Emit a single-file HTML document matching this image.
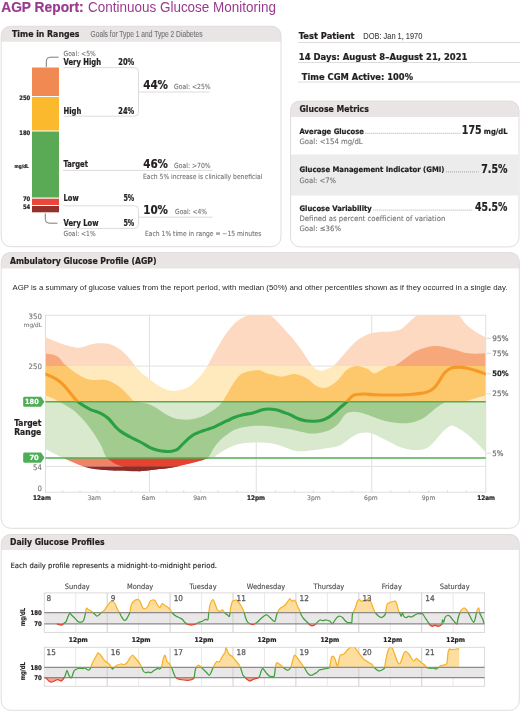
<!DOCTYPE html>
<html><head><meta charset="utf-8"><title>AGP Report</title>
<style>html,body{margin:0;padding:0;background:#fff;}svg{display:block;}</style></head>
<body><svg width="520" height="711" viewBox="0 0 520 711">
<rect width="520" height="711" fill="#fff"/>
<text x="1.2" y="11.9" font-family="Liberation Sans, sans-serif" font-size="14.6" fill="#993a8e"><tspan font-weight="bold" stroke="#993a8e" stroke-width="0.2" textLength="82.4" lengthAdjust="spacingAndGlyphs">AGP Report:</tspan><tspan x="88" textLength="188" lengthAdjust="spacingAndGlyphs">Continuous Glucose Monitoring</tspan></text>
<path d="M1.2,41.8 V35.8 Q1.2,26.3 10.7,26.3 H271.5 Q281,26.3 281,35.8 V41.8 Z" fill="#e9e5e4"/>
<rect x="1.2" y="26.3" width="279.8" height="220.39999999999998" rx="9.5" ry="9.5" fill="none" stroke="#e0dddc" stroke-width="1"/>
<text x="12" y="37" font-family="DejaVu Sans, sans-serif" font-size="9.3" font-weight="bold" stroke="#231f20" stroke-width="0.22" fill="#231f20" textLength="67.5" lengthAdjust="spacingAndGlyphs">Time in Ranges</text>
<text x="90.5" y="37.2" font-family="Liberation Sans, sans-serif" font-size="8.2" stroke="#747577" stroke-width="0.12" fill="#747577" textLength="112" lengthAdjust="spacingAndGlyphs">Goals for Type 1 and Type 2 Diabetes</text>
<rect x="32" y="67.5" width="27" height="28.5" fill="#f08a52"/>
<rect x="32" y="97" width="27" height="33.5" fill="#fbb92e"/>
<rect x="32" y="131.5" width="27" height="66.0" fill="#5aaa55"/>
<rect x="32" y="198.7" width="27" height="6.300000000000011" fill="#e8473a"/>
<rect x="32" y="206" width="27" height="6.300000000000011" fill="#95302a"/>
<text transform="translate(30.3,100.2) scale(0.85,1)" font-family="DejaVu Sans, sans-serif" font-size="6.2" font-weight="bold" stroke="#231f20" stroke-width="0.22" fill="#231f20" text-anchor="end">250</text>
<text transform="translate(30.3,134.6) scale(0.85,1)" font-family="DejaVu Sans, sans-serif" font-size="6.2" font-weight="bold" stroke="#231f20" stroke-width="0.22" fill="#231f20" text-anchor="end">180</text>
<text transform="translate(30.3,201.3) scale(0.85,1)" font-family="DejaVu Sans, sans-serif" font-size="6.2" font-weight="bold" stroke="#231f20" stroke-width="0.22" fill="#231f20" text-anchor="end">70</text>
<text transform="translate(30.3,209) scale(0.85,1)" font-family="DejaVu Sans, sans-serif" font-size="6.2" font-weight="bold" stroke="#231f20" stroke-width="0.22" fill="#231f20" text-anchor="end">54</text>
<text x="28.7" y="167.6" font-family="DejaVu Sans, sans-serif" font-size="5" font-weight="bold" stroke="#231f20" stroke-width="0.22" fill="#231f20" text-anchor="end" textLength="14.2" lengthAdjust="spacingAndGlyphs">mg/dL</text>
<path d="M46.3,67 V61 Q46.3,57.2 50.1,57.2 H58.6" fill="none" stroke="#7b7b7b" stroke-width="1"/>
<path d="M45.3,213.5 V219.4 Q45.3,223.2 49.1,223.2 H57.5" fill="none" stroke="#7b7b7b" stroke-width="1"/>
<text x="63.5" y="55.5" font-family="DejaVu Sans, sans-serif" font-size="7" stroke="#747577" stroke-width="0.12" fill="#747577" textLength="32.2" lengthAdjust="spacingAndGlyphs">Goal: &lt;5%</text>
<text x="63.5" y="64.5" font-family="DejaVu Sans, sans-serif" font-size="8" font-weight="bold" stroke="#231f20" stroke-width="0.22" fill="#231f20" textLength="37.5" lengthAdjust="spacingAndGlyphs">Very High</text>
<text x="134.3" y="64.5" font-family="DejaVu Sans, sans-serif" font-size="8" font-weight="bold" stroke="#231f20" stroke-width="0.22" fill="#231f20" text-anchor="end" textLength="16" lengthAdjust="spacingAndGlyphs">20%</text>
<text x="63.5" y="113.8" font-family="DejaVu Sans, sans-serif" font-size="8" font-weight="bold" stroke="#231f20" stroke-width="0.22" fill="#231f20" textLength="17.8" lengthAdjust="spacingAndGlyphs">High</text>
<text x="134.3" y="113.8" font-family="DejaVu Sans, sans-serif" font-size="8" font-weight="bold" stroke="#231f20" stroke-width="0.22" fill="#231f20" text-anchor="end" textLength="16" lengthAdjust="spacingAndGlyphs">24%</text>
<text x="63.5" y="167" font-family="DejaVu Sans, sans-serif" font-size="8" font-weight="bold" stroke="#231f20" stroke-width="0.22" fill="#231f20" textLength="24.4" lengthAdjust="spacingAndGlyphs">Target</text>
<text x="63.5" y="200.7" font-family="DejaVu Sans, sans-serif" font-size="8" font-weight="bold" stroke="#231f20" stroke-width="0.22" fill="#231f20" textLength="15.2" lengthAdjust="spacingAndGlyphs">Low</text>
<text x="134.3" y="200.7" font-family="DejaVu Sans, sans-serif" font-size="8" font-weight="bold" stroke="#231f20" stroke-width="0.22" fill="#231f20" text-anchor="end" textLength="10.9" lengthAdjust="spacingAndGlyphs">5%</text>
<text x="63.5" y="225.8" font-family="DejaVu Sans, sans-serif" font-size="8" font-weight="bold" stroke="#231f20" stroke-width="0.22" fill="#231f20" textLength="35" lengthAdjust="spacingAndGlyphs">Very Low</text>
<text x="134.3" y="225.8" font-family="DejaVu Sans, sans-serif" font-size="8" font-weight="bold" stroke="#231f20" stroke-width="0.22" fill="#231f20" text-anchor="end" textLength="10.9" lengthAdjust="spacingAndGlyphs">5%</text>
<text x="63.5" y="235.5" font-family="DejaVu Sans, sans-serif" font-size="7" stroke="#747577" stroke-width="0.12" fill="#747577" textLength="32.1" lengthAdjust="spacingAndGlyphs">Goal: &lt;1%</text>
<path d="M63.5,67.6 H134.5 Q138.5,67.6 138.5,71.6 V112.2 Q138.5,116.2 134.5,116.2 H63.5" fill="none" stroke="#dcdcdc" stroke-width="1"/>
<line x1="138.5" y1="92" x2="209.5" y2="92" stroke="#dcdcdc" stroke-width="1"/>
<path d="M63.5,205.8 H134.5 Q138.5,205.8 138.5,209.8 V224.4 Q138.5,228.4 134.5,228.4 H63.5" fill="none" stroke="#dcdcdc" stroke-width="1"/>
<line x1="138.5" y1="217.2" x2="212.5" y2="217.2" stroke="#dcdcdc" stroke-width="1"/>
<line x1="63" y1="170.4" x2="212.5" y2="170.4" stroke="#dcdcdc" stroke-width="1"/>
<text x="143.2" y="89.3" font-family="DejaVu Sans, sans-serif" font-size="12.5" font-weight="bold" stroke="#231f20" stroke-width="0.22" fill="#231f20" textLength="24.8" lengthAdjust="spacingAndGlyphs">44%</text>
<text x="174" y="89.3" font-family="DejaVu Sans, sans-serif" font-size="7" stroke="#747577" stroke-width="0.12" fill="#747577" textLength="36.6" lengthAdjust="spacingAndGlyphs">Goal: &lt;25%</text>
<text x="143.2" y="167.7" font-family="DejaVu Sans, sans-serif" font-size="12.5" font-weight="bold" stroke="#231f20" stroke-width="0.22" fill="#231f20" textLength="24.8" lengthAdjust="spacingAndGlyphs">46%</text>
<text x="174" y="167.7" font-family="DejaVu Sans, sans-serif" font-size="7" stroke="#747577" stroke-width="0.12" fill="#747577" textLength="36.6" lengthAdjust="spacingAndGlyphs">Goal: &gt;70%</text>
<text x="143" y="178.5" font-family="DejaVu Sans, sans-serif" font-size="7" stroke="#747577" stroke-width="0.12" fill="#747577" textLength="119.3" lengthAdjust="spacingAndGlyphs">Each 5% increase is clinically beneficial</text>
<text x="143.2" y="213.8" font-family="DejaVu Sans, sans-serif" font-size="12.5" font-weight="bold" stroke="#231f20" stroke-width="0.22" fill="#231f20" textLength="24.8" lengthAdjust="spacingAndGlyphs">10%</text>
<text x="175" y="213.8" font-family="DejaVu Sans, sans-serif" font-size="7" stroke="#747577" stroke-width="0.12" fill="#747577" textLength="32" lengthAdjust="spacingAndGlyphs">Goal: &lt;4%</text>
<text x="145" y="236" font-family="DejaVu Sans, sans-serif" font-size="7" stroke="#747577" stroke-width="0.12" fill="#747577" textLength="116.4" lengthAdjust="spacingAndGlyphs">Each 1% time in range = ~15 minutes</text>
<text x="298.8" y="39.4" font-family="DejaVu Sans, sans-serif" font-size="9.2" font-weight="bold" stroke="#231f20" stroke-width="0.22" fill="#231f20" textLength="55.8" lengthAdjust="spacingAndGlyphs">Test Patient</text>
<text x="363.3" y="39.4" font-family="Liberation Sans, sans-serif" font-size="8.3" stroke="#454547" stroke-width="0.12" fill="#454547" textLength="59.1" lengthAdjust="spacingAndGlyphs">DOB: Jan 1, 1970</text>
<line x1="298" y1="42.5" x2="520" y2="42.5" stroke="#dcdcdc" stroke-width="1"/>
<text x="298.8" y="59.6" font-family="DejaVu Sans, sans-serif" font-size="9.4" font-weight="bold" stroke="#231f20" stroke-width="0.22" fill="#231f20" textLength="168.6" lengthAdjust="spacingAndGlyphs">14 Days: August 8–August 21, 2021</text>
<line x1="298" y1="62.5" x2="520" y2="62.5" stroke="#dcdcdc" stroke-width="1"/>
<text x="301.8" y="79.5" font-family="DejaVu Sans, sans-serif" font-size="9.2" font-weight="bold" stroke="#231f20" stroke-width="0.22" fill="#231f20" textLength="111.2" lengthAdjust="spacingAndGlyphs">Time CGM Active: 100%</text>
<line x1="298" y1="82" x2="520" y2="82" stroke="#dcdcdc" stroke-width="1"/>
<path d="M290.5,117 V110.6 Q290.5,101.1 300.0,101.1 H509.5 Q519,101.1 519,110.6 V117 Z" fill="#e9e5e4"/>
<rect x="290.5" y="101.1" width="228.5" height="145.8" rx="9.5" ry="9.5" fill="none" stroke="#e0dddc" stroke-width="1"/>
<rect x="291" y="154.5" width="227.8" height="41" fill="#ececec"/>
<text x="299.5" y="111.6" font-family="DejaVu Sans, sans-serif" font-size="9" font-weight="bold" stroke="#231f20" stroke-width="0.22" fill="#231f20" textLength="69.3" lengthAdjust="spacingAndGlyphs">Glucose Metrics</text>
<text x="299.5" y="133.8" font-family="DejaVu Sans, sans-serif" font-size="7.5" font-weight="bold" stroke="#231f20" stroke-width="0.22" fill="#231f20" textLength="64.5" lengthAdjust="spacingAndGlyphs">Average Glucose</text>
<text x="299.5" y="144.3" font-family="DejaVu Sans, sans-serif" font-size="7.4" stroke="#747577" stroke-width="0.12" fill="#747577" textLength="63.2" lengthAdjust="spacingAndGlyphs">Goal: &lt;154 mg/dL</text>
<text x="461.8" y="134" font-family="DejaVu Sans, sans-serif" font-size="12.3" font-weight="bold" stroke="#231f20" stroke-width="0.22" fill="#231f20" textLength="19.8" lengthAdjust="spacingAndGlyphs">175</text>
<text x="483.8" y="134" font-family="DejaVu Sans, sans-serif" font-size="7.4" font-weight="bold" stroke="#231f20" stroke-width="0.22" fill="#231f20" textLength="23.7" lengthAdjust="spacingAndGlyphs">mg/dL</text>
<text x="299.5" y="172" font-family="DejaVu Sans, sans-serif" font-size="7.5" font-weight="bold" stroke="#231f20" stroke-width="0.22" fill="#231f20" textLength="145" lengthAdjust="spacingAndGlyphs">Glucose Management Indicator (GMI)</text>
<text x="299.5" y="182.5" font-family="DejaVu Sans, sans-serif" font-size="7.4" stroke="#747577" stroke-width="0.12" fill="#747577" textLength="36.6" lengthAdjust="spacingAndGlyphs">Goal: &lt;7%</text>
<text x="507.5" y="172.5" font-family="DejaVu Sans, sans-serif" font-size="12" font-weight="bold" stroke="#231f20" stroke-width="0.22" fill="#231f20" text-anchor="end" textLength="26.3" lengthAdjust="spacingAndGlyphs">7.5%</text>
<text x="299.5" y="210.5" font-family="DejaVu Sans, sans-serif" font-size="7.5" font-weight="bold" stroke="#231f20" stroke-width="0.22" fill="#231f20" textLength="72.3" lengthAdjust="spacingAndGlyphs">Glucose Variability</text>
<text x="299.5" y="220.8" font-family="DejaVu Sans, sans-serif" font-size="7.4" stroke="#747577" stroke-width="0.12" fill="#747577" textLength="145.9" lengthAdjust="spacingAndGlyphs">Defined as percent coefficient of variation</text>
<text x="299.5" y="231.3" font-family="DejaVu Sans, sans-serif" font-size="7.4" stroke="#747577" stroke-width="0.12" fill="#747577" textLength="41.5" lengthAdjust="spacingAndGlyphs">Goal: ≤36%</text>
<text x="507.5" y="210.5" font-family="DejaVu Sans, sans-serif" font-size="12" font-weight="bold" stroke="#231f20" stroke-width="0.22" fill="#231f20" text-anchor="end" textLength="32.5" lengthAdjust="spacingAndGlyphs">45.5%</text>
<line x1="365.5" y1="133.3" x2="461" y2="133.3" stroke="#6a6a6a" stroke-width="0.75" stroke-dasharray="0.75 1.25"/>
<line x1="446" y1="171.9" x2="478.5" y2="171.9" stroke="#6a6a6a" stroke-width="0.75" stroke-dasharray="0.75 1.25"/>
<line x1="373.5" y1="210.1" x2="472.5" y2="210.1" stroke="#6a6a6a" stroke-width="0.75" stroke-dasharray="0.75 1.25"/>
<path d="M1.2,268.6 V262.1 Q1.2,252.6 10.7,252.6 H509.79999999999995 Q519.3,252.6 519.3,262.1 V268.6 Z" fill="#e9e5e4"/>
<rect x="1.2" y="252.6" width="518.0999999999999" height="275.69999999999993" rx="9.5" ry="9.5" fill="none" stroke="#e0dddc" stroke-width="1"/>
<text x="10" y="264" font-family="DejaVu Sans, sans-serif" font-size="9" font-weight="bold" stroke="#231f20" stroke-width="0.22" fill="#231f20" textLength="146.5" lengthAdjust="spacingAndGlyphs">Ambulatory Glucose Profile (AGP)</text>
<text x="12.5" y="289.6" font-family="Liberation Sans, sans-serif" font-size="8.1" fill="#2a2627" textLength="495" lengthAdjust="spacingAndGlyphs" stroke="none">AGP is a summary of glucose values from the report period, with median (50%) and other percentiles shown as if they occurred in a single day.</text>
<path d="M1.2,550 V544.0 Q1.2,534.5 10.7,534.5 H509.79999999999995 Q519.3,534.5 519.3,544.0 V550 Z" fill="#e9e5e4"/>
<rect x="1.2" y="534.5" width="518.0999999999999" height="175.79999999999995" rx="9.5" ry="9.5" fill="none" stroke="#e0dddc" stroke-width="1"/>
<text x="10" y="545" font-family="DejaVu Sans, sans-serif" font-size="9.4" font-weight="bold" stroke="#231f20" stroke-width="0.22" fill="#231f20" textLength="94.5" lengthAdjust="spacingAndGlyphs">Daily Glucose Profiles</text>
<text x="10.5" y="567.7" font-family="DejaVu Sans, sans-serif" font-size="7.3" stroke="#231f20" stroke-width="0.12" fill="#231f20" textLength="206.5" lengthAdjust="spacingAndGlyphs">Each daily profile represents a midnight-to-midnight period.</text>
<defs>
<clipPath id="zvh"><rect x="45.5" y="315.2" width="440.25" height="50.900000000000034"/></clipPath>
<clipPath id="zh"><rect x="45.5" y="366.1" width="440.25" height="35.69999999999999"/></clipPath>
<clipPath id="zt"><rect x="45.5" y="401.8" width="440.25" height="56.099999999999966"/></clipPath>
<clipPath id="zl"><rect x="45.5" y="457.9" width="440.25" height="8.5"/></clipPath>
<clipPath id="zvl"><rect x="45.5" y="466.4" width="440.25" height="25.80000000000001"/></clipPath>
<clipPath id="chart"><rect x="45.5" y="315.2" width="440.25" height="177.0"/></clipPath>
</defs>
<line x1="149.5" y1="315.2" x2="149.5" y2="492.2" stroke="#e3dfdf" stroke-width="1"/>
<line x1="256.25" y1="315.2" x2="256.25" y2="492.2" stroke="#e3dfdf" stroke-width="1"/>
<line x1="371.75" y1="315.2" x2="371.75" y2="492.2" stroke="#e3dfdf" stroke-width="1"/>
<line x1="45.5" y1="366.1" x2="485.75" y2="366.1" stroke="#e3dfdf" stroke-width="1"/>
<line x1="45.5" y1="466.4" x2="485.75" y2="466.4" stroke="#e3dfdf" stroke-width="1"/>
<path d="M45.50,337.30 C47.10,337.95 51.80,339.92 55.10,341.20 C58.40,342.48 61.92,343.95 65.30,345.00 C68.68,346.05 72.45,347.17 75.40,347.50 C78.35,347.83 80.47,347.52 83.00,347.00 C85.53,346.48 87.63,345.03 90.60,344.40 C93.57,343.77 97.42,343.20 100.80,343.20 C104.18,343.20 107.53,343.27 110.90,344.40 C114.27,345.53 118.05,347.80 121.00,350.00 C123.95,352.20 126.27,354.98 128.60,357.60 C130.93,360.22 132.88,363.17 135.00,365.70 C137.12,368.23 138.98,370.68 141.30,372.80 C143.62,374.92 145.77,376.07 148.90,378.40 C152.03,380.73 156.53,384.77 160.10,386.80 C163.67,388.83 166.92,390.05 170.30,390.60 C173.68,391.15 177.02,390.95 180.40,390.10 C183.78,389.25 187.22,387.95 190.60,385.50 C193.98,383.05 197.88,378.68 200.70,375.40 C203.52,372.12 205.25,369.48 207.50,365.80 C209.75,362.12 211.48,358.10 214.20,353.30 C216.92,348.50 220.58,341.80 223.80,337.00 C227.02,332.20 230.30,327.73 233.50,324.50 C236.70,321.27 240.08,319.27 243.00,317.60 C245.92,315.93 248.17,315.18 251.00,314.50 C253.83,313.82 257.33,313.58 260.00,313.50 C262.67,313.42 265.00,313.50 267.00,314.00 C269.00,314.50 269.78,314.72 272.00,316.50 C274.22,318.28 277.22,321.43 280.30,324.70 C283.38,327.97 287.12,332.08 290.50,336.10 C293.88,340.12 297.65,344.78 300.60,348.80 C303.55,352.82 305.87,356.95 308.20,360.20 C310.53,363.45 312.48,366.53 314.60,368.30 C316.72,370.07 318.80,370.68 320.90,370.80 C323.00,370.92 325.08,369.85 327.20,369.00 C329.32,368.15 331.27,367.60 333.60,365.70 C335.93,363.80 338.25,360.88 341.20,357.60 C344.15,354.32 348.17,349.18 351.30,346.00 C354.43,342.82 356.87,340.58 360.00,338.50 C363.13,336.42 366.73,334.60 370.10,333.50 C373.47,332.40 376.83,332.22 380.20,331.90 C383.57,331.58 386.92,331.98 390.30,331.60 C393.68,331.22 397.67,330.90 400.50,329.60 C403.33,328.30 405.22,325.63 407.30,323.80 C409.38,321.97 410.88,320.32 413.00,318.60 C415.12,316.88 416.00,315.10 420.00,313.50 C424.00,311.90 430.98,309.08 437.00,309.00 C443.02,308.92 451.23,310.40 456.10,313.00 C460.97,315.60 462.83,321.40 466.20,324.60 C469.57,327.80 473.05,330.08 476.30,332.20 C479.55,334.32 484.13,336.45 485.70,337.30 L485.70,452.30 C484.13,450.67 479.55,445.63 476.30,442.50 C473.05,439.37 469.57,436.07 466.20,433.50 C462.83,430.93 458.63,428.38 456.10,427.10 C453.57,425.82 453.10,425.17 451.00,425.80 C448.90,426.43 446.02,428.58 443.50,430.90 C440.98,433.22 438.43,436.97 435.90,439.70 C433.37,442.43 430.83,445.62 428.30,447.30 C425.77,448.98 423.65,449.38 420.70,449.80 C417.75,450.22 413.97,450.22 410.60,449.80 C407.23,449.38 403.88,448.57 400.50,447.30 C397.12,446.03 393.68,443.88 390.30,442.20 C386.92,440.52 383.57,438.75 380.20,437.20 C376.83,435.65 373.47,433.60 370.10,432.90 C366.73,432.20 363.10,432.27 360.00,433.00 C356.90,433.73 354.70,435.30 351.50,437.30 C348.30,439.30 344.22,443.28 340.80,445.00 C337.38,446.72 334.73,446.87 331.00,447.60 C327.27,448.33 322.62,448.85 318.40,449.40 C314.18,449.95 309.27,450.60 305.70,450.90 C302.13,451.20 299.62,451.47 297.00,451.20 C294.38,450.93 292.58,450.17 290.00,449.30 C287.42,448.43 284.52,446.98 281.50,446.00 C278.48,445.02 276.07,444.00 271.90,443.40 C267.73,442.80 261.32,442.43 256.50,442.40 C251.68,442.37 246.83,442.65 243.00,443.20 C239.17,443.75 236.70,444.47 233.50,445.70 C230.30,446.93 226.72,448.97 223.80,450.60 C220.88,452.23 217.32,454.52 216.00,455.50 C214.68,456.48 217.53,455.95 215.90,456.50 C214.27,457.05 208.60,458.15 206.20,458.80 C203.80,459.45 204.07,459.67 201.50,460.40 C198.93,461.13 194.38,462.30 190.80,463.20 C187.22,464.10 183.33,465.03 180.00,465.80 C176.67,466.57 174.90,467.17 170.80,467.80 C166.70,468.43 160.53,469.03 155.40,469.60 C150.27,470.17 145.90,471.00 140.00,471.20 C134.10,471.40 125.00,470.92 120.00,470.80 C115.00,470.68 113.33,470.67 110.00,470.50 C106.67,470.33 103.00,470.08 100.00,469.80 C97.00,469.52 94.50,469.27 92.00,468.80 C89.50,468.33 87.33,467.72 85.00,467.00 C82.67,466.28 80.50,465.50 78.00,464.50 C75.50,463.50 72.55,462.12 70.00,461.00 C67.45,459.88 65.18,458.97 62.70,457.80 C60.22,456.63 57.97,455.48 55.10,454.00 C52.23,452.52 47.10,449.75 45.50,448.90 Z" fill="#fdd9c1" clip-path="url(#zvh)"/>
<path d="M45.50,337.30 C47.10,337.95 51.80,339.92 55.10,341.20 C58.40,342.48 61.92,343.95 65.30,345.00 C68.68,346.05 72.45,347.17 75.40,347.50 C78.35,347.83 80.47,347.52 83.00,347.00 C85.53,346.48 87.63,345.03 90.60,344.40 C93.57,343.77 97.42,343.20 100.80,343.20 C104.18,343.20 107.53,343.27 110.90,344.40 C114.27,345.53 118.05,347.80 121.00,350.00 C123.95,352.20 126.27,354.98 128.60,357.60 C130.93,360.22 132.88,363.17 135.00,365.70 C137.12,368.23 138.98,370.68 141.30,372.80 C143.62,374.92 145.77,376.07 148.90,378.40 C152.03,380.73 156.53,384.77 160.10,386.80 C163.67,388.83 166.92,390.05 170.30,390.60 C173.68,391.15 177.02,390.95 180.40,390.10 C183.78,389.25 187.22,387.95 190.60,385.50 C193.98,383.05 197.88,378.68 200.70,375.40 C203.52,372.12 205.25,369.48 207.50,365.80 C209.75,362.12 211.48,358.10 214.20,353.30 C216.92,348.50 220.58,341.80 223.80,337.00 C227.02,332.20 230.30,327.73 233.50,324.50 C236.70,321.27 240.08,319.27 243.00,317.60 C245.92,315.93 248.17,315.18 251.00,314.50 C253.83,313.82 257.33,313.58 260.00,313.50 C262.67,313.42 265.00,313.50 267.00,314.00 C269.00,314.50 269.78,314.72 272.00,316.50 C274.22,318.28 277.22,321.43 280.30,324.70 C283.38,327.97 287.12,332.08 290.50,336.10 C293.88,340.12 297.65,344.78 300.60,348.80 C303.55,352.82 305.87,356.95 308.20,360.20 C310.53,363.45 312.48,366.53 314.60,368.30 C316.72,370.07 318.80,370.68 320.90,370.80 C323.00,370.92 325.08,369.85 327.20,369.00 C329.32,368.15 331.27,367.60 333.60,365.70 C335.93,363.80 338.25,360.88 341.20,357.60 C344.15,354.32 348.17,349.18 351.30,346.00 C354.43,342.82 356.87,340.58 360.00,338.50 C363.13,336.42 366.73,334.60 370.10,333.50 C373.47,332.40 376.83,332.22 380.20,331.90 C383.57,331.58 386.92,331.98 390.30,331.60 C393.68,331.22 397.67,330.90 400.50,329.60 C403.33,328.30 405.22,325.63 407.30,323.80 C409.38,321.97 410.88,320.32 413.00,318.60 C415.12,316.88 416.00,315.10 420.00,313.50 C424.00,311.90 430.98,309.08 437.00,309.00 C443.02,308.92 451.23,310.40 456.10,313.00 C460.97,315.60 462.83,321.40 466.20,324.60 C469.57,327.80 473.05,330.08 476.30,332.20 C479.55,334.32 484.13,336.45 485.70,337.30 L485.70,452.30 C484.13,450.67 479.55,445.63 476.30,442.50 C473.05,439.37 469.57,436.07 466.20,433.50 C462.83,430.93 458.63,428.38 456.10,427.10 C453.57,425.82 453.10,425.17 451.00,425.80 C448.90,426.43 446.02,428.58 443.50,430.90 C440.98,433.22 438.43,436.97 435.90,439.70 C433.37,442.43 430.83,445.62 428.30,447.30 C425.77,448.98 423.65,449.38 420.70,449.80 C417.75,450.22 413.97,450.22 410.60,449.80 C407.23,449.38 403.88,448.57 400.50,447.30 C397.12,446.03 393.68,443.88 390.30,442.20 C386.92,440.52 383.57,438.75 380.20,437.20 C376.83,435.65 373.47,433.60 370.10,432.90 C366.73,432.20 363.10,432.27 360.00,433.00 C356.90,433.73 354.70,435.30 351.50,437.30 C348.30,439.30 344.22,443.28 340.80,445.00 C337.38,446.72 334.73,446.87 331.00,447.60 C327.27,448.33 322.62,448.85 318.40,449.40 C314.18,449.95 309.27,450.60 305.70,450.90 C302.13,451.20 299.62,451.47 297.00,451.20 C294.38,450.93 292.58,450.17 290.00,449.30 C287.42,448.43 284.52,446.98 281.50,446.00 C278.48,445.02 276.07,444.00 271.90,443.40 C267.73,442.80 261.32,442.43 256.50,442.40 C251.68,442.37 246.83,442.65 243.00,443.20 C239.17,443.75 236.70,444.47 233.50,445.70 C230.30,446.93 226.72,448.97 223.80,450.60 C220.88,452.23 217.32,454.52 216.00,455.50 C214.68,456.48 217.53,455.95 215.90,456.50 C214.27,457.05 208.60,458.15 206.20,458.80 C203.80,459.45 204.07,459.67 201.50,460.40 C198.93,461.13 194.38,462.30 190.80,463.20 C187.22,464.10 183.33,465.03 180.00,465.80 C176.67,466.57 174.90,467.17 170.80,467.80 C166.70,468.43 160.53,469.03 155.40,469.60 C150.27,470.17 145.90,471.00 140.00,471.20 C134.10,471.40 125.00,470.92 120.00,470.80 C115.00,470.68 113.33,470.67 110.00,470.50 C106.67,470.33 103.00,470.08 100.00,469.80 C97.00,469.52 94.50,469.27 92.00,468.80 C89.50,468.33 87.33,467.72 85.00,467.00 C82.67,466.28 80.50,465.50 78.00,464.50 C75.50,463.50 72.55,462.12 70.00,461.00 C67.45,459.88 65.18,458.97 62.70,457.80 C60.22,456.63 57.97,455.48 55.10,454.00 C52.23,452.52 47.10,449.75 45.50,448.90 Z" fill="#feeabd" clip-path="url(#zh)"/>
<path d="M45.50,337.30 C47.10,337.95 51.80,339.92 55.10,341.20 C58.40,342.48 61.92,343.95 65.30,345.00 C68.68,346.05 72.45,347.17 75.40,347.50 C78.35,347.83 80.47,347.52 83.00,347.00 C85.53,346.48 87.63,345.03 90.60,344.40 C93.57,343.77 97.42,343.20 100.80,343.20 C104.18,343.20 107.53,343.27 110.90,344.40 C114.27,345.53 118.05,347.80 121.00,350.00 C123.95,352.20 126.27,354.98 128.60,357.60 C130.93,360.22 132.88,363.17 135.00,365.70 C137.12,368.23 138.98,370.68 141.30,372.80 C143.62,374.92 145.77,376.07 148.90,378.40 C152.03,380.73 156.53,384.77 160.10,386.80 C163.67,388.83 166.92,390.05 170.30,390.60 C173.68,391.15 177.02,390.95 180.40,390.10 C183.78,389.25 187.22,387.95 190.60,385.50 C193.98,383.05 197.88,378.68 200.70,375.40 C203.52,372.12 205.25,369.48 207.50,365.80 C209.75,362.12 211.48,358.10 214.20,353.30 C216.92,348.50 220.58,341.80 223.80,337.00 C227.02,332.20 230.30,327.73 233.50,324.50 C236.70,321.27 240.08,319.27 243.00,317.60 C245.92,315.93 248.17,315.18 251.00,314.50 C253.83,313.82 257.33,313.58 260.00,313.50 C262.67,313.42 265.00,313.50 267.00,314.00 C269.00,314.50 269.78,314.72 272.00,316.50 C274.22,318.28 277.22,321.43 280.30,324.70 C283.38,327.97 287.12,332.08 290.50,336.10 C293.88,340.12 297.65,344.78 300.60,348.80 C303.55,352.82 305.87,356.95 308.20,360.20 C310.53,363.45 312.48,366.53 314.60,368.30 C316.72,370.07 318.80,370.68 320.90,370.80 C323.00,370.92 325.08,369.85 327.20,369.00 C329.32,368.15 331.27,367.60 333.60,365.70 C335.93,363.80 338.25,360.88 341.20,357.60 C344.15,354.32 348.17,349.18 351.30,346.00 C354.43,342.82 356.87,340.58 360.00,338.50 C363.13,336.42 366.73,334.60 370.10,333.50 C373.47,332.40 376.83,332.22 380.20,331.90 C383.57,331.58 386.92,331.98 390.30,331.60 C393.68,331.22 397.67,330.90 400.50,329.60 C403.33,328.30 405.22,325.63 407.30,323.80 C409.38,321.97 410.88,320.32 413.00,318.60 C415.12,316.88 416.00,315.10 420.00,313.50 C424.00,311.90 430.98,309.08 437.00,309.00 C443.02,308.92 451.23,310.40 456.10,313.00 C460.97,315.60 462.83,321.40 466.20,324.60 C469.57,327.80 473.05,330.08 476.30,332.20 C479.55,334.32 484.13,336.45 485.70,337.30 L485.70,452.30 C484.13,450.67 479.55,445.63 476.30,442.50 C473.05,439.37 469.57,436.07 466.20,433.50 C462.83,430.93 458.63,428.38 456.10,427.10 C453.57,425.82 453.10,425.17 451.00,425.80 C448.90,426.43 446.02,428.58 443.50,430.90 C440.98,433.22 438.43,436.97 435.90,439.70 C433.37,442.43 430.83,445.62 428.30,447.30 C425.77,448.98 423.65,449.38 420.70,449.80 C417.75,450.22 413.97,450.22 410.60,449.80 C407.23,449.38 403.88,448.57 400.50,447.30 C397.12,446.03 393.68,443.88 390.30,442.20 C386.92,440.52 383.57,438.75 380.20,437.20 C376.83,435.65 373.47,433.60 370.10,432.90 C366.73,432.20 363.10,432.27 360.00,433.00 C356.90,433.73 354.70,435.30 351.50,437.30 C348.30,439.30 344.22,443.28 340.80,445.00 C337.38,446.72 334.73,446.87 331.00,447.60 C327.27,448.33 322.62,448.85 318.40,449.40 C314.18,449.95 309.27,450.60 305.70,450.90 C302.13,451.20 299.62,451.47 297.00,451.20 C294.38,450.93 292.58,450.17 290.00,449.30 C287.42,448.43 284.52,446.98 281.50,446.00 C278.48,445.02 276.07,444.00 271.90,443.40 C267.73,442.80 261.32,442.43 256.50,442.40 C251.68,442.37 246.83,442.65 243.00,443.20 C239.17,443.75 236.70,444.47 233.50,445.70 C230.30,446.93 226.72,448.97 223.80,450.60 C220.88,452.23 217.32,454.52 216.00,455.50 C214.68,456.48 217.53,455.95 215.90,456.50 C214.27,457.05 208.60,458.15 206.20,458.80 C203.80,459.45 204.07,459.67 201.50,460.40 C198.93,461.13 194.38,462.30 190.80,463.20 C187.22,464.10 183.33,465.03 180.00,465.80 C176.67,466.57 174.90,467.17 170.80,467.80 C166.70,468.43 160.53,469.03 155.40,469.60 C150.27,470.17 145.90,471.00 140.00,471.20 C134.10,471.40 125.00,470.92 120.00,470.80 C115.00,470.68 113.33,470.67 110.00,470.50 C106.67,470.33 103.00,470.08 100.00,469.80 C97.00,469.52 94.50,469.27 92.00,468.80 C89.50,468.33 87.33,467.72 85.00,467.00 C82.67,466.28 80.50,465.50 78.00,464.50 C75.50,463.50 72.55,462.12 70.00,461.00 C67.45,459.88 65.18,458.97 62.70,457.80 C60.22,456.63 57.97,455.48 55.10,454.00 C52.23,452.52 47.10,449.75 45.50,448.90 Z" fill="#d9e9cd" clip-path="url(#zt)"/>
<path d="M45.50,337.30 C47.10,337.95 51.80,339.92 55.10,341.20 C58.40,342.48 61.92,343.95 65.30,345.00 C68.68,346.05 72.45,347.17 75.40,347.50 C78.35,347.83 80.47,347.52 83.00,347.00 C85.53,346.48 87.63,345.03 90.60,344.40 C93.57,343.77 97.42,343.20 100.80,343.20 C104.18,343.20 107.53,343.27 110.90,344.40 C114.27,345.53 118.05,347.80 121.00,350.00 C123.95,352.20 126.27,354.98 128.60,357.60 C130.93,360.22 132.88,363.17 135.00,365.70 C137.12,368.23 138.98,370.68 141.30,372.80 C143.62,374.92 145.77,376.07 148.90,378.40 C152.03,380.73 156.53,384.77 160.10,386.80 C163.67,388.83 166.92,390.05 170.30,390.60 C173.68,391.15 177.02,390.95 180.40,390.10 C183.78,389.25 187.22,387.95 190.60,385.50 C193.98,383.05 197.88,378.68 200.70,375.40 C203.52,372.12 205.25,369.48 207.50,365.80 C209.75,362.12 211.48,358.10 214.20,353.30 C216.92,348.50 220.58,341.80 223.80,337.00 C227.02,332.20 230.30,327.73 233.50,324.50 C236.70,321.27 240.08,319.27 243.00,317.60 C245.92,315.93 248.17,315.18 251.00,314.50 C253.83,313.82 257.33,313.58 260.00,313.50 C262.67,313.42 265.00,313.50 267.00,314.00 C269.00,314.50 269.78,314.72 272.00,316.50 C274.22,318.28 277.22,321.43 280.30,324.70 C283.38,327.97 287.12,332.08 290.50,336.10 C293.88,340.12 297.65,344.78 300.60,348.80 C303.55,352.82 305.87,356.95 308.20,360.20 C310.53,363.45 312.48,366.53 314.60,368.30 C316.72,370.07 318.80,370.68 320.90,370.80 C323.00,370.92 325.08,369.85 327.20,369.00 C329.32,368.15 331.27,367.60 333.60,365.70 C335.93,363.80 338.25,360.88 341.20,357.60 C344.15,354.32 348.17,349.18 351.30,346.00 C354.43,342.82 356.87,340.58 360.00,338.50 C363.13,336.42 366.73,334.60 370.10,333.50 C373.47,332.40 376.83,332.22 380.20,331.90 C383.57,331.58 386.92,331.98 390.30,331.60 C393.68,331.22 397.67,330.90 400.50,329.60 C403.33,328.30 405.22,325.63 407.30,323.80 C409.38,321.97 410.88,320.32 413.00,318.60 C415.12,316.88 416.00,315.10 420.00,313.50 C424.00,311.90 430.98,309.08 437.00,309.00 C443.02,308.92 451.23,310.40 456.10,313.00 C460.97,315.60 462.83,321.40 466.20,324.60 C469.57,327.80 473.05,330.08 476.30,332.20 C479.55,334.32 484.13,336.45 485.70,337.30 L485.70,452.30 C484.13,450.67 479.55,445.63 476.30,442.50 C473.05,439.37 469.57,436.07 466.20,433.50 C462.83,430.93 458.63,428.38 456.10,427.10 C453.57,425.82 453.10,425.17 451.00,425.80 C448.90,426.43 446.02,428.58 443.50,430.90 C440.98,433.22 438.43,436.97 435.90,439.70 C433.37,442.43 430.83,445.62 428.30,447.30 C425.77,448.98 423.65,449.38 420.70,449.80 C417.75,450.22 413.97,450.22 410.60,449.80 C407.23,449.38 403.88,448.57 400.50,447.30 C397.12,446.03 393.68,443.88 390.30,442.20 C386.92,440.52 383.57,438.75 380.20,437.20 C376.83,435.65 373.47,433.60 370.10,432.90 C366.73,432.20 363.10,432.27 360.00,433.00 C356.90,433.73 354.70,435.30 351.50,437.30 C348.30,439.30 344.22,443.28 340.80,445.00 C337.38,446.72 334.73,446.87 331.00,447.60 C327.27,448.33 322.62,448.85 318.40,449.40 C314.18,449.95 309.27,450.60 305.70,450.90 C302.13,451.20 299.62,451.47 297.00,451.20 C294.38,450.93 292.58,450.17 290.00,449.30 C287.42,448.43 284.52,446.98 281.50,446.00 C278.48,445.02 276.07,444.00 271.90,443.40 C267.73,442.80 261.32,442.43 256.50,442.40 C251.68,442.37 246.83,442.65 243.00,443.20 C239.17,443.75 236.70,444.47 233.50,445.70 C230.30,446.93 226.72,448.97 223.80,450.60 C220.88,452.23 217.32,454.52 216.00,455.50 C214.68,456.48 217.53,455.95 215.90,456.50 C214.27,457.05 208.60,458.15 206.20,458.80 C203.80,459.45 204.07,459.67 201.50,460.40 C198.93,461.13 194.38,462.30 190.80,463.20 C187.22,464.10 183.33,465.03 180.00,465.80 C176.67,466.57 174.90,467.17 170.80,467.80 C166.70,468.43 160.53,469.03 155.40,469.60 C150.27,470.17 145.90,471.00 140.00,471.20 C134.10,471.40 125.00,470.92 120.00,470.80 C115.00,470.68 113.33,470.67 110.00,470.50 C106.67,470.33 103.00,470.08 100.00,469.80 C97.00,469.52 94.50,469.27 92.00,468.80 C89.50,468.33 87.33,467.72 85.00,467.00 C82.67,466.28 80.50,465.50 78.00,464.50 C75.50,463.50 72.55,462.12 70.00,461.00 C67.45,459.88 65.18,458.97 62.70,457.80 C60.22,456.63 57.97,455.48 55.10,454.00 C52.23,452.52 47.10,449.75 45.50,448.90 Z" fill="#f08365" clip-path="url(#zl)"/>
<path d="M45.50,337.30 C47.10,337.95 51.80,339.92 55.10,341.20 C58.40,342.48 61.92,343.95 65.30,345.00 C68.68,346.05 72.45,347.17 75.40,347.50 C78.35,347.83 80.47,347.52 83.00,347.00 C85.53,346.48 87.63,345.03 90.60,344.40 C93.57,343.77 97.42,343.20 100.80,343.20 C104.18,343.20 107.53,343.27 110.90,344.40 C114.27,345.53 118.05,347.80 121.00,350.00 C123.95,352.20 126.27,354.98 128.60,357.60 C130.93,360.22 132.88,363.17 135.00,365.70 C137.12,368.23 138.98,370.68 141.30,372.80 C143.62,374.92 145.77,376.07 148.90,378.40 C152.03,380.73 156.53,384.77 160.10,386.80 C163.67,388.83 166.92,390.05 170.30,390.60 C173.68,391.15 177.02,390.95 180.40,390.10 C183.78,389.25 187.22,387.95 190.60,385.50 C193.98,383.05 197.88,378.68 200.70,375.40 C203.52,372.12 205.25,369.48 207.50,365.80 C209.75,362.12 211.48,358.10 214.20,353.30 C216.92,348.50 220.58,341.80 223.80,337.00 C227.02,332.20 230.30,327.73 233.50,324.50 C236.70,321.27 240.08,319.27 243.00,317.60 C245.92,315.93 248.17,315.18 251.00,314.50 C253.83,313.82 257.33,313.58 260.00,313.50 C262.67,313.42 265.00,313.50 267.00,314.00 C269.00,314.50 269.78,314.72 272.00,316.50 C274.22,318.28 277.22,321.43 280.30,324.70 C283.38,327.97 287.12,332.08 290.50,336.10 C293.88,340.12 297.65,344.78 300.60,348.80 C303.55,352.82 305.87,356.95 308.20,360.20 C310.53,363.45 312.48,366.53 314.60,368.30 C316.72,370.07 318.80,370.68 320.90,370.80 C323.00,370.92 325.08,369.85 327.20,369.00 C329.32,368.15 331.27,367.60 333.60,365.70 C335.93,363.80 338.25,360.88 341.20,357.60 C344.15,354.32 348.17,349.18 351.30,346.00 C354.43,342.82 356.87,340.58 360.00,338.50 C363.13,336.42 366.73,334.60 370.10,333.50 C373.47,332.40 376.83,332.22 380.20,331.90 C383.57,331.58 386.92,331.98 390.30,331.60 C393.68,331.22 397.67,330.90 400.50,329.60 C403.33,328.30 405.22,325.63 407.30,323.80 C409.38,321.97 410.88,320.32 413.00,318.60 C415.12,316.88 416.00,315.10 420.00,313.50 C424.00,311.90 430.98,309.08 437.00,309.00 C443.02,308.92 451.23,310.40 456.10,313.00 C460.97,315.60 462.83,321.40 466.20,324.60 C469.57,327.80 473.05,330.08 476.30,332.20 C479.55,334.32 484.13,336.45 485.70,337.30 L485.70,452.30 C484.13,450.67 479.55,445.63 476.30,442.50 C473.05,439.37 469.57,436.07 466.20,433.50 C462.83,430.93 458.63,428.38 456.10,427.10 C453.57,425.82 453.10,425.17 451.00,425.80 C448.90,426.43 446.02,428.58 443.50,430.90 C440.98,433.22 438.43,436.97 435.90,439.70 C433.37,442.43 430.83,445.62 428.30,447.30 C425.77,448.98 423.65,449.38 420.70,449.80 C417.75,450.22 413.97,450.22 410.60,449.80 C407.23,449.38 403.88,448.57 400.50,447.30 C397.12,446.03 393.68,443.88 390.30,442.20 C386.92,440.52 383.57,438.75 380.20,437.20 C376.83,435.65 373.47,433.60 370.10,432.90 C366.73,432.20 363.10,432.27 360.00,433.00 C356.90,433.73 354.70,435.30 351.50,437.30 C348.30,439.30 344.22,443.28 340.80,445.00 C337.38,446.72 334.73,446.87 331.00,447.60 C327.27,448.33 322.62,448.85 318.40,449.40 C314.18,449.95 309.27,450.60 305.70,450.90 C302.13,451.20 299.62,451.47 297.00,451.20 C294.38,450.93 292.58,450.17 290.00,449.30 C287.42,448.43 284.52,446.98 281.50,446.00 C278.48,445.02 276.07,444.00 271.90,443.40 C267.73,442.80 261.32,442.43 256.50,442.40 C251.68,442.37 246.83,442.65 243.00,443.20 C239.17,443.75 236.70,444.47 233.50,445.70 C230.30,446.93 226.72,448.97 223.80,450.60 C220.88,452.23 217.32,454.52 216.00,455.50 C214.68,456.48 217.53,455.95 215.90,456.50 C214.27,457.05 208.60,458.15 206.20,458.80 C203.80,459.45 204.07,459.67 201.50,460.40 C198.93,461.13 194.38,462.30 190.80,463.20 C187.22,464.10 183.33,465.03 180.00,465.80 C176.67,466.57 174.90,467.17 170.80,467.80 C166.70,468.43 160.53,469.03 155.40,469.60 C150.27,470.17 145.90,471.00 140.00,471.20 C134.10,471.40 125.00,470.92 120.00,470.80 C115.00,470.68 113.33,470.67 110.00,470.50 C106.67,470.33 103.00,470.08 100.00,469.80 C97.00,469.52 94.50,469.27 92.00,468.80 C89.50,468.33 87.33,467.72 85.00,467.00 C82.67,466.28 80.50,465.50 78.00,464.50 C75.50,463.50 72.55,462.12 70.00,461.00 C67.45,459.88 65.18,458.97 62.70,457.80 C60.22,456.63 57.97,455.48 55.10,454.00 C52.23,452.52 47.10,449.75 45.50,448.90 Z" fill="#8e2d28" clip-path="url(#zvl)"/>
<path d="M45.50,353.80 C46.68,353.93 50.37,353.97 52.60,354.60 C54.83,355.23 57.00,356.03 58.90,357.60 C60.80,359.17 62.73,362.65 64.00,364.00 C65.27,365.35 64.60,364.23 66.50,365.70 C68.40,367.17 72.22,370.68 75.40,372.80 C78.58,374.92 82.22,377.20 85.60,378.40 C88.98,379.60 92.33,379.73 95.70,380.00 C99.07,380.27 102.85,379.50 105.80,380.00 C108.75,380.50 110.87,381.67 113.40,383.00 C115.93,384.33 118.47,385.90 121.00,388.00 C123.53,390.10 126.48,393.40 128.60,395.60 C130.72,397.80 131.88,400.07 133.70,401.20 C135.52,402.33 137.38,402.00 139.50,402.40 C141.62,402.80 144.15,403.00 146.40,403.60 C148.65,404.20 150.72,404.85 153.00,406.00 C155.28,407.15 157.65,408.95 160.10,410.50 C162.55,412.05 165.17,413.97 167.70,415.30 C170.23,416.63 172.33,417.77 175.30,418.50 C178.27,419.23 182.12,419.70 185.50,419.70 C188.88,419.70 192.22,419.33 195.60,418.50 C198.98,417.67 202.42,416.40 205.80,414.70 C209.18,413.00 213.17,410.42 215.90,408.30 C218.63,406.18 220.52,404.10 222.20,402.00 C223.88,399.90 224.08,398.87 226.00,395.70 C227.92,392.53 231.15,386.60 233.70,383.00 C236.25,379.40 238.35,376.13 241.30,374.10 C244.25,372.07 248.28,371.43 251.40,370.80 C254.52,370.17 257.72,369.97 260.00,370.30 C262.28,370.63 262.55,371.95 265.10,372.80 C267.65,373.65 272.33,374.77 275.30,375.40 C278.27,376.03 279.95,376.82 282.90,376.60 C285.85,376.38 290.05,374.30 293.00,374.10 C295.95,373.90 298.07,374.55 300.60,375.40 C303.13,376.25 305.67,377.52 308.20,379.20 C310.73,380.88 313.27,384.03 315.80,385.50 C318.33,386.97 320.87,388.00 323.40,388.00 C325.93,388.00 328.45,386.97 331.00,385.50 C333.55,384.03 336.15,381.73 338.70,379.20 C341.25,376.67 343.77,372.42 346.30,370.30 C348.83,368.18 351.62,367.15 353.90,366.50 C356.18,365.85 357.72,366.00 360.00,366.40 C362.28,366.80 365.28,367.77 367.60,368.90 C369.92,370.03 371.80,372.90 373.90,373.20 C376.00,373.50 377.88,371.83 380.20,370.70 C382.52,369.57 385.27,367.28 387.80,366.40 C390.33,365.52 392.45,366.75 395.40,365.40 C398.35,364.05 402.13,360.65 405.50,358.30 C408.87,355.95 412.22,353.12 415.60,351.30 C418.98,349.48 422.42,348.27 425.80,347.40 C429.18,346.53 432.53,346.10 435.90,346.10 C439.27,346.10 442.63,346.77 446.00,347.40 C449.37,348.03 452.73,348.97 456.10,349.90 C459.47,350.83 462.83,352.37 466.20,353.00 C469.57,353.63 473.05,353.70 476.30,353.70 C479.55,353.70 484.13,353.12 485.70,353.00 L485.70,395.50 C484.13,395.92 479.55,397.08 476.30,398.00 C473.05,398.92 469.58,400.40 466.20,401.00 C462.82,401.60 459.15,401.47 456.00,401.60 C452.85,401.73 449.38,401.57 447.30,401.80 C445.22,402.03 445.40,401.95 443.50,403.00 C441.60,404.05 438.43,406.20 435.90,408.10 C433.37,410.00 430.83,412.50 428.30,414.40 C425.77,416.30 423.65,418.10 420.70,419.50 C417.75,420.90 413.97,422.17 410.60,422.80 C407.23,423.43 403.88,423.43 400.50,423.30 C397.12,423.17 393.68,422.63 390.30,422.00 C386.92,421.37 383.57,420.55 380.20,419.50 C376.83,418.45 373.47,416.87 370.10,415.70 C366.73,414.53 363.10,413.13 360.00,412.50 C356.90,411.87 353.93,411.62 351.50,411.90 C349.07,412.18 347.45,412.40 345.40,414.20 C343.35,416.00 341.10,420.48 339.20,422.70 C337.30,424.92 335.78,426.22 334.00,427.50 C332.22,428.78 330.83,429.52 328.50,430.40 C326.17,431.28 322.57,432.28 320.00,432.80 C317.43,433.32 315.53,433.52 313.10,433.50 C310.67,433.48 309.25,433.40 305.40,432.70 C301.55,432.00 293.98,430.08 290.00,429.30 C286.02,428.52 284.52,428.47 281.50,428.00 C278.48,427.53 275.10,426.87 271.90,426.50 C268.70,426.13 265.50,425.90 262.30,425.80 C259.10,425.70 255.92,425.67 252.70,425.90 C249.48,426.13 246.20,426.48 243.00,427.20 C239.80,427.92 236.70,428.57 233.50,430.20 C230.30,431.83 226.22,435.10 223.80,437.00 C221.38,438.90 220.60,439.83 219.00,441.60 C217.40,443.37 215.70,445.37 214.20,447.60 C212.70,449.83 211.33,453.13 210.00,455.00 C208.67,456.87 207.62,457.90 206.20,458.80 C204.78,459.70 204.07,459.67 201.50,460.40 C198.93,461.13 194.38,462.30 190.80,463.20 C187.22,464.10 183.33,465.03 180.00,465.80 C176.67,466.57 174.90,467.17 170.80,467.80 C166.70,468.43 160.53,469.03 155.40,469.60 C150.27,470.17 142.90,470.98 140.00,471.20 C137.10,471.42 139.67,471.22 138.00,470.90 C136.33,470.58 132.42,469.98 130.00,469.30 C127.58,468.62 125.50,467.52 123.50,466.80 C121.50,466.08 119.75,465.72 118.00,465.00 C116.25,464.28 114.75,463.57 113.00,462.50 C111.25,461.43 108.83,459.85 107.50,458.60 C106.17,457.35 106.12,457.27 105.00,455.00 C103.88,452.73 102.78,448.75 100.80,445.00 C98.82,441.25 95.98,436.67 93.10,432.50 C90.22,428.33 86.72,423.65 83.50,420.00 C80.28,416.35 76.47,412.87 73.80,410.60 C71.13,408.33 69.47,407.63 67.50,406.40 C65.53,405.17 63.58,404.07 62.00,403.20 C60.42,402.33 59.67,402.07 58.00,401.20 C56.33,400.33 54.08,398.93 52.00,398.00 C49.92,397.07 46.58,396.00 45.50,395.60 Z" fill="#f6a87b" clip-path="url(#zvh)"/>
<path d="M45.50,353.80 C46.68,353.93 50.37,353.97 52.60,354.60 C54.83,355.23 57.00,356.03 58.90,357.60 C60.80,359.17 62.73,362.65 64.00,364.00 C65.27,365.35 64.60,364.23 66.50,365.70 C68.40,367.17 72.22,370.68 75.40,372.80 C78.58,374.92 82.22,377.20 85.60,378.40 C88.98,379.60 92.33,379.73 95.70,380.00 C99.07,380.27 102.85,379.50 105.80,380.00 C108.75,380.50 110.87,381.67 113.40,383.00 C115.93,384.33 118.47,385.90 121.00,388.00 C123.53,390.10 126.48,393.40 128.60,395.60 C130.72,397.80 131.88,400.07 133.70,401.20 C135.52,402.33 137.38,402.00 139.50,402.40 C141.62,402.80 144.15,403.00 146.40,403.60 C148.65,404.20 150.72,404.85 153.00,406.00 C155.28,407.15 157.65,408.95 160.10,410.50 C162.55,412.05 165.17,413.97 167.70,415.30 C170.23,416.63 172.33,417.77 175.30,418.50 C178.27,419.23 182.12,419.70 185.50,419.70 C188.88,419.70 192.22,419.33 195.60,418.50 C198.98,417.67 202.42,416.40 205.80,414.70 C209.18,413.00 213.17,410.42 215.90,408.30 C218.63,406.18 220.52,404.10 222.20,402.00 C223.88,399.90 224.08,398.87 226.00,395.70 C227.92,392.53 231.15,386.60 233.70,383.00 C236.25,379.40 238.35,376.13 241.30,374.10 C244.25,372.07 248.28,371.43 251.40,370.80 C254.52,370.17 257.72,369.97 260.00,370.30 C262.28,370.63 262.55,371.95 265.10,372.80 C267.65,373.65 272.33,374.77 275.30,375.40 C278.27,376.03 279.95,376.82 282.90,376.60 C285.85,376.38 290.05,374.30 293.00,374.10 C295.95,373.90 298.07,374.55 300.60,375.40 C303.13,376.25 305.67,377.52 308.20,379.20 C310.73,380.88 313.27,384.03 315.80,385.50 C318.33,386.97 320.87,388.00 323.40,388.00 C325.93,388.00 328.45,386.97 331.00,385.50 C333.55,384.03 336.15,381.73 338.70,379.20 C341.25,376.67 343.77,372.42 346.30,370.30 C348.83,368.18 351.62,367.15 353.90,366.50 C356.18,365.85 357.72,366.00 360.00,366.40 C362.28,366.80 365.28,367.77 367.60,368.90 C369.92,370.03 371.80,372.90 373.90,373.20 C376.00,373.50 377.88,371.83 380.20,370.70 C382.52,369.57 385.27,367.28 387.80,366.40 C390.33,365.52 392.45,366.75 395.40,365.40 C398.35,364.05 402.13,360.65 405.50,358.30 C408.87,355.95 412.22,353.12 415.60,351.30 C418.98,349.48 422.42,348.27 425.80,347.40 C429.18,346.53 432.53,346.10 435.90,346.10 C439.27,346.10 442.63,346.77 446.00,347.40 C449.37,348.03 452.73,348.97 456.10,349.90 C459.47,350.83 462.83,352.37 466.20,353.00 C469.57,353.63 473.05,353.70 476.30,353.70 C479.55,353.70 484.13,353.12 485.70,353.00 L485.70,395.50 C484.13,395.92 479.55,397.08 476.30,398.00 C473.05,398.92 469.58,400.40 466.20,401.00 C462.82,401.60 459.15,401.47 456.00,401.60 C452.85,401.73 449.38,401.57 447.30,401.80 C445.22,402.03 445.40,401.95 443.50,403.00 C441.60,404.05 438.43,406.20 435.90,408.10 C433.37,410.00 430.83,412.50 428.30,414.40 C425.77,416.30 423.65,418.10 420.70,419.50 C417.75,420.90 413.97,422.17 410.60,422.80 C407.23,423.43 403.88,423.43 400.50,423.30 C397.12,423.17 393.68,422.63 390.30,422.00 C386.92,421.37 383.57,420.55 380.20,419.50 C376.83,418.45 373.47,416.87 370.10,415.70 C366.73,414.53 363.10,413.13 360.00,412.50 C356.90,411.87 353.93,411.62 351.50,411.90 C349.07,412.18 347.45,412.40 345.40,414.20 C343.35,416.00 341.10,420.48 339.20,422.70 C337.30,424.92 335.78,426.22 334.00,427.50 C332.22,428.78 330.83,429.52 328.50,430.40 C326.17,431.28 322.57,432.28 320.00,432.80 C317.43,433.32 315.53,433.52 313.10,433.50 C310.67,433.48 309.25,433.40 305.40,432.70 C301.55,432.00 293.98,430.08 290.00,429.30 C286.02,428.52 284.52,428.47 281.50,428.00 C278.48,427.53 275.10,426.87 271.90,426.50 C268.70,426.13 265.50,425.90 262.30,425.80 C259.10,425.70 255.92,425.67 252.70,425.90 C249.48,426.13 246.20,426.48 243.00,427.20 C239.80,427.92 236.70,428.57 233.50,430.20 C230.30,431.83 226.22,435.10 223.80,437.00 C221.38,438.90 220.60,439.83 219.00,441.60 C217.40,443.37 215.70,445.37 214.20,447.60 C212.70,449.83 211.33,453.13 210.00,455.00 C208.67,456.87 207.62,457.90 206.20,458.80 C204.78,459.70 204.07,459.67 201.50,460.40 C198.93,461.13 194.38,462.30 190.80,463.20 C187.22,464.10 183.33,465.03 180.00,465.80 C176.67,466.57 174.90,467.17 170.80,467.80 C166.70,468.43 160.53,469.03 155.40,469.60 C150.27,470.17 142.90,470.98 140.00,471.20 C137.10,471.42 139.67,471.22 138.00,470.90 C136.33,470.58 132.42,469.98 130.00,469.30 C127.58,468.62 125.50,467.52 123.50,466.80 C121.50,466.08 119.75,465.72 118.00,465.00 C116.25,464.28 114.75,463.57 113.00,462.50 C111.25,461.43 108.83,459.85 107.50,458.60 C106.17,457.35 106.12,457.27 105.00,455.00 C103.88,452.73 102.78,448.75 100.80,445.00 C98.82,441.25 95.98,436.67 93.10,432.50 C90.22,428.33 86.72,423.65 83.50,420.00 C80.28,416.35 76.47,412.87 73.80,410.60 C71.13,408.33 69.47,407.63 67.50,406.40 C65.53,405.17 63.58,404.07 62.00,403.20 C60.42,402.33 59.67,402.07 58.00,401.20 C56.33,400.33 54.08,398.93 52.00,398.00 C49.92,397.07 46.58,396.00 45.50,395.60 Z" fill="#fdc86c" clip-path="url(#zh)"/>
<path d="M45.50,353.80 C46.68,353.93 50.37,353.97 52.60,354.60 C54.83,355.23 57.00,356.03 58.90,357.60 C60.80,359.17 62.73,362.65 64.00,364.00 C65.27,365.35 64.60,364.23 66.50,365.70 C68.40,367.17 72.22,370.68 75.40,372.80 C78.58,374.92 82.22,377.20 85.60,378.40 C88.98,379.60 92.33,379.73 95.70,380.00 C99.07,380.27 102.85,379.50 105.80,380.00 C108.75,380.50 110.87,381.67 113.40,383.00 C115.93,384.33 118.47,385.90 121.00,388.00 C123.53,390.10 126.48,393.40 128.60,395.60 C130.72,397.80 131.88,400.07 133.70,401.20 C135.52,402.33 137.38,402.00 139.50,402.40 C141.62,402.80 144.15,403.00 146.40,403.60 C148.65,404.20 150.72,404.85 153.00,406.00 C155.28,407.15 157.65,408.95 160.10,410.50 C162.55,412.05 165.17,413.97 167.70,415.30 C170.23,416.63 172.33,417.77 175.30,418.50 C178.27,419.23 182.12,419.70 185.50,419.70 C188.88,419.70 192.22,419.33 195.60,418.50 C198.98,417.67 202.42,416.40 205.80,414.70 C209.18,413.00 213.17,410.42 215.90,408.30 C218.63,406.18 220.52,404.10 222.20,402.00 C223.88,399.90 224.08,398.87 226.00,395.70 C227.92,392.53 231.15,386.60 233.70,383.00 C236.25,379.40 238.35,376.13 241.30,374.10 C244.25,372.07 248.28,371.43 251.40,370.80 C254.52,370.17 257.72,369.97 260.00,370.30 C262.28,370.63 262.55,371.95 265.10,372.80 C267.65,373.65 272.33,374.77 275.30,375.40 C278.27,376.03 279.95,376.82 282.90,376.60 C285.85,376.38 290.05,374.30 293.00,374.10 C295.95,373.90 298.07,374.55 300.60,375.40 C303.13,376.25 305.67,377.52 308.20,379.20 C310.73,380.88 313.27,384.03 315.80,385.50 C318.33,386.97 320.87,388.00 323.40,388.00 C325.93,388.00 328.45,386.97 331.00,385.50 C333.55,384.03 336.15,381.73 338.70,379.20 C341.25,376.67 343.77,372.42 346.30,370.30 C348.83,368.18 351.62,367.15 353.90,366.50 C356.18,365.85 357.72,366.00 360.00,366.40 C362.28,366.80 365.28,367.77 367.60,368.90 C369.92,370.03 371.80,372.90 373.90,373.20 C376.00,373.50 377.88,371.83 380.20,370.70 C382.52,369.57 385.27,367.28 387.80,366.40 C390.33,365.52 392.45,366.75 395.40,365.40 C398.35,364.05 402.13,360.65 405.50,358.30 C408.87,355.95 412.22,353.12 415.60,351.30 C418.98,349.48 422.42,348.27 425.80,347.40 C429.18,346.53 432.53,346.10 435.90,346.10 C439.27,346.10 442.63,346.77 446.00,347.40 C449.37,348.03 452.73,348.97 456.10,349.90 C459.47,350.83 462.83,352.37 466.20,353.00 C469.57,353.63 473.05,353.70 476.30,353.70 C479.55,353.70 484.13,353.12 485.70,353.00 L485.70,395.50 C484.13,395.92 479.55,397.08 476.30,398.00 C473.05,398.92 469.58,400.40 466.20,401.00 C462.82,401.60 459.15,401.47 456.00,401.60 C452.85,401.73 449.38,401.57 447.30,401.80 C445.22,402.03 445.40,401.95 443.50,403.00 C441.60,404.05 438.43,406.20 435.90,408.10 C433.37,410.00 430.83,412.50 428.30,414.40 C425.77,416.30 423.65,418.10 420.70,419.50 C417.75,420.90 413.97,422.17 410.60,422.80 C407.23,423.43 403.88,423.43 400.50,423.30 C397.12,423.17 393.68,422.63 390.30,422.00 C386.92,421.37 383.57,420.55 380.20,419.50 C376.83,418.45 373.47,416.87 370.10,415.70 C366.73,414.53 363.10,413.13 360.00,412.50 C356.90,411.87 353.93,411.62 351.50,411.90 C349.07,412.18 347.45,412.40 345.40,414.20 C343.35,416.00 341.10,420.48 339.20,422.70 C337.30,424.92 335.78,426.22 334.00,427.50 C332.22,428.78 330.83,429.52 328.50,430.40 C326.17,431.28 322.57,432.28 320.00,432.80 C317.43,433.32 315.53,433.52 313.10,433.50 C310.67,433.48 309.25,433.40 305.40,432.70 C301.55,432.00 293.98,430.08 290.00,429.30 C286.02,428.52 284.52,428.47 281.50,428.00 C278.48,427.53 275.10,426.87 271.90,426.50 C268.70,426.13 265.50,425.90 262.30,425.80 C259.10,425.70 255.92,425.67 252.70,425.90 C249.48,426.13 246.20,426.48 243.00,427.20 C239.80,427.92 236.70,428.57 233.50,430.20 C230.30,431.83 226.22,435.10 223.80,437.00 C221.38,438.90 220.60,439.83 219.00,441.60 C217.40,443.37 215.70,445.37 214.20,447.60 C212.70,449.83 211.33,453.13 210.00,455.00 C208.67,456.87 207.62,457.90 206.20,458.80 C204.78,459.70 204.07,459.67 201.50,460.40 C198.93,461.13 194.38,462.30 190.80,463.20 C187.22,464.10 183.33,465.03 180.00,465.80 C176.67,466.57 174.90,467.17 170.80,467.80 C166.70,468.43 160.53,469.03 155.40,469.60 C150.27,470.17 142.90,470.98 140.00,471.20 C137.10,471.42 139.67,471.22 138.00,470.90 C136.33,470.58 132.42,469.98 130.00,469.30 C127.58,468.62 125.50,467.52 123.50,466.80 C121.50,466.08 119.75,465.72 118.00,465.00 C116.25,464.28 114.75,463.57 113.00,462.50 C111.25,461.43 108.83,459.85 107.50,458.60 C106.17,457.35 106.12,457.27 105.00,455.00 C103.88,452.73 102.78,448.75 100.80,445.00 C98.82,441.25 95.98,436.67 93.10,432.50 C90.22,428.33 86.72,423.65 83.50,420.00 C80.28,416.35 76.47,412.87 73.80,410.60 C71.13,408.33 69.47,407.63 67.50,406.40 C65.53,405.17 63.58,404.07 62.00,403.20 C60.42,402.33 59.67,402.07 58.00,401.20 C56.33,400.33 54.08,398.93 52.00,398.00 C49.92,397.07 46.58,396.00 45.50,395.60 Z" fill="#a2cb90" clip-path="url(#zt)"/>
<path d="M45.50,353.80 C46.68,353.93 50.37,353.97 52.60,354.60 C54.83,355.23 57.00,356.03 58.90,357.60 C60.80,359.17 62.73,362.65 64.00,364.00 C65.27,365.35 64.60,364.23 66.50,365.70 C68.40,367.17 72.22,370.68 75.40,372.80 C78.58,374.92 82.22,377.20 85.60,378.40 C88.98,379.60 92.33,379.73 95.70,380.00 C99.07,380.27 102.85,379.50 105.80,380.00 C108.75,380.50 110.87,381.67 113.40,383.00 C115.93,384.33 118.47,385.90 121.00,388.00 C123.53,390.10 126.48,393.40 128.60,395.60 C130.72,397.80 131.88,400.07 133.70,401.20 C135.52,402.33 137.38,402.00 139.50,402.40 C141.62,402.80 144.15,403.00 146.40,403.60 C148.65,404.20 150.72,404.85 153.00,406.00 C155.28,407.15 157.65,408.95 160.10,410.50 C162.55,412.05 165.17,413.97 167.70,415.30 C170.23,416.63 172.33,417.77 175.30,418.50 C178.27,419.23 182.12,419.70 185.50,419.70 C188.88,419.70 192.22,419.33 195.60,418.50 C198.98,417.67 202.42,416.40 205.80,414.70 C209.18,413.00 213.17,410.42 215.90,408.30 C218.63,406.18 220.52,404.10 222.20,402.00 C223.88,399.90 224.08,398.87 226.00,395.70 C227.92,392.53 231.15,386.60 233.70,383.00 C236.25,379.40 238.35,376.13 241.30,374.10 C244.25,372.07 248.28,371.43 251.40,370.80 C254.52,370.17 257.72,369.97 260.00,370.30 C262.28,370.63 262.55,371.95 265.10,372.80 C267.65,373.65 272.33,374.77 275.30,375.40 C278.27,376.03 279.95,376.82 282.90,376.60 C285.85,376.38 290.05,374.30 293.00,374.10 C295.95,373.90 298.07,374.55 300.60,375.40 C303.13,376.25 305.67,377.52 308.20,379.20 C310.73,380.88 313.27,384.03 315.80,385.50 C318.33,386.97 320.87,388.00 323.40,388.00 C325.93,388.00 328.45,386.97 331.00,385.50 C333.55,384.03 336.15,381.73 338.70,379.20 C341.25,376.67 343.77,372.42 346.30,370.30 C348.83,368.18 351.62,367.15 353.90,366.50 C356.18,365.85 357.72,366.00 360.00,366.40 C362.28,366.80 365.28,367.77 367.60,368.90 C369.92,370.03 371.80,372.90 373.90,373.20 C376.00,373.50 377.88,371.83 380.20,370.70 C382.52,369.57 385.27,367.28 387.80,366.40 C390.33,365.52 392.45,366.75 395.40,365.40 C398.35,364.05 402.13,360.65 405.50,358.30 C408.87,355.95 412.22,353.12 415.60,351.30 C418.98,349.48 422.42,348.27 425.80,347.40 C429.18,346.53 432.53,346.10 435.90,346.10 C439.27,346.10 442.63,346.77 446.00,347.40 C449.37,348.03 452.73,348.97 456.10,349.90 C459.47,350.83 462.83,352.37 466.20,353.00 C469.57,353.63 473.05,353.70 476.30,353.70 C479.55,353.70 484.13,353.12 485.70,353.00 L485.70,395.50 C484.13,395.92 479.55,397.08 476.30,398.00 C473.05,398.92 469.58,400.40 466.20,401.00 C462.82,401.60 459.15,401.47 456.00,401.60 C452.85,401.73 449.38,401.57 447.30,401.80 C445.22,402.03 445.40,401.95 443.50,403.00 C441.60,404.05 438.43,406.20 435.90,408.10 C433.37,410.00 430.83,412.50 428.30,414.40 C425.77,416.30 423.65,418.10 420.70,419.50 C417.75,420.90 413.97,422.17 410.60,422.80 C407.23,423.43 403.88,423.43 400.50,423.30 C397.12,423.17 393.68,422.63 390.30,422.00 C386.92,421.37 383.57,420.55 380.20,419.50 C376.83,418.45 373.47,416.87 370.10,415.70 C366.73,414.53 363.10,413.13 360.00,412.50 C356.90,411.87 353.93,411.62 351.50,411.90 C349.07,412.18 347.45,412.40 345.40,414.20 C343.35,416.00 341.10,420.48 339.20,422.70 C337.30,424.92 335.78,426.22 334.00,427.50 C332.22,428.78 330.83,429.52 328.50,430.40 C326.17,431.28 322.57,432.28 320.00,432.80 C317.43,433.32 315.53,433.52 313.10,433.50 C310.67,433.48 309.25,433.40 305.40,432.70 C301.55,432.00 293.98,430.08 290.00,429.30 C286.02,428.52 284.52,428.47 281.50,428.00 C278.48,427.53 275.10,426.87 271.90,426.50 C268.70,426.13 265.50,425.90 262.30,425.80 C259.10,425.70 255.92,425.67 252.70,425.90 C249.48,426.13 246.20,426.48 243.00,427.20 C239.80,427.92 236.70,428.57 233.50,430.20 C230.30,431.83 226.22,435.10 223.80,437.00 C221.38,438.90 220.60,439.83 219.00,441.60 C217.40,443.37 215.70,445.37 214.20,447.60 C212.70,449.83 211.33,453.13 210.00,455.00 C208.67,456.87 207.62,457.90 206.20,458.80 C204.78,459.70 204.07,459.67 201.50,460.40 C198.93,461.13 194.38,462.30 190.80,463.20 C187.22,464.10 183.33,465.03 180.00,465.80 C176.67,466.57 174.90,467.17 170.80,467.80 C166.70,468.43 160.53,469.03 155.40,469.60 C150.27,470.17 142.90,470.98 140.00,471.20 C137.10,471.42 139.67,471.22 138.00,470.90 C136.33,470.58 132.42,469.98 130.00,469.30 C127.58,468.62 125.50,467.52 123.50,466.80 C121.50,466.08 119.75,465.72 118.00,465.00 C116.25,464.28 114.75,463.57 113.00,462.50 C111.25,461.43 108.83,459.85 107.50,458.60 C106.17,457.35 106.12,457.27 105.00,455.00 C103.88,452.73 102.78,448.75 100.80,445.00 C98.82,441.25 95.98,436.67 93.10,432.50 C90.22,428.33 86.72,423.65 83.50,420.00 C80.28,416.35 76.47,412.87 73.80,410.60 C71.13,408.33 69.47,407.63 67.50,406.40 C65.53,405.17 63.58,404.07 62.00,403.20 C60.42,402.33 59.67,402.07 58.00,401.20 C56.33,400.33 54.08,398.93 52.00,398.00 C49.92,397.07 46.58,396.00 45.50,395.60 Z" fill="#e5432f" clip-path="url(#zl)"/>
<path d="M45.50,353.80 C46.68,353.93 50.37,353.97 52.60,354.60 C54.83,355.23 57.00,356.03 58.90,357.60 C60.80,359.17 62.73,362.65 64.00,364.00 C65.27,365.35 64.60,364.23 66.50,365.70 C68.40,367.17 72.22,370.68 75.40,372.80 C78.58,374.92 82.22,377.20 85.60,378.40 C88.98,379.60 92.33,379.73 95.70,380.00 C99.07,380.27 102.85,379.50 105.80,380.00 C108.75,380.50 110.87,381.67 113.40,383.00 C115.93,384.33 118.47,385.90 121.00,388.00 C123.53,390.10 126.48,393.40 128.60,395.60 C130.72,397.80 131.88,400.07 133.70,401.20 C135.52,402.33 137.38,402.00 139.50,402.40 C141.62,402.80 144.15,403.00 146.40,403.60 C148.65,404.20 150.72,404.85 153.00,406.00 C155.28,407.15 157.65,408.95 160.10,410.50 C162.55,412.05 165.17,413.97 167.70,415.30 C170.23,416.63 172.33,417.77 175.30,418.50 C178.27,419.23 182.12,419.70 185.50,419.70 C188.88,419.70 192.22,419.33 195.60,418.50 C198.98,417.67 202.42,416.40 205.80,414.70 C209.18,413.00 213.17,410.42 215.90,408.30 C218.63,406.18 220.52,404.10 222.20,402.00 C223.88,399.90 224.08,398.87 226.00,395.70 C227.92,392.53 231.15,386.60 233.70,383.00 C236.25,379.40 238.35,376.13 241.30,374.10 C244.25,372.07 248.28,371.43 251.40,370.80 C254.52,370.17 257.72,369.97 260.00,370.30 C262.28,370.63 262.55,371.95 265.10,372.80 C267.65,373.65 272.33,374.77 275.30,375.40 C278.27,376.03 279.95,376.82 282.90,376.60 C285.85,376.38 290.05,374.30 293.00,374.10 C295.95,373.90 298.07,374.55 300.60,375.40 C303.13,376.25 305.67,377.52 308.20,379.20 C310.73,380.88 313.27,384.03 315.80,385.50 C318.33,386.97 320.87,388.00 323.40,388.00 C325.93,388.00 328.45,386.97 331.00,385.50 C333.55,384.03 336.15,381.73 338.70,379.20 C341.25,376.67 343.77,372.42 346.30,370.30 C348.83,368.18 351.62,367.15 353.90,366.50 C356.18,365.85 357.72,366.00 360.00,366.40 C362.28,366.80 365.28,367.77 367.60,368.90 C369.92,370.03 371.80,372.90 373.90,373.20 C376.00,373.50 377.88,371.83 380.20,370.70 C382.52,369.57 385.27,367.28 387.80,366.40 C390.33,365.52 392.45,366.75 395.40,365.40 C398.35,364.05 402.13,360.65 405.50,358.30 C408.87,355.95 412.22,353.12 415.60,351.30 C418.98,349.48 422.42,348.27 425.80,347.40 C429.18,346.53 432.53,346.10 435.90,346.10 C439.27,346.10 442.63,346.77 446.00,347.40 C449.37,348.03 452.73,348.97 456.10,349.90 C459.47,350.83 462.83,352.37 466.20,353.00 C469.57,353.63 473.05,353.70 476.30,353.70 C479.55,353.70 484.13,353.12 485.70,353.00 L485.70,395.50 C484.13,395.92 479.55,397.08 476.30,398.00 C473.05,398.92 469.58,400.40 466.20,401.00 C462.82,401.60 459.15,401.47 456.00,401.60 C452.85,401.73 449.38,401.57 447.30,401.80 C445.22,402.03 445.40,401.95 443.50,403.00 C441.60,404.05 438.43,406.20 435.90,408.10 C433.37,410.00 430.83,412.50 428.30,414.40 C425.77,416.30 423.65,418.10 420.70,419.50 C417.75,420.90 413.97,422.17 410.60,422.80 C407.23,423.43 403.88,423.43 400.50,423.30 C397.12,423.17 393.68,422.63 390.30,422.00 C386.92,421.37 383.57,420.55 380.20,419.50 C376.83,418.45 373.47,416.87 370.10,415.70 C366.73,414.53 363.10,413.13 360.00,412.50 C356.90,411.87 353.93,411.62 351.50,411.90 C349.07,412.18 347.45,412.40 345.40,414.20 C343.35,416.00 341.10,420.48 339.20,422.70 C337.30,424.92 335.78,426.22 334.00,427.50 C332.22,428.78 330.83,429.52 328.50,430.40 C326.17,431.28 322.57,432.28 320.00,432.80 C317.43,433.32 315.53,433.52 313.10,433.50 C310.67,433.48 309.25,433.40 305.40,432.70 C301.55,432.00 293.98,430.08 290.00,429.30 C286.02,428.52 284.52,428.47 281.50,428.00 C278.48,427.53 275.10,426.87 271.90,426.50 C268.70,426.13 265.50,425.90 262.30,425.80 C259.10,425.70 255.92,425.67 252.70,425.90 C249.48,426.13 246.20,426.48 243.00,427.20 C239.80,427.92 236.70,428.57 233.50,430.20 C230.30,431.83 226.22,435.10 223.80,437.00 C221.38,438.90 220.60,439.83 219.00,441.60 C217.40,443.37 215.70,445.37 214.20,447.60 C212.70,449.83 211.33,453.13 210.00,455.00 C208.67,456.87 207.62,457.90 206.20,458.80 C204.78,459.70 204.07,459.67 201.50,460.40 C198.93,461.13 194.38,462.30 190.80,463.20 C187.22,464.10 183.33,465.03 180.00,465.80 C176.67,466.57 174.90,467.17 170.80,467.80 C166.70,468.43 160.53,469.03 155.40,469.60 C150.27,470.17 142.90,470.98 140.00,471.20 C137.10,471.42 139.67,471.22 138.00,470.90 C136.33,470.58 132.42,469.98 130.00,469.30 C127.58,468.62 125.50,467.52 123.50,466.80 C121.50,466.08 119.75,465.72 118.00,465.00 C116.25,464.28 114.75,463.57 113.00,462.50 C111.25,461.43 108.83,459.85 107.50,458.60 C106.17,457.35 106.12,457.27 105.00,455.00 C103.88,452.73 102.78,448.75 100.80,445.00 C98.82,441.25 95.98,436.67 93.10,432.50 C90.22,428.33 86.72,423.65 83.50,420.00 C80.28,416.35 76.47,412.87 73.80,410.60 C71.13,408.33 69.47,407.63 67.50,406.40 C65.53,405.17 63.58,404.07 62.00,403.20 C60.42,402.33 59.67,402.07 58.00,401.20 C56.33,400.33 54.08,398.93 52.00,398.00 C49.92,397.07 46.58,396.00 45.50,395.60 Z" fill="#8e2d28" clip-path="url(#zvl)"/>
<rect x="45.5" y="315.2" width="440.25" height="177.0" fill="none" stroke="#dedada" stroke-width="0.9"/>
<line x1="45.5" y1="401.8" x2="485.75" y2="401.8" stroke="#4fae55" stroke-width="1.5"/>
<line x1="45.5" y1="457.9" x2="485.75" y2="457.9" stroke="#4fae55" stroke-width="1.5"/>
<path d="M45.50,374.10 C47.10,374.82 52.23,376.72 55.10,378.40 C57.97,380.08 60.17,381.75 62.70,384.20 C65.23,386.65 67.97,390.35 70.30,393.10 C72.63,395.85 74.58,398.67 76.70,400.70 C78.82,402.73 80.68,403.82 83.00,405.30 C85.32,406.78 87.63,408.25 90.60,409.60 C93.57,410.95 97.83,411.92 100.80,413.40 C103.77,414.88 105.87,416.18 108.40,418.50 C110.93,420.82 113.90,425.12 116.00,427.30 C118.10,429.48 118.47,429.90 121.00,431.60 C123.53,433.30 127.82,435.68 131.20,437.50 C134.58,439.32 138.17,440.82 141.30,442.50 C144.43,444.18 147.28,446.32 150.00,447.60 C152.72,448.88 155.07,449.57 157.60,450.20 C160.13,450.83 162.67,451.28 165.20,451.40 C167.73,451.52 170.68,451.32 172.80,450.90 C174.92,450.48 175.78,450.50 177.90,448.90 C180.02,447.30 182.97,443.62 185.50,441.30 C188.03,438.98 190.57,436.62 193.10,435.00 C195.63,433.38 198.38,432.50 200.70,431.60 C203.02,430.70 204.75,430.35 207.00,429.60 C209.25,428.85 212.03,428.00 214.20,427.10 C216.37,426.20 218.28,425.08 220.00,424.20 C221.72,423.32 223.00,422.50 224.50,421.80 C226.00,421.10 227.50,420.68 229.00,420.00 C230.50,419.32 231.17,418.57 233.50,417.70 C235.83,416.83 239.80,415.60 243.00,414.80 C246.20,414.00 249.48,413.73 252.70,412.90 C255.92,412.07 259.75,410.45 262.30,409.80 C264.85,409.15 265.75,409.00 268.00,409.00 C270.25,409.00 272.90,409.15 275.80,409.80 C278.70,410.45 283.03,412.10 285.40,412.90 C287.77,413.70 287.95,413.67 290.00,414.60 C292.05,415.53 295.13,417.47 297.70,418.50 C300.27,419.53 302.83,420.35 305.40,420.80 C307.97,421.25 310.53,421.23 313.10,421.20 C315.67,421.17 318.23,421.25 320.80,420.60 C323.37,419.95 326.30,418.53 328.50,417.30 C330.70,416.07 332.42,414.48 334.00,413.20 C335.58,411.92 336.67,410.80 338.00,409.60 C339.33,408.40 340.70,407.12 342.00,406.00 C343.30,404.88 344.63,404.02 345.80,402.90 C346.97,401.78 347.88,400.45 349.00,399.30 C350.12,398.15 351.30,396.80 352.50,396.00 C353.70,395.20 354.12,394.83 356.20,394.50 C358.28,394.17 361.87,393.95 365.00,394.00 C368.13,394.05 370.78,394.63 375.00,394.80 C379.22,394.97 386.05,394.97 390.30,395.00 C394.55,395.03 397.12,395.08 400.50,395.00 C403.88,394.92 407.23,394.77 410.60,394.50 C413.97,394.23 417.75,393.87 420.70,393.40 C423.65,392.93 425.98,392.70 428.30,391.70 C430.62,390.70 432.70,389.30 434.60,387.40 C436.50,385.50 438.02,382.75 439.70,380.30 C441.38,377.85 442.82,374.73 444.70,372.70 C446.58,370.67 448.68,369.03 451.00,368.10 C453.32,367.17 456.07,367.10 458.60,367.10 C461.13,367.10 463.25,367.50 466.20,368.10 C469.15,368.70 473.05,369.72 476.30,370.70 C479.55,371.68 484.13,373.45 485.70,374.00" fill="none" stroke="#f59a25" stroke-width="3.1" stroke-linecap="round" clip-path="url(#zvh)"/>
<path d="M45.50,374.10 C47.10,374.82 52.23,376.72 55.10,378.40 C57.97,380.08 60.17,381.75 62.70,384.20 C65.23,386.65 67.97,390.35 70.30,393.10 C72.63,395.85 74.58,398.67 76.70,400.70 C78.82,402.73 80.68,403.82 83.00,405.30 C85.32,406.78 87.63,408.25 90.60,409.60 C93.57,410.95 97.83,411.92 100.80,413.40 C103.77,414.88 105.87,416.18 108.40,418.50 C110.93,420.82 113.90,425.12 116.00,427.30 C118.10,429.48 118.47,429.90 121.00,431.60 C123.53,433.30 127.82,435.68 131.20,437.50 C134.58,439.32 138.17,440.82 141.30,442.50 C144.43,444.18 147.28,446.32 150.00,447.60 C152.72,448.88 155.07,449.57 157.60,450.20 C160.13,450.83 162.67,451.28 165.20,451.40 C167.73,451.52 170.68,451.32 172.80,450.90 C174.92,450.48 175.78,450.50 177.90,448.90 C180.02,447.30 182.97,443.62 185.50,441.30 C188.03,438.98 190.57,436.62 193.10,435.00 C195.63,433.38 198.38,432.50 200.70,431.60 C203.02,430.70 204.75,430.35 207.00,429.60 C209.25,428.85 212.03,428.00 214.20,427.10 C216.37,426.20 218.28,425.08 220.00,424.20 C221.72,423.32 223.00,422.50 224.50,421.80 C226.00,421.10 227.50,420.68 229.00,420.00 C230.50,419.32 231.17,418.57 233.50,417.70 C235.83,416.83 239.80,415.60 243.00,414.80 C246.20,414.00 249.48,413.73 252.70,412.90 C255.92,412.07 259.75,410.45 262.30,409.80 C264.85,409.15 265.75,409.00 268.00,409.00 C270.25,409.00 272.90,409.15 275.80,409.80 C278.70,410.45 283.03,412.10 285.40,412.90 C287.77,413.70 287.95,413.67 290.00,414.60 C292.05,415.53 295.13,417.47 297.70,418.50 C300.27,419.53 302.83,420.35 305.40,420.80 C307.97,421.25 310.53,421.23 313.10,421.20 C315.67,421.17 318.23,421.25 320.80,420.60 C323.37,419.95 326.30,418.53 328.50,417.30 C330.70,416.07 332.42,414.48 334.00,413.20 C335.58,411.92 336.67,410.80 338.00,409.60 C339.33,408.40 340.70,407.12 342.00,406.00 C343.30,404.88 344.63,404.02 345.80,402.90 C346.97,401.78 347.88,400.45 349.00,399.30 C350.12,398.15 351.30,396.80 352.50,396.00 C353.70,395.20 354.12,394.83 356.20,394.50 C358.28,394.17 361.87,393.95 365.00,394.00 C368.13,394.05 370.78,394.63 375.00,394.80 C379.22,394.97 386.05,394.97 390.30,395.00 C394.55,395.03 397.12,395.08 400.50,395.00 C403.88,394.92 407.23,394.77 410.60,394.50 C413.97,394.23 417.75,393.87 420.70,393.40 C423.65,392.93 425.98,392.70 428.30,391.70 C430.62,390.70 432.70,389.30 434.60,387.40 C436.50,385.50 438.02,382.75 439.70,380.30 C441.38,377.85 442.82,374.73 444.70,372.70 C446.58,370.67 448.68,369.03 451.00,368.10 C453.32,367.17 456.07,367.10 458.60,367.10 C461.13,367.10 463.25,367.50 466.20,368.10 C469.15,368.70 473.05,369.72 476.30,370.70 C479.55,371.68 484.13,373.45 485.70,374.00" fill="none" stroke="#f59a25" stroke-width="3.1" stroke-linecap="round" clip-path="url(#zh)"/>
<path d="M45.50,374.10 C47.10,374.82 52.23,376.72 55.10,378.40 C57.97,380.08 60.17,381.75 62.70,384.20 C65.23,386.65 67.97,390.35 70.30,393.10 C72.63,395.85 74.58,398.67 76.70,400.70 C78.82,402.73 80.68,403.82 83.00,405.30 C85.32,406.78 87.63,408.25 90.60,409.60 C93.57,410.95 97.83,411.92 100.80,413.40 C103.77,414.88 105.87,416.18 108.40,418.50 C110.93,420.82 113.90,425.12 116.00,427.30 C118.10,429.48 118.47,429.90 121.00,431.60 C123.53,433.30 127.82,435.68 131.20,437.50 C134.58,439.32 138.17,440.82 141.30,442.50 C144.43,444.18 147.28,446.32 150.00,447.60 C152.72,448.88 155.07,449.57 157.60,450.20 C160.13,450.83 162.67,451.28 165.20,451.40 C167.73,451.52 170.68,451.32 172.80,450.90 C174.92,450.48 175.78,450.50 177.90,448.90 C180.02,447.30 182.97,443.62 185.50,441.30 C188.03,438.98 190.57,436.62 193.10,435.00 C195.63,433.38 198.38,432.50 200.70,431.60 C203.02,430.70 204.75,430.35 207.00,429.60 C209.25,428.85 212.03,428.00 214.20,427.10 C216.37,426.20 218.28,425.08 220.00,424.20 C221.72,423.32 223.00,422.50 224.50,421.80 C226.00,421.10 227.50,420.68 229.00,420.00 C230.50,419.32 231.17,418.57 233.50,417.70 C235.83,416.83 239.80,415.60 243.00,414.80 C246.20,414.00 249.48,413.73 252.70,412.90 C255.92,412.07 259.75,410.45 262.30,409.80 C264.85,409.15 265.75,409.00 268.00,409.00 C270.25,409.00 272.90,409.15 275.80,409.80 C278.70,410.45 283.03,412.10 285.40,412.90 C287.77,413.70 287.95,413.67 290.00,414.60 C292.05,415.53 295.13,417.47 297.70,418.50 C300.27,419.53 302.83,420.35 305.40,420.80 C307.97,421.25 310.53,421.23 313.10,421.20 C315.67,421.17 318.23,421.25 320.80,420.60 C323.37,419.95 326.30,418.53 328.50,417.30 C330.70,416.07 332.42,414.48 334.00,413.20 C335.58,411.92 336.67,410.80 338.00,409.60 C339.33,408.40 340.70,407.12 342.00,406.00 C343.30,404.88 344.63,404.02 345.80,402.90 C346.97,401.78 347.88,400.45 349.00,399.30 C350.12,398.15 351.30,396.80 352.50,396.00 C353.70,395.20 354.12,394.83 356.20,394.50 C358.28,394.17 361.87,393.95 365.00,394.00 C368.13,394.05 370.78,394.63 375.00,394.80 C379.22,394.97 386.05,394.97 390.30,395.00 C394.55,395.03 397.12,395.08 400.50,395.00 C403.88,394.92 407.23,394.77 410.60,394.50 C413.97,394.23 417.75,393.87 420.70,393.40 C423.65,392.93 425.98,392.70 428.30,391.70 C430.62,390.70 432.70,389.30 434.60,387.40 C436.50,385.50 438.02,382.75 439.70,380.30 C441.38,377.85 442.82,374.73 444.70,372.70 C446.58,370.67 448.68,369.03 451.00,368.10 C453.32,367.17 456.07,367.10 458.60,367.10 C461.13,367.10 463.25,367.50 466.20,368.10 C469.15,368.70 473.05,369.72 476.30,370.70 C479.55,371.68 484.13,373.45 485.70,374.00" fill="none" stroke="#2aa042" stroke-width="3.1" stroke-linecap="round" clip-path="url(#zt)"/>
<line x1="62.75" y1="490.59999999999997" x2="62.75" y2="492.2" stroke="#cfcbcb" stroke-width="0.8"/>
<line x1="80" y1="490.59999999999997" x2="80" y2="492.2" stroke="#cfcbcb" stroke-width="0.8"/>
<line x1="97" y1="490.59999999999997" x2="97" y2="492.2" stroke="#cfcbcb" stroke-width="0.8"/>
<line x1="114.25" y1="490.59999999999997" x2="114.25" y2="492.2" stroke="#cfcbcb" stroke-width="0.8"/>
<line x1="131.5" y1="490.59999999999997" x2="131.5" y2="492.2" stroke="#cfcbcb" stroke-width="0.8"/>
<line x1="166.5" y1="490.59999999999997" x2="166.5" y2="492.2" stroke="#cfcbcb" stroke-width="0.8"/>
<line x1="183.75" y1="490.59999999999997" x2="183.75" y2="492.2" stroke="#cfcbcb" stroke-width="0.8"/>
<line x1="200.5" y1="490.59999999999997" x2="200.5" y2="492.2" stroke="#cfcbcb" stroke-width="0.8"/>
<line x1="218" y1="490.59999999999997" x2="218" y2="492.2" stroke="#cfcbcb" stroke-width="0.8"/>
<line x1="237" y1="490.59999999999997" x2="237" y2="492.2" stroke="#cfcbcb" stroke-width="0.8"/>
<line x1="275.5" y1="490.59999999999997" x2="275.5" y2="492.2" stroke="#cfcbcb" stroke-width="0.8"/>
<line x1="294.5" y1="490.59999999999997" x2="294.5" y2="492.2" stroke="#cfcbcb" stroke-width="0.8"/>
<line x1="313.5" y1="490.59999999999997" x2="313.5" y2="492.2" stroke="#cfcbcb" stroke-width="0.8"/>
<line x1="332.75" y1="490.59999999999997" x2="332.75" y2="492.2" stroke="#cfcbcb" stroke-width="0.8"/>
<line x1="352" y1="490.59999999999997" x2="352" y2="492.2" stroke="#cfcbcb" stroke-width="0.8"/>
<line x1="390.7" y1="490.59999999999997" x2="390.7" y2="492.2" stroke="#cfcbcb" stroke-width="0.8"/>
<line x1="409.5" y1="490.59999999999997" x2="409.5" y2="492.2" stroke="#cfcbcb" stroke-width="0.8"/>
<line x1="428.75" y1="490.59999999999997" x2="428.75" y2="492.2" stroke="#cfcbcb" stroke-width="0.8"/>
<line x1="447.5" y1="490.59999999999997" x2="447.5" y2="492.2" stroke="#cfcbcb" stroke-width="0.8"/>
<line x1="466.25" y1="490.59999999999997" x2="466.25" y2="492.2" stroke="#cfcbcb" stroke-width="0.8"/>
<text x="41.9" y="318.9" font-family="DejaVu Sans, sans-serif" font-size="7.4" stroke="#77787b" stroke-width="0.12" fill="#77787b" text-anchor="end" textLength="13.4" lengthAdjust="spacingAndGlyphs">350</text>
<text x="41.9" y="326.5" font-family="DejaVu Sans, sans-serif" font-size="5.8" stroke="#77787b" stroke-width="0.12" fill="#77787b" text-anchor="end" textLength="18.1" lengthAdjust="spacingAndGlyphs">mg/dL</text>
<text x="41.9" y="368.8" font-family="DejaVu Sans, sans-serif" font-size="7.4" stroke="#77787b" stroke-width="0.12" fill="#77787b" text-anchor="end" textLength="13.4" lengthAdjust="spacingAndGlyphs">250</text>
<text x="41.9" y="470.2" font-family="DejaVu Sans, sans-serif" font-size="7.4" stroke="#77787b" stroke-width="0.12" fill="#77787b" text-anchor="end" textLength="8.8" lengthAdjust="spacingAndGlyphs">54</text>
<text transform="translate(41.9,490.6) scale(0.95,1)" font-family="DejaVu Sans, sans-serif" font-size="7.4" stroke="#77787b" stroke-width="0.12" fill="#77787b" text-anchor="end">0</text>
<path d="M24.6,396.75 H41 L44.4,401.8 L41,406.85 H24.6 Q23.2,406.85 23.2,405.40000000000003 V398.2 Q23.2,396.75 24.6,396.75 Z" fill="#4fae55"/>
<text x="38.7" y="404.2" font-family="DejaVu Sans, sans-serif" font-size="7" font-weight="bold" stroke="#fff" stroke-width="0.22" fill="#fff" text-anchor="end" textLength="13.6" lengthAdjust="spacingAndGlyphs">180</text>
<path d="M24.6,452.55 H41 L44.4,457.6 L41,462.65000000000003 H24.6 Q23.2,462.65000000000003 23.2,461.20000000000005 V454.0 Q23.2,452.55 24.6,452.55 Z" fill="#4fae55"/>
<text x="38.7" y="460.0" font-family="DejaVu Sans, sans-serif" font-size="7" font-weight="bold" stroke="#fff" stroke-width="0.22" fill="#fff" text-anchor="end" textLength="9.3" lengthAdjust="spacingAndGlyphs">70</text>
<text x="41.3" y="425.5" font-family="DejaVu Sans, sans-serif" font-size="8.2" font-weight="bold" stroke="#231f20" stroke-width="0.22" fill="#231f20" text-anchor="end" textLength="27.1" lengthAdjust="spacingAndGlyphs">Target</text>
<text x="41.3" y="435" font-family="DejaVu Sans, sans-serif" font-size="8.2" font-weight="bold" stroke="#231f20" stroke-width="0.22" fill="#231f20" text-anchor="end" textLength="27.1" lengthAdjust="spacingAndGlyphs">Range</text>
<line x1="486.8" y1="338.3" x2="490.7" y2="338.3" stroke="#cfcbcb" stroke-width="0.8"/>
<text x="492.2" y="340.90000000000003" font-family="DejaVu Sans, sans-serif" font-size="7.5" fill="#6c6b6d" textLength="16.4" lengthAdjust="spacingAndGlyphs" stroke="#6c6b6d" stroke-width="0.18">95%</text>
<line x1="486.8" y1="353.3" x2="490.7" y2="353.3" stroke="#cfcbcb" stroke-width="0.8"/>
<text x="492.2" y="355.90000000000003" font-family="DejaVu Sans, sans-serif" font-size="7.5" fill="#6c6b6d" textLength="16.4" lengthAdjust="spacingAndGlyphs" stroke="#6c6b6d" stroke-width="0.18">75%</text>
<line x1="486.8" y1="373.8" x2="490.7" y2="373.8" stroke="#cfcbcb" stroke-width="0.8"/>
<text x="492.2" y="376.40000000000003" font-family="DejaVu Sans, sans-serif" font-size="7.5" font-weight="bold" stroke="#231f20" stroke-width="0.22" fill="#231f20" textLength="16.4" lengthAdjust="spacingAndGlyphs">50%</text>
<line x1="486.8" y1="393.8" x2="490.7" y2="393.8" stroke="#cfcbcb" stroke-width="0.8"/>
<text x="492.2" y="396.40000000000003" font-family="DejaVu Sans, sans-serif" font-size="7.5" fill="#6c6b6d" textLength="16.4" lengthAdjust="spacingAndGlyphs" stroke="#6c6b6d" stroke-width="0.18">25%</text>
<line x1="486.8" y1="453.2" x2="490.7" y2="453.2" stroke="#cfcbcb" stroke-width="0.8"/>
<text x="492.2" y="455.8" font-family="DejaVu Sans, sans-serif" font-size="7.5" fill="#6c6b6d" textLength="11.2" lengthAdjust="spacingAndGlyphs" stroke="#6c6b6d" stroke-width="0.18">5%</text>
<text transform="translate(42,499.9) scale(0.9,1)" font-family="DejaVu Sans, sans-serif" font-size="6.4" font-weight="bold" stroke="#231f20" stroke-width="0.22" fill="#231f20" text-anchor="middle">12am</text>
<text transform="translate(94.2,499.9) scale(0.95,1)" font-family="DejaVu Sans, sans-serif" font-size="6.4" stroke="#77787b" stroke-width="0.12" fill="#77787b" text-anchor="middle">3am</text>
<text transform="translate(148.4,499.9) scale(0.95,1)" font-family="DejaVu Sans, sans-serif" font-size="6.4" stroke="#77787b" stroke-width="0.12" fill="#77787b" text-anchor="middle">6am</text>
<text transform="translate(200,499.9) scale(0.95,1)" font-family="DejaVu Sans, sans-serif" font-size="6.4" stroke="#77787b" stroke-width="0.12" fill="#77787b" text-anchor="middle">9am</text>
<text transform="translate(256,499.9) scale(0.9,1)" font-family="DejaVu Sans, sans-serif" font-size="6.4" font-weight="bold" stroke="#231f20" stroke-width="0.22" fill="#231f20" text-anchor="middle">12pm</text>
<text transform="translate(313.9,499.9) scale(0.95,1)" font-family="DejaVu Sans, sans-serif" font-size="6.4" stroke="#77787b" stroke-width="0.12" fill="#77787b" text-anchor="middle">3pm</text>
<text transform="translate(370.9,499.9) scale(0.95,1)" font-family="DejaVu Sans, sans-serif" font-size="6.4" stroke="#77787b" stroke-width="0.12" fill="#77787b" text-anchor="middle">6pm</text>
<text transform="translate(428.5,499.9) scale(0.95,1)" font-family="DejaVu Sans, sans-serif" font-size="6.4" stroke="#77787b" stroke-width="0.12" fill="#77787b" text-anchor="middle">9pm</text>
<text transform="translate(486.1,499.9) scale(0.9,1)" font-family="DejaVu Sans, sans-serif" font-size="6.4" font-weight="bold" stroke="#231f20" stroke-width="0.22" fill="#231f20" text-anchor="middle">12am</text>
<defs>
<clipPath id="dh0"><rect x="44.3" y="592.9" width="440.3" height="19.700000000000045"/></clipPath>
<clipPath id="dt0"><rect x="44.3" y="612.6" width="440.3" height="11.199999999999932"/></clipPath>
<clipPath id="dl0"><rect x="44.3" y="623.8" width="440.3" height="8.600000000000023"/></clipPath>
<clipPath id="dh1"><rect x="44.3" y="647.3" width="440.3" height="20.100000000000023"/></clipPath>
<clipPath id="dt1"><rect x="44.3" y="667.4" width="440.3" height="10.200000000000045"/></clipPath>
<clipPath id="dl1"><rect x="44.3" y="677.6" width="440.3" height="8.699999999999932"/></clipPath>
</defs>
<text transform="translate(77.25,589.2) scale(0.9,1)" font-family="DejaVu Sans, sans-serif" font-size="7.4" stroke="#4a4a4c" stroke-width="0.12" fill="#4a4a4c" text-anchor="middle">Sunday</text>
<text transform="translate(140.14999999999998,589.2) scale(0.9,1)" font-family="DejaVu Sans, sans-serif" font-size="7.4" stroke="#4a4a4c" stroke-width="0.12" fill="#4a4a4c" text-anchor="middle">Monday</text>
<text transform="translate(203.05,589.2) scale(0.9,1)" font-family="DejaVu Sans, sans-serif" font-size="7.4" stroke="#4a4a4c" stroke-width="0.12" fill="#4a4a4c" text-anchor="middle">Tuesday</text>
<text transform="translate(265.95,589.2) scale(0.9,1)" font-family="DejaVu Sans, sans-serif" font-size="7.4" stroke="#4a4a4c" stroke-width="0.12" fill="#4a4a4c" text-anchor="middle">Wednesday</text>
<text transform="translate(328.85,589.2) scale(0.9,1)" font-family="DejaVu Sans, sans-serif" font-size="7.4" stroke="#4a4a4c" stroke-width="0.12" fill="#4a4a4c" text-anchor="middle">Thursday</text>
<text transform="translate(391.75,589.2) scale(0.9,1)" font-family="DejaVu Sans, sans-serif" font-size="7.4" stroke="#4a4a4c" stroke-width="0.12" fill="#4a4a4c" text-anchor="middle">Friday</text>
<text transform="translate(454.65,589.2) scale(0.9,1)" font-family="DejaVu Sans, sans-serif" font-size="7.4" stroke="#4a4a4c" stroke-width="0.12" fill="#4a4a4c" text-anchor="middle">Saturday</text>
<rect x="44.3" y="592.9" width="440.3" height="39.5" fill="#fff" stroke="#d9d5d5" stroke-width="0.9"/>
<rect x="44.3" y="612.6" width="440.3" height="11.199999999999932" fill="#e9e7e7"/>
<line x1="75.75" y1="592.9" x2="75.75" y2="632.4" stroke="#e6e2e2" stroke-width="0.8"/>
<line x1="138.64999999999998" y1="592.9" x2="138.64999999999998" y2="632.4" stroke="#e6e2e2" stroke-width="0.8"/>
<line x1="107.19999999999999" y1="592.9" x2="107.19999999999999" y2="632.4" stroke="#cdc9c9" stroke-width="0.9"/>
<line x1="201.55" y1="592.9" x2="201.55" y2="632.4" stroke="#e6e2e2" stroke-width="0.8"/>
<line x1="170.1" y1="592.9" x2="170.1" y2="632.4" stroke="#cdc9c9" stroke-width="0.9"/>
<line x1="264.45" y1="592.9" x2="264.45" y2="632.4" stroke="#e6e2e2" stroke-width="0.8"/>
<line x1="233.0" y1="592.9" x2="233.0" y2="632.4" stroke="#cdc9c9" stroke-width="0.9"/>
<line x1="327.35" y1="592.9" x2="327.35" y2="632.4" stroke="#e6e2e2" stroke-width="0.8"/>
<line x1="295.9" y1="592.9" x2="295.9" y2="632.4" stroke="#cdc9c9" stroke-width="0.9"/>
<line x1="390.25" y1="592.9" x2="390.25" y2="632.4" stroke="#e6e2e2" stroke-width="0.8"/>
<line x1="358.8" y1="592.9" x2="358.8" y2="632.4" stroke="#cdc9c9" stroke-width="0.9"/>
<line x1="453.15" y1="592.9" x2="453.15" y2="632.4" stroke="#e6e2e2" stroke-width="0.8"/>
<line x1="421.7" y1="592.9" x2="421.7" y2="632.4" stroke="#cdc9c9" stroke-width="0.9"/>
<path d="M56.90,623.80 C57.47,623.97 60.29,625.14 61.20,625.10 C62.11,625.06 63.03,623.99 63.70,623.50 C64.37,623.01 65.63,622.33 66.20,621.40 C66.77,620.47 67.52,617.57 68.00,616.50 C68.48,615.43 69.31,613.57 69.80,613.40 C70.29,613.23 71.03,614.57 71.70,615.20 C72.37,615.83 73.99,617.27 74.80,618.10 C75.61,618.93 76.99,620.85 77.80,621.40 C78.61,621.95 80.15,622.28 80.90,622.20 C81.65,622.12 82.83,621.81 83.40,620.80 C83.97,619.79 84.79,616.28 85.20,614.60 C85.61,612.92 86.09,608.85 86.50,608.20 C86.91,607.55 87.73,609.37 88.30,609.70 C88.87,610.03 90.23,610.34 90.80,610.70 C91.37,611.06 92.11,611.96 92.60,612.40 C93.09,612.84 93.93,613.51 94.50,614.00 C95.07,614.49 96.25,616.02 96.90,616.10 C97.55,616.18 98.83,615.09 99.40,614.60 C99.97,614.11 100.55,612.97 101.20,612.40 C101.85,611.83 103.46,611.22 104.30,610.30 C105.14,609.38 106.74,606.54 107.50,605.50 C108.26,604.46 109.33,603.07 110.00,602.50 C110.67,601.93 111.83,601.08 112.50,601.25 C113.17,601.42 114.33,602.65 115.00,603.75 C115.67,604.85 116.90,608.33 117.50,609.50 C118.10,610.67 119.00,611.60 119.50,612.50 C120.00,613.40 120.68,615.25 121.25,616.25 C121.82,617.25 123.08,619.57 123.75,620.00 C124.42,620.43 125.58,620.17 126.25,619.50 C126.92,618.83 128.25,616.00 128.75,615.00 C129.25,614.00 129.67,613.33 130.00,612.00 C130.33,610.67 130.75,606.43 131.25,605.00 C131.75,603.57 132.92,602.02 133.75,601.25 C134.58,600.48 136.67,599.25 137.50,599.25 C138.33,599.25 139.33,600.15 140.00,601.25 C140.67,602.35 141.83,606.50 142.50,607.50 C143.17,608.50 144.27,608.92 145.00,608.75 C145.73,608.58 147.33,607.25 148.00,606.25 C148.67,605.25 149.40,602.08 150.00,601.25 C150.60,600.42 151.83,600.10 152.50,600.00 C153.17,599.90 154.33,599.83 155.00,600.50 C155.67,601.17 156.83,604.07 157.50,605.00 C158.17,605.93 159.40,607.67 160.00,607.50 C160.60,607.33 161.33,604.02 162.00,603.75 C162.67,603.48 164.10,604.93 165.00,605.50 C165.90,606.07 167.82,607.07 168.75,608.00 C169.68,608.93 171.33,611.63 172.00,612.50 C172.67,613.37 173.18,614.00 173.75,614.50 C174.32,615.00 175.42,615.78 176.25,616.25 C177.08,616.72 179.17,617.57 180.00,618.00 C180.83,618.43 181.83,618.90 182.50,619.50 C183.17,620.10 184.33,621.87 185.00,622.50 C185.67,623.13 186.67,623.92 187.50,624.25 C188.33,624.58 190.25,625.00 191.25,625.00 C192.25,625.00 194.00,624.58 195.00,624.25 C196.00,623.92 197.75,622.90 198.75,622.50 C199.75,622.10 201.67,621.65 202.50,621.25 C203.33,620.85 204.27,619.73 205.00,619.50 C205.73,619.27 207.50,620.43 208.00,619.50 C208.50,618.57 208.48,614.43 208.75,612.50 C209.02,610.57 209.43,606.73 210.00,605.00 C210.57,603.27 212.33,599.67 213.00,599.50 C213.67,599.33 214.40,602.35 215.00,603.75 C215.60,605.15 216.83,609.00 217.50,610.00 C218.17,611.00 219.33,611.25 220.00,611.25 C220.67,611.25 221.83,609.77 222.50,610.00 C223.17,610.23 224.33,612.33 225.00,613.00 C225.67,613.67 226.90,614.57 227.50,615.00 C228.10,615.43 229.10,617.08 229.50,616.25 C229.90,615.42 230.10,610.75 230.50,608.75 C230.90,606.75 231.97,602.35 232.50,601.25 C233.03,600.15 234.00,600.67 234.50,600.50 C235.00,600.33 235.68,599.73 236.25,600.00 C236.82,600.27 238.08,601.67 238.75,602.50 C239.42,603.33 240.58,605.08 241.25,606.25 C241.92,607.42 243.18,609.75 243.75,611.25 C244.32,612.75 245.00,616.07 245.50,617.50 C246.00,618.93 246.90,621.17 247.50,622.00 C248.10,622.83 249.33,623.42 250.00,623.75 C250.67,624.08 251.83,624.50 252.50,624.50 C253.17,624.50 254.33,624.08 255.00,623.75 C255.67,623.42 256.83,622.57 257.50,622.00 C258.17,621.43 259.17,620.27 260.00,619.50 C260.83,618.73 262.82,616.85 263.75,616.25 C264.68,615.65 266.17,614.83 267.00,615.00 C267.83,615.17 269.20,616.77 270.00,617.50 C270.80,618.23 272.33,620.00 273.00,620.50 C273.67,621.00 274.47,622.15 275.00,621.25 C275.53,620.35 276.50,615.25 277.00,613.75 C277.50,612.25 278.18,610.83 278.75,610.00 C279.32,609.17 280.58,608.00 281.25,607.50 C281.92,607.00 283.08,606.75 283.75,606.25 C284.42,605.75 285.58,604.58 286.25,603.75 C286.92,602.92 288.25,600.67 288.75,600.00 C289.25,599.33 289.57,598.58 290.00,598.75 C290.43,598.92 291.50,601.08 292.00,601.25 C292.50,601.42 293.28,600.00 293.75,600.00 C294.22,600.00 295.00,600.42 295.50,601.25 C296.00,602.08 296.97,605.08 297.50,606.25 C298.03,607.42 299.00,608.83 299.50,610.00 C300.00,611.17 300.68,613.83 301.25,615.00 C301.82,616.17 303.08,617.92 303.75,618.75 C304.42,619.58 305.58,620.58 306.25,621.25 C306.92,621.92 308.08,623.15 308.75,623.75 C309.42,624.35 310.48,625.58 311.25,625.75 C312.02,625.92 313.67,625.50 314.50,625.00 C315.33,624.50 316.77,622.67 317.50,622.00 C318.23,621.33 319.33,620.20 320.00,620.00 C320.67,619.80 321.67,620.50 322.50,620.50 C323.33,620.50 325.25,619.90 326.25,620.00 C327.25,620.10 329.17,620.75 330.00,621.25 C330.83,621.75 331.83,623.92 332.50,623.75 C333.17,623.58 334.33,620.90 335.00,620.00 C335.67,619.10 336.83,617.50 337.50,617.00 C338.17,616.50 339.33,616.18 340.00,616.25 C340.67,616.32 341.83,616.93 342.50,617.50 C343.17,618.07 344.33,619.83 345.00,620.50 C345.67,621.17 346.83,622.23 347.50,622.50 C348.17,622.77 349.43,622.50 350.00,622.50 C350.57,622.50 351.42,623.67 351.75,622.50 C352.08,621.33 352.07,615.58 352.50,613.75 C352.93,611.92 354.33,610.42 355.00,608.75 C355.67,607.08 356.90,602.48 357.50,601.25 C358.10,600.02 359.00,599.50 359.50,599.50 C360.00,599.50 360.68,601.12 361.25,601.25 C361.82,601.38 363.08,600.67 363.75,600.50 C364.42,600.33 365.58,600.23 366.25,600.00 C366.92,599.77 368.18,598.58 368.75,598.75 C369.32,598.92 370.00,600.25 370.50,601.25 C371.00,602.25 371.97,604.92 372.50,606.25 C373.03,607.58 374.00,610.25 374.50,611.25 C375.00,612.25 375.68,613.08 376.25,613.75 C376.82,614.42 378.08,615.75 378.75,616.25 C379.42,616.75 380.58,617.50 381.25,617.50 C381.92,617.50 383.18,616.75 383.75,616.25 C384.32,615.75 385.17,614.92 385.50,613.75 C385.83,612.58 385.98,608.83 386.25,607.50 C386.52,606.17 387.00,604.42 387.50,603.75 C388.00,603.08 389.17,602.83 390.00,602.50 C390.83,602.17 393.02,601.42 393.75,601.25 C394.48,601.08 395.07,600.75 395.50,601.25 C395.93,601.75 396.57,603.67 397.00,605.00 C397.43,606.33 398.35,610.08 398.75,611.25 C399.15,612.42 399.67,613.08 400.00,613.75 C400.33,614.42 400.92,616.42 401.25,616.25 C401.58,616.08 402.17,612.50 402.50,612.50 C402.83,612.50 403.25,615.58 403.75,616.25 C404.25,616.92 405.58,617.50 406.25,617.50 C406.92,617.50 408.08,616.32 408.75,616.25 C409.42,616.18 410.42,617.17 411.25,617.00 C412.08,616.83 414.17,615.43 415.00,615.00 C415.83,614.57 416.83,613.92 417.50,613.75 C418.17,613.58 419.33,613.75 420.00,613.75 C420.67,613.75 421.83,613.25 422.50,613.75 C423.17,614.25 424.33,616.50 425.00,617.50 C425.67,618.50 426.83,620.25 427.50,621.25 C428.17,622.25 429.33,624.33 430.00,625.00 C430.67,625.67 431.83,626.25 432.50,626.25 C433.17,626.25 434.33,625.00 435.00,625.00 C435.67,625.00 436.83,626.15 437.50,626.25 C438.17,626.35 439.40,626.08 440.00,625.75 C440.60,625.42 441.67,624.52 442.00,623.75 C442.33,622.98 442.27,620.23 442.50,620.00 C442.73,619.77 443.42,622.33 443.75,622.00 C444.08,621.67 444.50,618.37 445.00,617.50 C445.50,616.63 446.83,615.67 447.50,615.50 C448.17,615.33 449.33,615.72 450.00,616.25 C450.67,616.78 451.83,618.67 452.50,619.50 C453.17,620.33 454.40,621.93 455.00,622.50 C455.60,623.07 456.60,624.25 457.00,623.75 C457.40,623.25 457.67,620.08 458.00,618.75 C458.33,617.42 459.07,614.92 459.50,613.75 C459.93,612.58 460.68,610.77 461.25,610.00 C461.82,609.23 463.08,608.07 463.75,608.00 C464.42,607.93 465.58,608.73 466.25,609.50 C466.92,610.27 468.08,612.52 468.75,613.75 C469.42,614.98 470.58,617.58 471.25,618.75 C471.92,619.92 473.18,622.67 473.75,622.50 C474.32,622.33 475.10,619.00 475.50,617.50 C475.90,616.00 476.32,612.52 476.75,611.25 C477.18,609.98 478.32,607.67 478.75,608.00 C479.18,608.33 479.50,612.32 480.00,613.75 C480.50,615.18 481.93,617.42 482.50,618.75 C483.07,620.08 484.02,623.08 484.25,623.75 L484.25,612.6 L56.9,612.6 Z" fill="#fdde9e" clip-path="url(#dh0)"/>
<path d="M56.90,623.80 C57.47,623.97 60.29,625.14 61.20,625.10 C62.11,625.06 63.03,623.99 63.70,623.50 C64.37,623.01 65.63,622.33 66.20,621.40 C66.77,620.47 67.52,617.57 68.00,616.50 C68.48,615.43 69.31,613.57 69.80,613.40 C70.29,613.23 71.03,614.57 71.70,615.20 C72.37,615.83 73.99,617.27 74.80,618.10 C75.61,618.93 76.99,620.85 77.80,621.40 C78.61,621.95 80.15,622.28 80.90,622.20 C81.65,622.12 82.83,621.81 83.40,620.80 C83.97,619.79 84.79,616.28 85.20,614.60 C85.61,612.92 86.09,608.85 86.50,608.20 C86.91,607.55 87.73,609.37 88.30,609.70 C88.87,610.03 90.23,610.34 90.80,610.70 C91.37,611.06 92.11,611.96 92.60,612.40 C93.09,612.84 93.93,613.51 94.50,614.00 C95.07,614.49 96.25,616.02 96.90,616.10 C97.55,616.18 98.83,615.09 99.40,614.60 C99.97,614.11 100.55,612.97 101.20,612.40 C101.85,611.83 103.46,611.22 104.30,610.30 C105.14,609.38 106.74,606.54 107.50,605.50 C108.26,604.46 109.33,603.07 110.00,602.50 C110.67,601.93 111.83,601.08 112.50,601.25 C113.17,601.42 114.33,602.65 115.00,603.75 C115.67,604.85 116.90,608.33 117.50,609.50 C118.10,610.67 119.00,611.60 119.50,612.50 C120.00,613.40 120.68,615.25 121.25,616.25 C121.82,617.25 123.08,619.57 123.75,620.00 C124.42,620.43 125.58,620.17 126.25,619.50 C126.92,618.83 128.25,616.00 128.75,615.00 C129.25,614.00 129.67,613.33 130.00,612.00 C130.33,610.67 130.75,606.43 131.25,605.00 C131.75,603.57 132.92,602.02 133.75,601.25 C134.58,600.48 136.67,599.25 137.50,599.25 C138.33,599.25 139.33,600.15 140.00,601.25 C140.67,602.35 141.83,606.50 142.50,607.50 C143.17,608.50 144.27,608.92 145.00,608.75 C145.73,608.58 147.33,607.25 148.00,606.25 C148.67,605.25 149.40,602.08 150.00,601.25 C150.60,600.42 151.83,600.10 152.50,600.00 C153.17,599.90 154.33,599.83 155.00,600.50 C155.67,601.17 156.83,604.07 157.50,605.00 C158.17,605.93 159.40,607.67 160.00,607.50 C160.60,607.33 161.33,604.02 162.00,603.75 C162.67,603.48 164.10,604.93 165.00,605.50 C165.90,606.07 167.82,607.07 168.75,608.00 C169.68,608.93 171.33,611.63 172.00,612.50 C172.67,613.37 173.18,614.00 173.75,614.50 C174.32,615.00 175.42,615.78 176.25,616.25 C177.08,616.72 179.17,617.57 180.00,618.00 C180.83,618.43 181.83,618.90 182.50,619.50 C183.17,620.10 184.33,621.87 185.00,622.50 C185.67,623.13 186.67,623.92 187.50,624.25 C188.33,624.58 190.25,625.00 191.25,625.00 C192.25,625.00 194.00,624.58 195.00,624.25 C196.00,623.92 197.75,622.90 198.75,622.50 C199.75,622.10 201.67,621.65 202.50,621.25 C203.33,620.85 204.27,619.73 205.00,619.50 C205.73,619.27 207.50,620.43 208.00,619.50 C208.50,618.57 208.48,614.43 208.75,612.50 C209.02,610.57 209.43,606.73 210.00,605.00 C210.57,603.27 212.33,599.67 213.00,599.50 C213.67,599.33 214.40,602.35 215.00,603.75 C215.60,605.15 216.83,609.00 217.50,610.00 C218.17,611.00 219.33,611.25 220.00,611.25 C220.67,611.25 221.83,609.77 222.50,610.00 C223.17,610.23 224.33,612.33 225.00,613.00 C225.67,613.67 226.90,614.57 227.50,615.00 C228.10,615.43 229.10,617.08 229.50,616.25 C229.90,615.42 230.10,610.75 230.50,608.75 C230.90,606.75 231.97,602.35 232.50,601.25 C233.03,600.15 234.00,600.67 234.50,600.50 C235.00,600.33 235.68,599.73 236.25,600.00 C236.82,600.27 238.08,601.67 238.75,602.50 C239.42,603.33 240.58,605.08 241.25,606.25 C241.92,607.42 243.18,609.75 243.75,611.25 C244.32,612.75 245.00,616.07 245.50,617.50 C246.00,618.93 246.90,621.17 247.50,622.00 C248.10,622.83 249.33,623.42 250.00,623.75 C250.67,624.08 251.83,624.50 252.50,624.50 C253.17,624.50 254.33,624.08 255.00,623.75 C255.67,623.42 256.83,622.57 257.50,622.00 C258.17,621.43 259.17,620.27 260.00,619.50 C260.83,618.73 262.82,616.85 263.75,616.25 C264.68,615.65 266.17,614.83 267.00,615.00 C267.83,615.17 269.20,616.77 270.00,617.50 C270.80,618.23 272.33,620.00 273.00,620.50 C273.67,621.00 274.47,622.15 275.00,621.25 C275.53,620.35 276.50,615.25 277.00,613.75 C277.50,612.25 278.18,610.83 278.75,610.00 C279.32,609.17 280.58,608.00 281.25,607.50 C281.92,607.00 283.08,606.75 283.75,606.25 C284.42,605.75 285.58,604.58 286.25,603.75 C286.92,602.92 288.25,600.67 288.75,600.00 C289.25,599.33 289.57,598.58 290.00,598.75 C290.43,598.92 291.50,601.08 292.00,601.25 C292.50,601.42 293.28,600.00 293.75,600.00 C294.22,600.00 295.00,600.42 295.50,601.25 C296.00,602.08 296.97,605.08 297.50,606.25 C298.03,607.42 299.00,608.83 299.50,610.00 C300.00,611.17 300.68,613.83 301.25,615.00 C301.82,616.17 303.08,617.92 303.75,618.75 C304.42,619.58 305.58,620.58 306.25,621.25 C306.92,621.92 308.08,623.15 308.75,623.75 C309.42,624.35 310.48,625.58 311.25,625.75 C312.02,625.92 313.67,625.50 314.50,625.00 C315.33,624.50 316.77,622.67 317.50,622.00 C318.23,621.33 319.33,620.20 320.00,620.00 C320.67,619.80 321.67,620.50 322.50,620.50 C323.33,620.50 325.25,619.90 326.25,620.00 C327.25,620.10 329.17,620.75 330.00,621.25 C330.83,621.75 331.83,623.92 332.50,623.75 C333.17,623.58 334.33,620.90 335.00,620.00 C335.67,619.10 336.83,617.50 337.50,617.00 C338.17,616.50 339.33,616.18 340.00,616.25 C340.67,616.32 341.83,616.93 342.50,617.50 C343.17,618.07 344.33,619.83 345.00,620.50 C345.67,621.17 346.83,622.23 347.50,622.50 C348.17,622.77 349.43,622.50 350.00,622.50 C350.57,622.50 351.42,623.67 351.75,622.50 C352.08,621.33 352.07,615.58 352.50,613.75 C352.93,611.92 354.33,610.42 355.00,608.75 C355.67,607.08 356.90,602.48 357.50,601.25 C358.10,600.02 359.00,599.50 359.50,599.50 C360.00,599.50 360.68,601.12 361.25,601.25 C361.82,601.38 363.08,600.67 363.75,600.50 C364.42,600.33 365.58,600.23 366.25,600.00 C366.92,599.77 368.18,598.58 368.75,598.75 C369.32,598.92 370.00,600.25 370.50,601.25 C371.00,602.25 371.97,604.92 372.50,606.25 C373.03,607.58 374.00,610.25 374.50,611.25 C375.00,612.25 375.68,613.08 376.25,613.75 C376.82,614.42 378.08,615.75 378.75,616.25 C379.42,616.75 380.58,617.50 381.25,617.50 C381.92,617.50 383.18,616.75 383.75,616.25 C384.32,615.75 385.17,614.92 385.50,613.75 C385.83,612.58 385.98,608.83 386.25,607.50 C386.52,606.17 387.00,604.42 387.50,603.75 C388.00,603.08 389.17,602.83 390.00,602.50 C390.83,602.17 393.02,601.42 393.75,601.25 C394.48,601.08 395.07,600.75 395.50,601.25 C395.93,601.75 396.57,603.67 397.00,605.00 C397.43,606.33 398.35,610.08 398.75,611.25 C399.15,612.42 399.67,613.08 400.00,613.75 C400.33,614.42 400.92,616.42 401.25,616.25 C401.58,616.08 402.17,612.50 402.50,612.50 C402.83,612.50 403.25,615.58 403.75,616.25 C404.25,616.92 405.58,617.50 406.25,617.50 C406.92,617.50 408.08,616.32 408.75,616.25 C409.42,616.18 410.42,617.17 411.25,617.00 C412.08,616.83 414.17,615.43 415.00,615.00 C415.83,614.57 416.83,613.92 417.50,613.75 C418.17,613.58 419.33,613.75 420.00,613.75 C420.67,613.75 421.83,613.25 422.50,613.75 C423.17,614.25 424.33,616.50 425.00,617.50 C425.67,618.50 426.83,620.25 427.50,621.25 C428.17,622.25 429.33,624.33 430.00,625.00 C430.67,625.67 431.83,626.25 432.50,626.25 C433.17,626.25 434.33,625.00 435.00,625.00 C435.67,625.00 436.83,626.15 437.50,626.25 C438.17,626.35 439.40,626.08 440.00,625.75 C440.60,625.42 441.67,624.52 442.00,623.75 C442.33,622.98 442.27,620.23 442.50,620.00 C442.73,619.77 443.42,622.33 443.75,622.00 C444.08,621.67 444.50,618.37 445.00,617.50 C445.50,616.63 446.83,615.67 447.50,615.50 C448.17,615.33 449.33,615.72 450.00,616.25 C450.67,616.78 451.83,618.67 452.50,619.50 C453.17,620.33 454.40,621.93 455.00,622.50 C455.60,623.07 456.60,624.25 457.00,623.75 C457.40,623.25 457.67,620.08 458.00,618.75 C458.33,617.42 459.07,614.92 459.50,613.75 C459.93,612.58 460.68,610.77 461.25,610.00 C461.82,609.23 463.08,608.07 463.75,608.00 C464.42,607.93 465.58,608.73 466.25,609.50 C466.92,610.27 468.08,612.52 468.75,613.75 C469.42,614.98 470.58,617.58 471.25,618.75 C471.92,619.92 473.18,622.67 473.75,622.50 C474.32,622.33 475.10,619.00 475.50,617.50 C475.90,616.00 476.32,612.52 476.75,611.25 C477.18,609.98 478.32,607.67 478.75,608.00 C479.18,608.33 479.50,612.32 480.00,613.75 C480.50,615.18 481.93,617.42 482.50,618.75 C483.07,620.08 484.02,623.08 484.25,623.75 L484.25,623.8 L56.9,623.8 Z" fill="#f5a593" clip-path="url(#dl0)"/>
<line x1="44.3" y1="612.6" x2="484.6" y2="612.6" stroke="#8d8b8b" stroke-width="1.2"/>
<line x1="44.3" y1="623.8" x2="484.6" y2="623.8" stroke="#8d8b8b" stroke-width="1.2"/>
<path d="M56.90,623.80 C57.47,623.97 60.29,625.14 61.20,625.10 C62.11,625.06 63.03,623.99 63.70,623.50 C64.37,623.01 65.63,622.33 66.20,621.40 C66.77,620.47 67.52,617.57 68.00,616.50 C68.48,615.43 69.31,613.57 69.80,613.40 C70.29,613.23 71.03,614.57 71.70,615.20 C72.37,615.83 73.99,617.27 74.80,618.10 C75.61,618.93 76.99,620.85 77.80,621.40 C78.61,621.95 80.15,622.28 80.90,622.20 C81.65,622.12 82.83,621.81 83.40,620.80 C83.97,619.79 84.79,616.28 85.20,614.60 C85.61,612.92 86.09,608.85 86.50,608.20 C86.91,607.55 87.73,609.37 88.30,609.70 C88.87,610.03 90.23,610.34 90.80,610.70 C91.37,611.06 92.11,611.96 92.60,612.40 C93.09,612.84 93.93,613.51 94.50,614.00 C95.07,614.49 96.25,616.02 96.90,616.10 C97.55,616.18 98.83,615.09 99.40,614.60 C99.97,614.11 100.55,612.97 101.20,612.40 C101.85,611.83 103.46,611.22 104.30,610.30 C105.14,609.38 106.74,606.54 107.50,605.50 C108.26,604.46 109.33,603.07 110.00,602.50 C110.67,601.93 111.83,601.08 112.50,601.25 C113.17,601.42 114.33,602.65 115.00,603.75 C115.67,604.85 116.90,608.33 117.50,609.50 C118.10,610.67 119.00,611.60 119.50,612.50 C120.00,613.40 120.68,615.25 121.25,616.25 C121.82,617.25 123.08,619.57 123.75,620.00 C124.42,620.43 125.58,620.17 126.25,619.50 C126.92,618.83 128.25,616.00 128.75,615.00 C129.25,614.00 129.67,613.33 130.00,612.00 C130.33,610.67 130.75,606.43 131.25,605.00 C131.75,603.57 132.92,602.02 133.75,601.25 C134.58,600.48 136.67,599.25 137.50,599.25 C138.33,599.25 139.33,600.15 140.00,601.25 C140.67,602.35 141.83,606.50 142.50,607.50 C143.17,608.50 144.27,608.92 145.00,608.75 C145.73,608.58 147.33,607.25 148.00,606.25 C148.67,605.25 149.40,602.08 150.00,601.25 C150.60,600.42 151.83,600.10 152.50,600.00 C153.17,599.90 154.33,599.83 155.00,600.50 C155.67,601.17 156.83,604.07 157.50,605.00 C158.17,605.93 159.40,607.67 160.00,607.50 C160.60,607.33 161.33,604.02 162.00,603.75 C162.67,603.48 164.10,604.93 165.00,605.50 C165.90,606.07 167.82,607.07 168.75,608.00 C169.68,608.93 171.33,611.63 172.00,612.50 C172.67,613.37 173.18,614.00 173.75,614.50 C174.32,615.00 175.42,615.78 176.25,616.25 C177.08,616.72 179.17,617.57 180.00,618.00 C180.83,618.43 181.83,618.90 182.50,619.50 C183.17,620.10 184.33,621.87 185.00,622.50 C185.67,623.13 186.67,623.92 187.50,624.25 C188.33,624.58 190.25,625.00 191.25,625.00 C192.25,625.00 194.00,624.58 195.00,624.25 C196.00,623.92 197.75,622.90 198.75,622.50 C199.75,622.10 201.67,621.65 202.50,621.25 C203.33,620.85 204.27,619.73 205.00,619.50 C205.73,619.27 207.50,620.43 208.00,619.50 C208.50,618.57 208.48,614.43 208.75,612.50 C209.02,610.57 209.43,606.73 210.00,605.00 C210.57,603.27 212.33,599.67 213.00,599.50 C213.67,599.33 214.40,602.35 215.00,603.75 C215.60,605.15 216.83,609.00 217.50,610.00 C218.17,611.00 219.33,611.25 220.00,611.25 C220.67,611.25 221.83,609.77 222.50,610.00 C223.17,610.23 224.33,612.33 225.00,613.00 C225.67,613.67 226.90,614.57 227.50,615.00 C228.10,615.43 229.10,617.08 229.50,616.25 C229.90,615.42 230.10,610.75 230.50,608.75 C230.90,606.75 231.97,602.35 232.50,601.25 C233.03,600.15 234.00,600.67 234.50,600.50 C235.00,600.33 235.68,599.73 236.25,600.00 C236.82,600.27 238.08,601.67 238.75,602.50 C239.42,603.33 240.58,605.08 241.25,606.25 C241.92,607.42 243.18,609.75 243.75,611.25 C244.32,612.75 245.00,616.07 245.50,617.50 C246.00,618.93 246.90,621.17 247.50,622.00 C248.10,622.83 249.33,623.42 250.00,623.75 C250.67,624.08 251.83,624.50 252.50,624.50 C253.17,624.50 254.33,624.08 255.00,623.75 C255.67,623.42 256.83,622.57 257.50,622.00 C258.17,621.43 259.17,620.27 260.00,619.50 C260.83,618.73 262.82,616.85 263.75,616.25 C264.68,615.65 266.17,614.83 267.00,615.00 C267.83,615.17 269.20,616.77 270.00,617.50 C270.80,618.23 272.33,620.00 273.00,620.50 C273.67,621.00 274.47,622.15 275.00,621.25 C275.53,620.35 276.50,615.25 277.00,613.75 C277.50,612.25 278.18,610.83 278.75,610.00 C279.32,609.17 280.58,608.00 281.25,607.50 C281.92,607.00 283.08,606.75 283.75,606.25 C284.42,605.75 285.58,604.58 286.25,603.75 C286.92,602.92 288.25,600.67 288.75,600.00 C289.25,599.33 289.57,598.58 290.00,598.75 C290.43,598.92 291.50,601.08 292.00,601.25 C292.50,601.42 293.28,600.00 293.75,600.00 C294.22,600.00 295.00,600.42 295.50,601.25 C296.00,602.08 296.97,605.08 297.50,606.25 C298.03,607.42 299.00,608.83 299.50,610.00 C300.00,611.17 300.68,613.83 301.25,615.00 C301.82,616.17 303.08,617.92 303.75,618.75 C304.42,619.58 305.58,620.58 306.25,621.25 C306.92,621.92 308.08,623.15 308.75,623.75 C309.42,624.35 310.48,625.58 311.25,625.75 C312.02,625.92 313.67,625.50 314.50,625.00 C315.33,624.50 316.77,622.67 317.50,622.00 C318.23,621.33 319.33,620.20 320.00,620.00 C320.67,619.80 321.67,620.50 322.50,620.50 C323.33,620.50 325.25,619.90 326.25,620.00 C327.25,620.10 329.17,620.75 330.00,621.25 C330.83,621.75 331.83,623.92 332.50,623.75 C333.17,623.58 334.33,620.90 335.00,620.00 C335.67,619.10 336.83,617.50 337.50,617.00 C338.17,616.50 339.33,616.18 340.00,616.25 C340.67,616.32 341.83,616.93 342.50,617.50 C343.17,618.07 344.33,619.83 345.00,620.50 C345.67,621.17 346.83,622.23 347.50,622.50 C348.17,622.77 349.43,622.50 350.00,622.50 C350.57,622.50 351.42,623.67 351.75,622.50 C352.08,621.33 352.07,615.58 352.50,613.75 C352.93,611.92 354.33,610.42 355.00,608.75 C355.67,607.08 356.90,602.48 357.50,601.25 C358.10,600.02 359.00,599.50 359.50,599.50 C360.00,599.50 360.68,601.12 361.25,601.25 C361.82,601.38 363.08,600.67 363.75,600.50 C364.42,600.33 365.58,600.23 366.25,600.00 C366.92,599.77 368.18,598.58 368.75,598.75 C369.32,598.92 370.00,600.25 370.50,601.25 C371.00,602.25 371.97,604.92 372.50,606.25 C373.03,607.58 374.00,610.25 374.50,611.25 C375.00,612.25 375.68,613.08 376.25,613.75 C376.82,614.42 378.08,615.75 378.75,616.25 C379.42,616.75 380.58,617.50 381.25,617.50 C381.92,617.50 383.18,616.75 383.75,616.25 C384.32,615.75 385.17,614.92 385.50,613.75 C385.83,612.58 385.98,608.83 386.25,607.50 C386.52,606.17 387.00,604.42 387.50,603.75 C388.00,603.08 389.17,602.83 390.00,602.50 C390.83,602.17 393.02,601.42 393.75,601.25 C394.48,601.08 395.07,600.75 395.50,601.25 C395.93,601.75 396.57,603.67 397.00,605.00 C397.43,606.33 398.35,610.08 398.75,611.25 C399.15,612.42 399.67,613.08 400.00,613.75 C400.33,614.42 400.92,616.42 401.25,616.25 C401.58,616.08 402.17,612.50 402.50,612.50 C402.83,612.50 403.25,615.58 403.75,616.25 C404.25,616.92 405.58,617.50 406.25,617.50 C406.92,617.50 408.08,616.32 408.75,616.25 C409.42,616.18 410.42,617.17 411.25,617.00 C412.08,616.83 414.17,615.43 415.00,615.00 C415.83,614.57 416.83,613.92 417.50,613.75 C418.17,613.58 419.33,613.75 420.00,613.75 C420.67,613.75 421.83,613.25 422.50,613.75 C423.17,614.25 424.33,616.50 425.00,617.50 C425.67,618.50 426.83,620.25 427.50,621.25 C428.17,622.25 429.33,624.33 430.00,625.00 C430.67,625.67 431.83,626.25 432.50,626.25 C433.17,626.25 434.33,625.00 435.00,625.00 C435.67,625.00 436.83,626.15 437.50,626.25 C438.17,626.35 439.40,626.08 440.00,625.75 C440.60,625.42 441.67,624.52 442.00,623.75 C442.33,622.98 442.27,620.23 442.50,620.00 C442.73,619.77 443.42,622.33 443.75,622.00 C444.08,621.67 444.50,618.37 445.00,617.50 C445.50,616.63 446.83,615.67 447.50,615.50 C448.17,615.33 449.33,615.72 450.00,616.25 C450.67,616.78 451.83,618.67 452.50,619.50 C453.17,620.33 454.40,621.93 455.00,622.50 C455.60,623.07 456.60,624.25 457.00,623.75 C457.40,623.25 457.67,620.08 458.00,618.75 C458.33,617.42 459.07,614.92 459.50,613.75 C459.93,612.58 460.68,610.77 461.25,610.00 C461.82,609.23 463.08,608.07 463.75,608.00 C464.42,607.93 465.58,608.73 466.25,609.50 C466.92,610.27 468.08,612.52 468.75,613.75 C469.42,614.98 470.58,617.58 471.25,618.75 C471.92,619.92 473.18,622.67 473.75,622.50 C474.32,622.33 475.10,619.00 475.50,617.50 C475.90,616.00 476.32,612.52 476.75,611.25 C477.18,609.98 478.32,607.67 478.75,608.00 C479.18,608.33 479.50,612.32 480.00,613.75 C480.50,615.18 481.93,617.42 482.50,618.75 C483.07,620.08 484.02,623.08 484.25,623.75" fill="none" stroke="#f6b12a" stroke-width="1.25" stroke-linejoin="round" clip-path="url(#dh0)"/>
<path d="M56.90,623.80 C57.47,623.97 60.29,625.14 61.20,625.10 C62.11,625.06 63.03,623.99 63.70,623.50 C64.37,623.01 65.63,622.33 66.20,621.40 C66.77,620.47 67.52,617.57 68.00,616.50 C68.48,615.43 69.31,613.57 69.80,613.40 C70.29,613.23 71.03,614.57 71.70,615.20 C72.37,615.83 73.99,617.27 74.80,618.10 C75.61,618.93 76.99,620.85 77.80,621.40 C78.61,621.95 80.15,622.28 80.90,622.20 C81.65,622.12 82.83,621.81 83.40,620.80 C83.97,619.79 84.79,616.28 85.20,614.60 C85.61,612.92 86.09,608.85 86.50,608.20 C86.91,607.55 87.73,609.37 88.30,609.70 C88.87,610.03 90.23,610.34 90.80,610.70 C91.37,611.06 92.11,611.96 92.60,612.40 C93.09,612.84 93.93,613.51 94.50,614.00 C95.07,614.49 96.25,616.02 96.90,616.10 C97.55,616.18 98.83,615.09 99.40,614.60 C99.97,614.11 100.55,612.97 101.20,612.40 C101.85,611.83 103.46,611.22 104.30,610.30 C105.14,609.38 106.74,606.54 107.50,605.50 C108.26,604.46 109.33,603.07 110.00,602.50 C110.67,601.93 111.83,601.08 112.50,601.25 C113.17,601.42 114.33,602.65 115.00,603.75 C115.67,604.85 116.90,608.33 117.50,609.50 C118.10,610.67 119.00,611.60 119.50,612.50 C120.00,613.40 120.68,615.25 121.25,616.25 C121.82,617.25 123.08,619.57 123.75,620.00 C124.42,620.43 125.58,620.17 126.25,619.50 C126.92,618.83 128.25,616.00 128.75,615.00 C129.25,614.00 129.67,613.33 130.00,612.00 C130.33,610.67 130.75,606.43 131.25,605.00 C131.75,603.57 132.92,602.02 133.75,601.25 C134.58,600.48 136.67,599.25 137.50,599.25 C138.33,599.25 139.33,600.15 140.00,601.25 C140.67,602.35 141.83,606.50 142.50,607.50 C143.17,608.50 144.27,608.92 145.00,608.75 C145.73,608.58 147.33,607.25 148.00,606.25 C148.67,605.25 149.40,602.08 150.00,601.25 C150.60,600.42 151.83,600.10 152.50,600.00 C153.17,599.90 154.33,599.83 155.00,600.50 C155.67,601.17 156.83,604.07 157.50,605.00 C158.17,605.93 159.40,607.67 160.00,607.50 C160.60,607.33 161.33,604.02 162.00,603.75 C162.67,603.48 164.10,604.93 165.00,605.50 C165.90,606.07 167.82,607.07 168.75,608.00 C169.68,608.93 171.33,611.63 172.00,612.50 C172.67,613.37 173.18,614.00 173.75,614.50 C174.32,615.00 175.42,615.78 176.25,616.25 C177.08,616.72 179.17,617.57 180.00,618.00 C180.83,618.43 181.83,618.90 182.50,619.50 C183.17,620.10 184.33,621.87 185.00,622.50 C185.67,623.13 186.67,623.92 187.50,624.25 C188.33,624.58 190.25,625.00 191.25,625.00 C192.25,625.00 194.00,624.58 195.00,624.25 C196.00,623.92 197.75,622.90 198.75,622.50 C199.75,622.10 201.67,621.65 202.50,621.25 C203.33,620.85 204.27,619.73 205.00,619.50 C205.73,619.27 207.50,620.43 208.00,619.50 C208.50,618.57 208.48,614.43 208.75,612.50 C209.02,610.57 209.43,606.73 210.00,605.00 C210.57,603.27 212.33,599.67 213.00,599.50 C213.67,599.33 214.40,602.35 215.00,603.75 C215.60,605.15 216.83,609.00 217.50,610.00 C218.17,611.00 219.33,611.25 220.00,611.25 C220.67,611.25 221.83,609.77 222.50,610.00 C223.17,610.23 224.33,612.33 225.00,613.00 C225.67,613.67 226.90,614.57 227.50,615.00 C228.10,615.43 229.10,617.08 229.50,616.25 C229.90,615.42 230.10,610.75 230.50,608.75 C230.90,606.75 231.97,602.35 232.50,601.25 C233.03,600.15 234.00,600.67 234.50,600.50 C235.00,600.33 235.68,599.73 236.25,600.00 C236.82,600.27 238.08,601.67 238.75,602.50 C239.42,603.33 240.58,605.08 241.25,606.25 C241.92,607.42 243.18,609.75 243.75,611.25 C244.32,612.75 245.00,616.07 245.50,617.50 C246.00,618.93 246.90,621.17 247.50,622.00 C248.10,622.83 249.33,623.42 250.00,623.75 C250.67,624.08 251.83,624.50 252.50,624.50 C253.17,624.50 254.33,624.08 255.00,623.75 C255.67,623.42 256.83,622.57 257.50,622.00 C258.17,621.43 259.17,620.27 260.00,619.50 C260.83,618.73 262.82,616.85 263.75,616.25 C264.68,615.65 266.17,614.83 267.00,615.00 C267.83,615.17 269.20,616.77 270.00,617.50 C270.80,618.23 272.33,620.00 273.00,620.50 C273.67,621.00 274.47,622.15 275.00,621.25 C275.53,620.35 276.50,615.25 277.00,613.75 C277.50,612.25 278.18,610.83 278.75,610.00 C279.32,609.17 280.58,608.00 281.25,607.50 C281.92,607.00 283.08,606.75 283.75,606.25 C284.42,605.75 285.58,604.58 286.25,603.75 C286.92,602.92 288.25,600.67 288.75,600.00 C289.25,599.33 289.57,598.58 290.00,598.75 C290.43,598.92 291.50,601.08 292.00,601.25 C292.50,601.42 293.28,600.00 293.75,600.00 C294.22,600.00 295.00,600.42 295.50,601.25 C296.00,602.08 296.97,605.08 297.50,606.25 C298.03,607.42 299.00,608.83 299.50,610.00 C300.00,611.17 300.68,613.83 301.25,615.00 C301.82,616.17 303.08,617.92 303.75,618.75 C304.42,619.58 305.58,620.58 306.25,621.25 C306.92,621.92 308.08,623.15 308.75,623.75 C309.42,624.35 310.48,625.58 311.25,625.75 C312.02,625.92 313.67,625.50 314.50,625.00 C315.33,624.50 316.77,622.67 317.50,622.00 C318.23,621.33 319.33,620.20 320.00,620.00 C320.67,619.80 321.67,620.50 322.50,620.50 C323.33,620.50 325.25,619.90 326.25,620.00 C327.25,620.10 329.17,620.75 330.00,621.25 C330.83,621.75 331.83,623.92 332.50,623.75 C333.17,623.58 334.33,620.90 335.00,620.00 C335.67,619.10 336.83,617.50 337.50,617.00 C338.17,616.50 339.33,616.18 340.00,616.25 C340.67,616.32 341.83,616.93 342.50,617.50 C343.17,618.07 344.33,619.83 345.00,620.50 C345.67,621.17 346.83,622.23 347.50,622.50 C348.17,622.77 349.43,622.50 350.00,622.50 C350.57,622.50 351.42,623.67 351.75,622.50 C352.08,621.33 352.07,615.58 352.50,613.75 C352.93,611.92 354.33,610.42 355.00,608.75 C355.67,607.08 356.90,602.48 357.50,601.25 C358.10,600.02 359.00,599.50 359.50,599.50 C360.00,599.50 360.68,601.12 361.25,601.25 C361.82,601.38 363.08,600.67 363.75,600.50 C364.42,600.33 365.58,600.23 366.25,600.00 C366.92,599.77 368.18,598.58 368.75,598.75 C369.32,598.92 370.00,600.25 370.50,601.25 C371.00,602.25 371.97,604.92 372.50,606.25 C373.03,607.58 374.00,610.25 374.50,611.25 C375.00,612.25 375.68,613.08 376.25,613.75 C376.82,614.42 378.08,615.75 378.75,616.25 C379.42,616.75 380.58,617.50 381.25,617.50 C381.92,617.50 383.18,616.75 383.75,616.25 C384.32,615.75 385.17,614.92 385.50,613.75 C385.83,612.58 385.98,608.83 386.25,607.50 C386.52,606.17 387.00,604.42 387.50,603.75 C388.00,603.08 389.17,602.83 390.00,602.50 C390.83,602.17 393.02,601.42 393.75,601.25 C394.48,601.08 395.07,600.75 395.50,601.25 C395.93,601.75 396.57,603.67 397.00,605.00 C397.43,606.33 398.35,610.08 398.75,611.25 C399.15,612.42 399.67,613.08 400.00,613.75 C400.33,614.42 400.92,616.42 401.25,616.25 C401.58,616.08 402.17,612.50 402.50,612.50 C402.83,612.50 403.25,615.58 403.75,616.25 C404.25,616.92 405.58,617.50 406.25,617.50 C406.92,617.50 408.08,616.32 408.75,616.25 C409.42,616.18 410.42,617.17 411.25,617.00 C412.08,616.83 414.17,615.43 415.00,615.00 C415.83,614.57 416.83,613.92 417.50,613.75 C418.17,613.58 419.33,613.75 420.00,613.75 C420.67,613.75 421.83,613.25 422.50,613.75 C423.17,614.25 424.33,616.50 425.00,617.50 C425.67,618.50 426.83,620.25 427.50,621.25 C428.17,622.25 429.33,624.33 430.00,625.00 C430.67,625.67 431.83,626.25 432.50,626.25 C433.17,626.25 434.33,625.00 435.00,625.00 C435.67,625.00 436.83,626.15 437.50,626.25 C438.17,626.35 439.40,626.08 440.00,625.75 C440.60,625.42 441.67,624.52 442.00,623.75 C442.33,622.98 442.27,620.23 442.50,620.00 C442.73,619.77 443.42,622.33 443.75,622.00 C444.08,621.67 444.50,618.37 445.00,617.50 C445.50,616.63 446.83,615.67 447.50,615.50 C448.17,615.33 449.33,615.72 450.00,616.25 C450.67,616.78 451.83,618.67 452.50,619.50 C453.17,620.33 454.40,621.93 455.00,622.50 C455.60,623.07 456.60,624.25 457.00,623.75 C457.40,623.25 457.67,620.08 458.00,618.75 C458.33,617.42 459.07,614.92 459.50,613.75 C459.93,612.58 460.68,610.77 461.25,610.00 C461.82,609.23 463.08,608.07 463.75,608.00 C464.42,607.93 465.58,608.73 466.25,609.50 C466.92,610.27 468.08,612.52 468.75,613.75 C469.42,614.98 470.58,617.58 471.25,618.75 C471.92,619.92 473.18,622.67 473.75,622.50 C474.32,622.33 475.10,619.00 475.50,617.50 C475.90,616.00 476.32,612.52 476.75,611.25 C477.18,609.98 478.32,607.67 478.75,608.00 C479.18,608.33 479.50,612.32 480.00,613.75 C480.50,615.18 481.93,617.42 482.50,618.75 C483.07,620.08 484.02,623.08 484.25,623.75" fill="none" stroke="#3e9f3e" stroke-width="1.25" stroke-linejoin="round" clip-path="url(#dt0)"/>
<path d="M56.90,623.80 C57.47,623.97 60.29,625.14 61.20,625.10 C62.11,625.06 63.03,623.99 63.70,623.50 C64.37,623.01 65.63,622.33 66.20,621.40 C66.77,620.47 67.52,617.57 68.00,616.50 C68.48,615.43 69.31,613.57 69.80,613.40 C70.29,613.23 71.03,614.57 71.70,615.20 C72.37,615.83 73.99,617.27 74.80,618.10 C75.61,618.93 76.99,620.85 77.80,621.40 C78.61,621.95 80.15,622.28 80.90,622.20 C81.65,622.12 82.83,621.81 83.40,620.80 C83.97,619.79 84.79,616.28 85.20,614.60 C85.61,612.92 86.09,608.85 86.50,608.20 C86.91,607.55 87.73,609.37 88.30,609.70 C88.87,610.03 90.23,610.34 90.80,610.70 C91.37,611.06 92.11,611.96 92.60,612.40 C93.09,612.84 93.93,613.51 94.50,614.00 C95.07,614.49 96.25,616.02 96.90,616.10 C97.55,616.18 98.83,615.09 99.40,614.60 C99.97,614.11 100.55,612.97 101.20,612.40 C101.85,611.83 103.46,611.22 104.30,610.30 C105.14,609.38 106.74,606.54 107.50,605.50 C108.26,604.46 109.33,603.07 110.00,602.50 C110.67,601.93 111.83,601.08 112.50,601.25 C113.17,601.42 114.33,602.65 115.00,603.75 C115.67,604.85 116.90,608.33 117.50,609.50 C118.10,610.67 119.00,611.60 119.50,612.50 C120.00,613.40 120.68,615.25 121.25,616.25 C121.82,617.25 123.08,619.57 123.75,620.00 C124.42,620.43 125.58,620.17 126.25,619.50 C126.92,618.83 128.25,616.00 128.75,615.00 C129.25,614.00 129.67,613.33 130.00,612.00 C130.33,610.67 130.75,606.43 131.25,605.00 C131.75,603.57 132.92,602.02 133.75,601.25 C134.58,600.48 136.67,599.25 137.50,599.25 C138.33,599.25 139.33,600.15 140.00,601.25 C140.67,602.35 141.83,606.50 142.50,607.50 C143.17,608.50 144.27,608.92 145.00,608.75 C145.73,608.58 147.33,607.25 148.00,606.25 C148.67,605.25 149.40,602.08 150.00,601.25 C150.60,600.42 151.83,600.10 152.50,600.00 C153.17,599.90 154.33,599.83 155.00,600.50 C155.67,601.17 156.83,604.07 157.50,605.00 C158.17,605.93 159.40,607.67 160.00,607.50 C160.60,607.33 161.33,604.02 162.00,603.75 C162.67,603.48 164.10,604.93 165.00,605.50 C165.90,606.07 167.82,607.07 168.75,608.00 C169.68,608.93 171.33,611.63 172.00,612.50 C172.67,613.37 173.18,614.00 173.75,614.50 C174.32,615.00 175.42,615.78 176.25,616.25 C177.08,616.72 179.17,617.57 180.00,618.00 C180.83,618.43 181.83,618.90 182.50,619.50 C183.17,620.10 184.33,621.87 185.00,622.50 C185.67,623.13 186.67,623.92 187.50,624.25 C188.33,624.58 190.25,625.00 191.25,625.00 C192.25,625.00 194.00,624.58 195.00,624.25 C196.00,623.92 197.75,622.90 198.75,622.50 C199.75,622.10 201.67,621.65 202.50,621.25 C203.33,620.85 204.27,619.73 205.00,619.50 C205.73,619.27 207.50,620.43 208.00,619.50 C208.50,618.57 208.48,614.43 208.75,612.50 C209.02,610.57 209.43,606.73 210.00,605.00 C210.57,603.27 212.33,599.67 213.00,599.50 C213.67,599.33 214.40,602.35 215.00,603.75 C215.60,605.15 216.83,609.00 217.50,610.00 C218.17,611.00 219.33,611.25 220.00,611.25 C220.67,611.25 221.83,609.77 222.50,610.00 C223.17,610.23 224.33,612.33 225.00,613.00 C225.67,613.67 226.90,614.57 227.50,615.00 C228.10,615.43 229.10,617.08 229.50,616.25 C229.90,615.42 230.10,610.75 230.50,608.75 C230.90,606.75 231.97,602.35 232.50,601.25 C233.03,600.15 234.00,600.67 234.50,600.50 C235.00,600.33 235.68,599.73 236.25,600.00 C236.82,600.27 238.08,601.67 238.75,602.50 C239.42,603.33 240.58,605.08 241.25,606.25 C241.92,607.42 243.18,609.75 243.75,611.25 C244.32,612.75 245.00,616.07 245.50,617.50 C246.00,618.93 246.90,621.17 247.50,622.00 C248.10,622.83 249.33,623.42 250.00,623.75 C250.67,624.08 251.83,624.50 252.50,624.50 C253.17,624.50 254.33,624.08 255.00,623.75 C255.67,623.42 256.83,622.57 257.50,622.00 C258.17,621.43 259.17,620.27 260.00,619.50 C260.83,618.73 262.82,616.85 263.75,616.25 C264.68,615.65 266.17,614.83 267.00,615.00 C267.83,615.17 269.20,616.77 270.00,617.50 C270.80,618.23 272.33,620.00 273.00,620.50 C273.67,621.00 274.47,622.15 275.00,621.25 C275.53,620.35 276.50,615.25 277.00,613.75 C277.50,612.25 278.18,610.83 278.75,610.00 C279.32,609.17 280.58,608.00 281.25,607.50 C281.92,607.00 283.08,606.75 283.75,606.25 C284.42,605.75 285.58,604.58 286.25,603.75 C286.92,602.92 288.25,600.67 288.75,600.00 C289.25,599.33 289.57,598.58 290.00,598.75 C290.43,598.92 291.50,601.08 292.00,601.25 C292.50,601.42 293.28,600.00 293.75,600.00 C294.22,600.00 295.00,600.42 295.50,601.25 C296.00,602.08 296.97,605.08 297.50,606.25 C298.03,607.42 299.00,608.83 299.50,610.00 C300.00,611.17 300.68,613.83 301.25,615.00 C301.82,616.17 303.08,617.92 303.75,618.75 C304.42,619.58 305.58,620.58 306.25,621.25 C306.92,621.92 308.08,623.15 308.75,623.75 C309.42,624.35 310.48,625.58 311.25,625.75 C312.02,625.92 313.67,625.50 314.50,625.00 C315.33,624.50 316.77,622.67 317.50,622.00 C318.23,621.33 319.33,620.20 320.00,620.00 C320.67,619.80 321.67,620.50 322.50,620.50 C323.33,620.50 325.25,619.90 326.25,620.00 C327.25,620.10 329.17,620.75 330.00,621.25 C330.83,621.75 331.83,623.92 332.50,623.75 C333.17,623.58 334.33,620.90 335.00,620.00 C335.67,619.10 336.83,617.50 337.50,617.00 C338.17,616.50 339.33,616.18 340.00,616.25 C340.67,616.32 341.83,616.93 342.50,617.50 C343.17,618.07 344.33,619.83 345.00,620.50 C345.67,621.17 346.83,622.23 347.50,622.50 C348.17,622.77 349.43,622.50 350.00,622.50 C350.57,622.50 351.42,623.67 351.75,622.50 C352.08,621.33 352.07,615.58 352.50,613.75 C352.93,611.92 354.33,610.42 355.00,608.75 C355.67,607.08 356.90,602.48 357.50,601.25 C358.10,600.02 359.00,599.50 359.50,599.50 C360.00,599.50 360.68,601.12 361.25,601.25 C361.82,601.38 363.08,600.67 363.75,600.50 C364.42,600.33 365.58,600.23 366.25,600.00 C366.92,599.77 368.18,598.58 368.75,598.75 C369.32,598.92 370.00,600.25 370.50,601.25 C371.00,602.25 371.97,604.92 372.50,606.25 C373.03,607.58 374.00,610.25 374.50,611.25 C375.00,612.25 375.68,613.08 376.25,613.75 C376.82,614.42 378.08,615.75 378.75,616.25 C379.42,616.75 380.58,617.50 381.25,617.50 C381.92,617.50 383.18,616.75 383.75,616.25 C384.32,615.75 385.17,614.92 385.50,613.75 C385.83,612.58 385.98,608.83 386.25,607.50 C386.52,606.17 387.00,604.42 387.50,603.75 C388.00,603.08 389.17,602.83 390.00,602.50 C390.83,602.17 393.02,601.42 393.75,601.25 C394.48,601.08 395.07,600.75 395.50,601.25 C395.93,601.75 396.57,603.67 397.00,605.00 C397.43,606.33 398.35,610.08 398.75,611.25 C399.15,612.42 399.67,613.08 400.00,613.75 C400.33,614.42 400.92,616.42 401.25,616.25 C401.58,616.08 402.17,612.50 402.50,612.50 C402.83,612.50 403.25,615.58 403.75,616.25 C404.25,616.92 405.58,617.50 406.25,617.50 C406.92,617.50 408.08,616.32 408.75,616.25 C409.42,616.18 410.42,617.17 411.25,617.00 C412.08,616.83 414.17,615.43 415.00,615.00 C415.83,614.57 416.83,613.92 417.50,613.75 C418.17,613.58 419.33,613.75 420.00,613.75 C420.67,613.75 421.83,613.25 422.50,613.75 C423.17,614.25 424.33,616.50 425.00,617.50 C425.67,618.50 426.83,620.25 427.50,621.25 C428.17,622.25 429.33,624.33 430.00,625.00 C430.67,625.67 431.83,626.25 432.50,626.25 C433.17,626.25 434.33,625.00 435.00,625.00 C435.67,625.00 436.83,626.15 437.50,626.25 C438.17,626.35 439.40,626.08 440.00,625.75 C440.60,625.42 441.67,624.52 442.00,623.75 C442.33,622.98 442.27,620.23 442.50,620.00 C442.73,619.77 443.42,622.33 443.75,622.00 C444.08,621.67 444.50,618.37 445.00,617.50 C445.50,616.63 446.83,615.67 447.50,615.50 C448.17,615.33 449.33,615.72 450.00,616.25 C450.67,616.78 451.83,618.67 452.50,619.50 C453.17,620.33 454.40,621.93 455.00,622.50 C455.60,623.07 456.60,624.25 457.00,623.75 C457.40,623.25 457.67,620.08 458.00,618.75 C458.33,617.42 459.07,614.92 459.50,613.75 C459.93,612.58 460.68,610.77 461.25,610.00 C461.82,609.23 463.08,608.07 463.75,608.00 C464.42,607.93 465.58,608.73 466.25,609.50 C466.92,610.27 468.08,612.52 468.75,613.75 C469.42,614.98 470.58,617.58 471.25,618.75 C471.92,619.92 473.18,622.67 473.75,622.50 C474.32,622.33 475.10,619.00 475.50,617.50 C475.90,616.00 476.32,612.52 476.75,611.25 C477.18,609.98 478.32,607.67 478.75,608.00 C479.18,608.33 479.50,612.32 480.00,613.75 C480.50,615.18 481.93,617.42 482.50,618.75 C483.07,620.08 484.02,623.08 484.25,623.75" fill="none" stroke="#e2402c" stroke-width="1.25" stroke-linejoin="round" clip-path="url(#dl0)"/>
<text transform="translate(46.5,601.0) scale(0.92,1)" font-family="DejaVu Sans, sans-serif" font-size="8" fill="#58585a" stroke="#58585a" stroke-width="0.25">8</text>
<text transform="translate(110.79999999999998,601.0) scale(0.92,1)" font-family="DejaVu Sans, sans-serif" font-size="8" fill="#58585a" stroke="#58585a" stroke-width="0.25">9</text>
<text transform="translate(173.7,601.0) scale(0.92,1)" font-family="DejaVu Sans, sans-serif" font-size="8" fill="#58585a" stroke="#58585a" stroke-width="0.25">10</text>
<text transform="translate(236.6,601.0) scale(0.92,1)" font-family="DejaVu Sans, sans-serif" font-size="8" fill="#58585a" stroke="#58585a" stroke-width="0.25">11</text>
<text transform="translate(299.5,601.0) scale(0.92,1)" font-family="DejaVu Sans, sans-serif" font-size="8" fill="#58585a" stroke="#58585a" stroke-width="0.25">12</text>
<text transform="translate(362.40000000000003,601.0) scale(0.92,1)" font-family="DejaVu Sans, sans-serif" font-size="8" fill="#58585a" stroke="#58585a" stroke-width="0.25">13</text>
<text transform="translate(425.3,601.0) scale(0.92,1)" font-family="DejaVu Sans, sans-serif" font-size="8" fill="#58585a" stroke="#58585a" stroke-width="0.25">14</text>
<text transform="translate(41.9,614.9) scale(0.85,1)" font-family="DejaVu Sans, sans-serif" font-size="6.4" font-weight="bold" stroke="#231f20" stroke-width="0.22" fill="#231f20" text-anchor="end">180</text>
<text transform="translate(41.9,626.0999999999999) scale(0.85,1)" font-family="DejaVu Sans, sans-serif" font-size="6.4" font-weight="bold" stroke="#231f20" stroke-width="0.22" fill="#231f20" text-anchor="end">70</text>
<text transform="translate(25.3,617.0) rotate(-90)" x="-9.25" font-family="DejaVu Sans, sans-serif" font-size="6.6" font-weight="bold" fill="#231f20" stroke="#231f20" stroke-width="0.15" textLength="18.5" lengthAdjust="spacingAndGlyphs">mg/dL</text>
<rect x="44.3" y="647.3" width="440.3" height="39.0" fill="#fff" stroke="#d9d5d5" stroke-width="0.9"/>
<rect x="44.3" y="667.4" width="440.3" height="10.200000000000045" fill="#e9e7e7"/>
<line x1="75.75" y1="647.3" x2="75.75" y2="686.3" stroke="#e6e2e2" stroke-width="0.8"/>
<line x1="138.64999999999998" y1="647.3" x2="138.64999999999998" y2="686.3" stroke="#e6e2e2" stroke-width="0.8"/>
<line x1="107.19999999999999" y1="647.3" x2="107.19999999999999" y2="686.3" stroke="#cdc9c9" stroke-width="0.9"/>
<line x1="201.55" y1="647.3" x2="201.55" y2="686.3" stroke="#e6e2e2" stroke-width="0.8"/>
<line x1="170.1" y1="647.3" x2="170.1" y2="686.3" stroke="#cdc9c9" stroke-width="0.9"/>
<line x1="264.45" y1="647.3" x2="264.45" y2="686.3" stroke="#e6e2e2" stroke-width="0.8"/>
<line x1="233.0" y1="647.3" x2="233.0" y2="686.3" stroke="#cdc9c9" stroke-width="0.9"/>
<line x1="327.35" y1="647.3" x2="327.35" y2="686.3" stroke="#e6e2e2" stroke-width="0.8"/>
<line x1="295.9" y1="647.3" x2="295.9" y2="686.3" stroke="#cdc9c9" stroke-width="0.9"/>
<line x1="390.25" y1="647.3" x2="390.25" y2="686.3" stroke="#e6e2e2" stroke-width="0.8"/>
<line x1="358.8" y1="647.3" x2="358.8" y2="686.3" stroke="#cdc9c9" stroke-width="0.9"/>
<line x1="453.15" y1="647.3" x2="453.15" y2="686.3" stroke="#e6e2e2" stroke-width="0.8"/>
<line x1="421.7" y1="647.3" x2="421.7" y2="686.3" stroke="#cdc9c9" stroke-width="0.9"/>
<path d="M44.50,677.25 C44.83,677.48 46.33,678.43 47.00,679.00 C47.67,679.57 48.83,681.10 49.50,681.50 C50.17,681.90 51.33,682.07 52.00,682.00 C52.67,681.93 53.83,681.30 54.50,681.00 C55.17,680.70 56.33,679.85 57.00,679.75 C57.67,679.65 58.90,680.08 59.50,680.25 C60.10,680.42 61.00,681.17 61.50,681.00 C62.00,680.83 62.85,679.50 63.25,679.00 C63.65,678.50 64.17,677.92 64.50,677.25 C64.83,676.58 65.42,674.93 65.75,674.00 C66.08,673.07 66.67,670.32 67.00,670.25 C67.33,670.18 67.92,672.67 68.25,673.50 C68.58,674.33 69.07,675.93 69.50,676.50 C69.93,677.07 71.10,677.92 71.50,677.75 C71.90,677.58 72.17,676.15 72.50,675.25 C72.83,674.35 73.57,671.77 74.00,671.00 C74.43,670.23 75.18,669.83 75.75,669.50 C76.32,669.17 77.58,668.67 78.25,668.50 C78.92,668.33 80.08,668.25 80.75,668.25 C81.42,668.25 82.68,668.53 83.25,668.50 C83.82,668.47 84.50,667.87 85.00,668.00 C85.50,668.13 86.47,669.23 87.00,669.50 C87.53,669.77 88.50,670.23 89.00,670.00 C89.50,669.77 90.35,668.55 90.75,667.75 C91.15,666.95 91.50,665.17 92.00,664.00 C92.50,662.83 93.83,660.27 94.50,659.00 C95.17,657.73 96.50,655.33 97.00,654.50 C97.50,653.67 97.85,652.75 98.25,652.75 C98.65,652.75 99.43,653.83 100.00,654.50 C100.57,655.17 101.83,656.88 102.50,657.75 C103.17,658.62 104.33,660.33 105.00,661.00 C105.67,661.67 106.90,662.28 107.50,662.75 C108.10,663.22 108.97,663.83 109.50,664.50 C110.03,665.17 111.07,667.15 111.50,667.75 C111.93,668.35 112.35,669.10 112.75,669.00 C113.15,668.90 113.93,667.50 114.50,667.00 C115.07,666.50 116.17,665.65 117.00,665.25 C117.83,664.85 119.75,664.10 120.75,664.00 C121.75,663.90 123.67,664.67 124.50,664.50 C125.33,664.33 126.33,663.55 127.00,662.75 C127.67,661.95 128.77,659.50 129.50,658.50 C130.23,657.50 131.77,655.35 132.50,655.25 C133.23,655.15 134.23,656.92 135.00,657.75 C135.77,658.58 137.48,660.50 138.25,661.50 C139.02,662.50 140.25,664.42 140.75,665.25 C141.25,666.08 141.67,666.98 142.00,667.75 C142.33,668.52 142.75,670.33 143.25,671.00 C143.75,671.67 145.08,672.62 145.75,672.75 C146.42,672.88 147.58,672.00 148.25,672.00 C148.92,672.00 150.08,672.88 150.75,672.75 C151.42,672.62 152.58,671.43 153.25,671.00 C153.92,670.57 155.18,669.83 155.75,669.50 C156.32,669.17 157.00,668.57 157.50,668.50 C158.00,668.43 158.97,669.20 159.50,669.00 C160.03,668.80 161.00,668.33 161.50,667.00 C162.00,665.67 162.78,660.57 163.25,659.00 C163.72,657.43 164.50,654.92 165.00,655.25 C165.50,655.58 166.40,660.33 167.00,661.50 C167.60,662.67 168.87,663.17 169.50,664.00 C170.13,664.83 171.22,666.58 171.75,667.75 C172.28,668.92 173.00,671.48 173.50,672.75 C174.00,674.02 174.90,676.42 175.50,677.25 C176.10,678.08 177.17,678.67 178.00,679.00 C178.83,679.33 180.75,679.58 181.75,679.75 C182.75,679.92 184.50,680.18 185.50,680.25 C186.50,680.32 188.25,680.42 189.25,680.25 C190.25,680.08 192.33,679.40 193.00,679.00 C193.67,678.60 193.98,678.25 194.25,677.25 C194.52,676.25 194.77,672.77 195.00,671.50 C195.23,670.23 195.60,668.58 196.00,667.75 C196.40,666.92 197.40,665.42 198.00,665.25 C198.60,665.08 200.00,666.17 200.50,666.50 C201.00,666.83 201.25,667.25 201.75,667.75 C202.25,668.25 203.58,669.58 204.25,670.25 C204.92,670.92 206.08,672.08 206.75,672.75 C207.42,673.42 208.68,675.25 209.25,675.25 C209.82,675.25 210.50,673.75 211.00,672.75 C211.50,671.75 212.47,668.92 213.00,667.75 C213.53,666.58 214.50,664.83 215.00,664.00 C215.50,663.17 216.18,661.77 216.75,661.50 C217.32,661.23 218.68,662.33 219.25,662.00 C219.82,661.67 220.50,659.90 221.00,659.00 C221.50,658.10 222.47,656.08 223.00,655.25 C223.53,654.42 224.60,653.75 225.00,652.75 C225.40,651.75 225.67,647.98 226.00,647.75 C226.33,647.52 227.07,650.10 227.50,651.00 C227.93,651.90 228.68,653.83 229.25,654.50 C229.82,655.17 231.08,655.40 231.75,656.00 C232.42,656.60 233.58,658.20 234.25,659.00 C234.92,659.80 236.08,661.17 236.75,662.00 C237.42,662.83 238.75,664.48 239.25,665.25 C239.75,666.02 240.17,666.92 240.50,667.75 C240.83,668.58 241.42,670.50 241.75,671.50 C242.08,672.50 242.57,674.48 243.00,675.25 C243.43,676.02 244.40,676.65 245.00,677.25 C245.60,677.85 246.83,679.25 247.50,679.75 C248.17,680.25 249.27,681.03 250.00,681.00 C250.73,680.97 252.20,679.83 253.00,679.50 C253.80,679.17 255.27,678.73 256.00,678.50 C256.73,678.27 257.97,678.18 258.50,677.75 C259.03,677.32 259.67,676.08 260.00,675.25 C260.33,674.42 260.67,672.40 261.00,671.50 C261.33,670.60 262.07,668.67 262.50,668.50 C262.93,668.33 263.68,669.58 264.25,670.25 C264.82,670.92 266.08,672.73 266.75,673.50 C267.42,674.27 268.58,675.60 269.25,676.00 C269.92,676.40 271.08,676.50 271.75,676.50 C272.42,676.50 273.75,677.33 274.25,676.00 C274.75,674.67 275.17,668.27 275.50,666.50 C275.83,664.73 276.25,663.08 276.75,662.75 C277.25,662.42 278.58,663.57 279.25,664.00 C279.92,664.43 281.18,665.50 281.75,666.00 C282.32,666.50 282.93,667.28 283.50,667.75 C284.07,668.22 285.40,669.17 286.00,669.50 C286.60,669.83 287.40,670.48 288.00,670.25 C288.60,670.02 290.00,668.58 290.50,667.75 C291.00,666.92 291.35,665.33 291.75,664.00 C292.15,662.67 293.13,658.95 293.50,657.75 C293.87,656.55 294.03,655.03 294.50,655.00 C294.97,654.97 296.40,656.80 297.00,657.50 C297.60,658.20 298.40,659.45 299.00,660.25 C299.60,661.05 300.90,662.67 301.50,663.50 C302.10,664.33 303.10,665.93 303.50,666.50 C303.90,667.07 304.10,667.08 304.50,667.75 C304.90,668.42 305.90,670.60 306.50,671.50 C307.10,672.40 308.33,674.00 309.00,674.50 C309.67,675.00 310.83,675.32 311.50,675.25 C312.17,675.18 313.33,674.33 314.00,674.00 C314.67,673.67 315.83,673.25 316.50,672.75 C317.17,672.25 318.33,670.68 319.00,670.25 C319.67,669.82 320.83,669.67 321.50,669.50 C322.17,669.33 323.33,669.13 324.00,669.00 C324.67,668.87 325.83,668.67 326.50,668.50 C327.17,668.33 328.50,668.35 329.00,667.75 C329.50,667.15 329.92,665.43 330.25,664.00 C330.58,662.57 331.07,658.00 331.50,657.00 C331.93,656.00 333.00,656.17 333.50,656.50 C334.00,656.83 334.85,658.50 335.25,659.50 C335.65,660.50 336.17,663.13 336.50,664.00 C336.83,664.87 337.42,666.60 337.75,666.00 C338.08,665.40 338.67,660.93 339.00,659.50 C339.33,658.07 339.75,655.92 340.25,655.25 C340.75,654.58 342.08,654.83 342.75,654.50 C343.42,654.17 344.68,653.32 345.25,652.75 C345.82,652.18 346.50,650.82 347.00,650.25 C347.50,649.68 348.47,648.93 349.00,648.50 C349.53,648.07 350.33,647.20 351.00,647.00 C351.67,646.80 353.33,646.73 354.00,647.00 C354.67,647.27 355.50,648.40 356.00,649.00 C356.50,649.60 357.28,650.83 357.75,651.50 C358.22,652.17 359.00,653.33 359.50,654.00 C360.00,654.67 360.90,655.77 361.50,656.50 C362.10,657.23 363.33,658.90 364.00,659.50 C364.67,660.10 365.83,660.57 366.50,661.00 C367.17,661.43 368.33,662.35 369.00,662.75 C369.67,663.15 370.90,663.50 371.50,664.00 C372.10,664.50 373.10,666.00 373.50,666.50 C373.90,667.00 374.10,667.35 374.50,667.75 C374.90,668.15 375.90,669.07 376.50,669.50 C377.10,669.93 378.33,670.90 379.00,671.00 C379.67,671.10 380.90,670.52 381.50,670.25 C382.10,669.98 383.10,669.33 383.50,669.00 C383.90,668.67 384.17,669.08 384.50,667.75 C384.83,666.42 385.57,661.17 386.00,659.00 C386.43,656.83 387.28,653.00 387.75,651.50 C388.22,650.00 389.07,648.35 389.50,647.75 C389.93,647.15 390.53,646.77 391.00,647.00 C391.47,647.23 392.47,648.40 393.00,649.50 C393.53,650.60 394.33,653.48 395.00,655.25 C395.67,657.02 397.33,661.65 398.00,662.75 C398.67,663.85 399.47,664.00 400.00,663.50 C400.53,663.00 401.50,660.33 402.00,659.00 C402.50,657.67 403.18,654.50 403.75,653.50 C404.32,652.50 405.58,651.43 406.25,651.50 C406.92,651.57 408.08,653.17 408.75,654.00 C409.42,654.83 410.58,656.82 411.25,657.75 C411.92,658.68 413.08,660.90 413.75,661.00 C414.42,661.10 415.75,658.77 416.25,658.50 C416.75,658.23 417.00,658.60 417.50,659.00 C418.00,659.40 419.33,660.90 420.00,661.50 C420.67,662.10 421.83,663.00 422.50,663.50 C423.17,664.00 424.40,664.68 425.00,665.25 C425.60,665.82 426.33,667.35 427.00,667.75 C427.67,668.15 429.10,668.18 430.00,668.25 C430.90,668.32 432.92,668.15 433.75,668.25 C434.58,668.35 435.68,669.07 436.25,669.00 C436.82,668.93 437.50,668.15 438.00,667.75 C438.50,667.35 439.40,666.33 440.00,666.00 C440.60,665.67 441.77,665.45 442.50,665.25 C443.23,665.05 444.90,664.83 445.50,664.50 C446.10,664.17 446.67,664.32 447.00,662.75 C447.33,661.18 447.67,654.58 448.00,652.75 C448.33,650.92 449.07,649.43 449.50,649.00 C449.93,648.57 450.68,649.43 451.25,649.50 C451.82,649.57 453.08,649.57 453.75,649.50 C454.42,649.43 455.52,649.07 456.25,649.00 C456.98,648.93 458.81,649.00 459.20,649.00 L459.2,667.4 L44.5,667.4 Z" fill="#fdde9e" clip-path="url(#dh1)"/>
<path d="M44.50,677.25 C44.83,677.48 46.33,678.43 47.00,679.00 C47.67,679.57 48.83,681.10 49.50,681.50 C50.17,681.90 51.33,682.07 52.00,682.00 C52.67,681.93 53.83,681.30 54.50,681.00 C55.17,680.70 56.33,679.85 57.00,679.75 C57.67,679.65 58.90,680.08 59.50,680.25 C60.10,680.42 61.00,681.17 61.50,681.00 C62.00,680.83 62.85,679.50 63.25,679.00 C63.65,678.50 64.17,677.92 64.50,677.25 C64.83,676.58 65.42,674.93 65.75,674.00 C66.08,673.07 66.67,670.32 67.00,670.25 C67.33,670.18 67.92,672.67 68.25,673.50 C68.58,674.33 69.07,675.93 69.50,676.50 C69.93,677.07 71.10,677.92 71.50,677.75 C71.90,677.58 72.17,676.15 72.50,675.25 C72.83,674.35 73.57,671.77 74.00,671.00 C74.43,670.23 75.18,669.83 75.75,669.50 C76.32,669.17 77.58,668.67 78.25,668.50 C78.92,668.33 80.08,668.25 80.75,668.25 C81.42,668.25 82.68,668.53 83.25,668.50 C83.82,668.47 84.50,667.87 85.00,668.00 C85.50,668.13 86.47,669.23 87.00,669.50 C87.53,669.77 88.50,670.23 89.00,670.00 C89.50,669.77 90.35,668.55 90.75,667.75 C91.15,666.95 91.50,665.17 92.00,664.00 C92.50,662.83 93.83,660.27 94.50,659.00 C95.17,657.73 96.50,655.33 97.00,654.50 C97.50,653.67 97.85,652.75 98.25,652.75 C98.65,652.75 99.43,653.83 100.00,654.50 C100.57,655.17 101.83,656.88 102.50,657.75 C103.17,658.62 104.33,660.33 105.00,661.00 C105.67,661.67 106.90,662.28 107.50,662.75 C108.10,663.22 108.97,663.83 109.50,664.50 C110.03,665.17 111.07,667.15 111.50,667.75 C111.93,668.35 112.35,669.10 112.75,669.00 C113.15,668.90 113.93,667.50 114.50,667.00 C115.07,666.50 116.17,665.65 117.00,665.25 C117.83,664.85 119.75,664.10 120.75,664.00 C121.75,663.90 123.67,664.67 124.50,664.50 C125.33,664.33 126.33,663.55 127.00,662.75 C127.67,661.95 128.77,659.50 129.50,658.50 C130.23,657.50 131.77,655.35 132.50,655.25 C133.23,655.15 134.23,656.92 135.00,657.75 C135.77,658.58 137.48,660.50 138.25,661.50 C139.02,662.50 140.25,664.42 140.75,665.25 C141.25,666.08 141.67,666.98 142.00,667.75 C142.33,668.52 142.75,670.33 143.25,671.00 C143.75,671.67 145.08,672.62 145.75,672.75 C146.42,672.88 147.58,672.00 148.25,672.00 C148.92,672.00 150.08,672.88 150.75,672.75 C151.42,672.62 152.58,671.43 153.25,671.00 C153.92,670.57 155.18,669.83 155.75,669.50 C156.32,669.17 157.00,668.57 157.50,668.50 C158.00,668.43 158.97,669.20 159.50,669.00 C160.03,668.80 161.00,668.33 161.50,667.00 C162.00,665.67 162.78,660.57 163.25,659.00 C163.72,657.43 164.50,654.92 165.00,655.25 C165.50,655.58 166.40,660.33 167.00,661.50 C167.60,662.67 168.87,663.17 169.50,664.00 C170.13,664.83 171.22,666.58 171.75,667.75 C172.28,668.92 173.00,671.48 173.50,672.75 C174.00,674.02 174.90,676.42 175.50,677.25 C176.10,678.08 177.17,678.67 178.00,679.00 C178.83,679.33 180.75,679.58 181.75,679.75 C182.75,679.92 184.50,680.18 185.50,680.25 C186.50,680.32 188.25,680.42 189.25,680.25 C190.25,680.08 192.33,679.40 193.00,679.00 C193.67,678.60 193.98,678.25 194.25,677.25 C194.52,676.25 194.77,672.77 195.00,671.50 C195.23,670.23 195.60,668.58 196.00,667.75 C196.40,666.92 197.40,665.42 198.00,665.25 C198.60,665.08 200.00,666.17 200.50,666.50 C201.00,666.83 201.25,667.25 201.75,667.75 C202.25,668.25 203.58,669.58 204.25,670.25 C204.92,670.92 206.08,672.08 206.75,672.75 C207.42,673.42 208.68,675.25 209.25,675.25 C209.82,675.25 210.50,673.75 211.00,672.75 C211.50,671.75 212.47,668.92 213.00,667.75 C213.53,666.58 214.50,664.83 215.00,664.00 C215.50,663.17 216.18,661.77 216.75,661.50 C217.32,661.23 218.68,662.33 219.25,662.00 C219.82,661.67 220.50,659.90 221.00,659.00 C221.50,658.10 222.47,656.08 223.00,655.25 C223.53,654.42 224.60,653.75 225.00,652.75 C225.40,651.75 225.67,647.98 226.00,647.75 C226.33,647.52 227.07,650.10 227.50,651.00 C227.93,651.90 228.68,653.83 229.25,654.50 C229.82,655.17 231.08,655.40 231.75,656.00 C232.42,656.60 233.58,658.20 234.25,659.00 C234.92,659.80 236.08,661.17 236.75,662.00 C237.42,662.83 238.75,664.48 239.25,665.25 C239.75,666.02 240.17,666.92 240.50,667.75 C240.83,668.58 241.42,670.50 241.75,671.50 C242.08,672.50 242.57,674.48 243.00,675.25 C243.43,676.02 244.40,676.65 245.00,677.25 C245.60,677.85 246.83,679.25 247.50,679.75 C248.17,680.25 249.27,681.03 250.00,681.00 C250.73,680.97 252.20,679.83 253.00,679.50 C253.80,679.17 255.27,678.73 256.00,678.50 C256.73,678.27 257.97,678.18 258.50,677.75 C259.03,677.32 259.67,676.08 260.00,675.25 C260.33,674.42 260.67,672.40 261.00,671.50 C261.33,670.60 262.07,668.67 262.50,668.50 C262.93,668.33 263.68,669.58 264.25,670.25 C264.82,670.92 266.08,672.73 266.75,673.50 C267.42,674.27 268.58,675.60 269.25,676.00 C269.92,676.40 271.08,676.50 271.75,676.50 C272.42,676.50 273.75,677.33 274.25,676.00 C274.75,674.67 275.17,668.27 275.50,666.50 C275.83,664.73 276.25,663.08 276.75,662.75 C277.25,662.42 278.58,663.57 279.25,664.00 C279.92,664.43 281.18,665.50 281.75,666.00 C282.32,666.50 282.93,667.28 283.50,667.75 C284.07,668.22 285.40,669.17 286.00,669.50 C286.60,669.83 287.40,670.48 288.00,670.25 C288.60,670.02 290.00,668.58 290.50,667.75 C291.00,666.92 291.35,665.33 291.75,664.00 C292.15,662.67 293.13,658.95 293.50,657.75 C293.87,656.55 294.03,655.03 294.50,655.00 C294.97,654.97 296.40,656.80 297.00,657.50 C297.60,658.20 298.40,659.45 299.00,660.25 C299.60,661.05 300.90,662.67 301.50,663.50 C302.10,664.33 303.10,665.93 303.50,666.50 C303.90,667.07 304.10,667.08 304.50,667.75 C304.90,668.42 305.90,670.60 306.50,671.50 C307.10,672.40 308.33,674.00 309.00,674.50 C309.67,675.00 310.83,675.32 311.50,675.25 C312.17,675.18 313.33,674.33 314.00,674.00 C314.67,673.67 315.83,673.25 316.50,672.75 C317.17,672.25 318.33,670.68 319.00,670.25 C319.67,669.82 320.83,669.67 321.50,669.50 C322.17,669.33 323.33,669.13 324.00,669.00 C324.67,668.87 325.83,668.67 326.50,668.50 C327.17,668.33 328.50,668.35 329.00,667.75 C329.50,667.15 329.92,665.43 330.25,664.00 C330.58,662.57 331.07,658.00 331.50,657.00 C331.93,656.00 333.00,656.17 333.50,656.50 C334.00,656.83 334.85,658.50 335.25,659.50 C335.65,660.50 336.17,663.13 336.50,664.00 C336.83,664.87 337.42,666.60 337.75,666.00 C338.08,665.40 338.67,660.93 339.00,659.50 C339.33,658.07 339.75,655.92 340.25,655.25 C340.75,654.58 342.08,654.83 342.75,654.50 C343.42,654.17 344.68,653.32 345.25,652.75 C345.82,652.18 346.50,650.82 347.00,650.25 C347.50,649.68 348.47,648.93 349.00,648.50 C349.53,648.07 350.33,647.20 351.00,647.00 C351.67,646.80 353.33,646.73 354.00,647.00 C354.67,647.27 355.50,648.40 356.00,649.00 C356.50,649.60 357.28,650.83 357.75,651.50 C358.22,652.17 359.00,653.33 359.50,654.00 C360.00,654.67 360.90,655.77 361.50,656.50 C362.10,657.23 363.33,658.90 364.00,659.50 C364.67,660.10 365.83,660.57 366.50,661.00 C367.17,661.43 368.33,662.35 369.00,662.75 C369.67,663.15 370.90,663.50 371.50,664.00 C372.10,664.50 373.10,666.00 373.50,666.50 C373.90,667.00 374.10,667.35 374.50,667.75 C374.90,668.15 375.90,669.07 376.50,669.50 C377.10,669.93 378.33,670.90 379.00,671.00 C379.67,671.10 380.90,670.52 381.50,670.25 C382.10,669.98 383.10,669.33 383.50,669.00 C383.90,668.67 384.17,669.08 384.50,667.75 C384.83,666.42 385.57,661.17 386.00,659.00 C386.43,656.83 387.28,653.00 387.75,651.50 C388.22,650.00 389.07,648.35 389.50,647.75 C389.93,647.15 390.53,646.77 391.00,647.00 C391.47,647.23 392.47,648.40 393.00,649.50 C393.53,650.60 394.33,653.48 395.00,655.25 C395.67,657.02 397.33,661.65 398.00,662.75 C398.67,663.85 399.47,664.00 400.00,663.50 C400.53,663.00 401.50,660.33 402.00,659.00 C402.50,657.67 403.18,654.50 403.75,653.50 C404.32,652.50 405.58,651.43 406.25,651.50 C406.92,651.57 408.08,653.17 408.75,654.00 C409.42,654.83 410.58,656.82 411.25,657.75 C411.92,658.68 413.08,660.90 413.75,661.00 C414.42,661.10 415.75,658.77 416.25,658.50 C416.75,658.23 417.00,658.60 417.50,659.00 C418.00,659.40 419.33,660.90 420.00,661.50 C420.67,662.10 421.83,663.00 422.50,663.50 C423.17,664.00 424.40,664.68 425.00,665.25 C425.60,665.82 426.33,667.35 427.00,667.75 C427.67,668.15 429.10,668.18 430.00,668.25 C430.90,668.32 432.92,668.15 433.75,668.25 C434.58,668.35 435.68,669.07 436.25,669.00 C436.82,668.93 437.50,668.15 438.00,667.75 C438.50,667.35 439.40,666.33 440.00,666.00 C440.60,665.67 441.77,665.45 442.50,665.25 C443.23,665.05 444.90,664.83 445.50,664.50 C446.10,664.17 446.67,664.32 447.00,662.75 C447.33,661.18 447.67,654.58 448.00,652.75 C448.33,650.92 449.07,649.43 449.50,649.00 C449.93,648.57 450.68,649.43 451.25,649.50 C451.82,649.57 453.08,649.57 453.75,649.50 C454.42,649.43 455.52,649.07 456.25,649.00 C456.98,648.93 458.81,649.00 459.20,649.00 L459.2,677.6 L44.5,677.6 Z" fill="#f5a593" clip-path="url(#dl1)"/>
<line x1="44.3" y1="667.4" x2="484.6" y2="667.4" stroke="#8d8b8b" stroke-width="1.2"/>
<line x1="44.3" y1="677.6" x2="484.6" y2="677.6" stroke="#8d8b8b" stroke-width="1.2"/>
<path d="M44.50,677.25 C44.83,677.48 46.33,678.43 47.00,679.00 C47.67,679.57 48.83,681.10 49.50,681.50 C50.17,681.90 51.33,682.07 52.00,682.00 C52.67,681.93 53.83,681.30 54.50,681.00 C55.17,680.70 56.33,679.85 57.00,679.75 C57.67,679.65 58.90,680.08 59.50,680.25 C60.10,680.42 61.00,681.17 61.50,681.00 C62.00,680.83 62.85,679.50 63.25,679.00 C63.65,678.50 64.17,677.92 64.50,677.25 C64.83,676.58 65.42,674.93 65.75,674.00 C66.08,673.07 66.67,670.32 67.00,670.25 C67.33,670.18 67.92,672.67 68.25,673.50 C68.58,674.33 69.07,675.93 69.50,676.50 C69.93,677.07 71.10,677.92 71.50,677.75 C71.90,677.58 72.17,676.15 72.50,675.25 C72.83,674.35 73.57,671.77 74.00,671.00 C74.43,670.23 75.18,669.83 75.75,669.50 C76.32,669.17 77.58,668.67 78.25,668.50 C78.92,668.33 80.08,668.25 80.75,668.25 C81.42,668.25 82.68,668.53 83.25,668.50 C83.82,668.47 84.50,667.87 85.00,668.00 C85.50,668.13 86.47,669.23 87.00,669.50 C87.53,669.77 88.50,670.23 89.00,670.00 C89.50,669.77 90.35,668.55 90.75,667.75 C91.15,666.95 91.50,665.17 92.00,664.00 C92.50,662.83 93.83,660.27 94.50,659.00 C95.17,657.73 96.50,655.33 97.00,654.50 C97.50,653.67 97.85,652.75 98.25,652.75 C98.65,652.75 99.43,653.83 100.00,654.50 C100.57,655.17 101.83,656.88 102.50,657.75 C103.17,658.62 104.33,660.33 105.00,661.00 C105.67,661.67 106.90,662.28 107.50,662.75 C108.10,663.22 108.97,663.83 109.50,664.50 C110.03,665.17 111.07,667.15 111.50,667.75 C111.93,668.35 112.35,669.10 112.75,669.00 C113.15,668.90 113.93,667.50 114.50,667.00 C115.07,666.50 116.17,665.65 117.00,665.25 C117.83,664.85 119.75,664.10 120.75,664.00 C121.75,663.90 123.67,664.67 124.50,664.50 C125.33,664.33 126.33,663.55 127.00,662.75 C127.67,661.95 128.77,659.50 129.50,658.50 C130.23,657.50 131.77,655.35 132.50,655.25 C133.23,655.15 134.23,656.92 135.00,657.75 C135.77,658.58 137.48,660.50 138.25,661.50 C139.02,662.50 140.25,664.42 140.75,665.25 C141.25,666.08 141.67,666.98 142.00,667.75 C142.33,668.52 142.75,670.33 143.25,671.00 C143.75,671.67 145.08,672.62 145.75,672.75 C146.42,672.88 147.58,672.00 148.25,672.00 C148.92,672.00 150.08,672.88 150.75,672.75 C151.42,672.62 152.58,671.43 153.25,671.00 C153.92,670.57 155.18,669.83 155.75,669.50 C156.32,669.17 157.00,668.57 157.50,668.50 C158.00,668.43 158.97,669.20 159.50,669.00 C160.03,668.80 161.00,668.33 161.50,667.00 C162.00,665.67 162.78,660.57 163.25,659.00 C163.72,657.43 164.50,654.92 165.00,655.25 C165.50,655.58 166.40,660.33 167.00,661.50 C167.60,662.67 168.87,663.17 169.50,664.00 C170.13,664.83 171.22,666.58 171.75,667.75 C172.28,668.92 173.00,671.48 173.50,672.75 C174.00,674.02 174.90,676.42 175.50,677.25 C176.10,678.08 177.17,678.67 178.00,679.00 C178.83,679.33 180.75,679.58 181.75,679.75 C182.75,679.92 184.50,680.18 185.50,680.25 C186.50,680.32 188.25,680.42 189.25,680.25 C190.25,680.08 192.33,679.40 193.00,679.00 C193.67,678.60 193.98,678.25 194.25,677.25 C194.52,676.25 194.77,672.77 195.00,671.50 C195.23,670.23 195.60,668.58 196.00,667.75 C196.40,666.92 197.40,665.42 198.00,665.25 C198.60,665.08 200.00,666.17 200.50,666.50 C201.00,666.83 201.25,667.25 201.75,667.75 C202.25,668.25 203.58,669.58 204.25,670.25 C204.92,670.92 206.08,672.08 206.75,672.75 C207.42,673.42 208.68,675.25 209.25,675.25 C209.82,675.25 210.50,673.75 211.00,672.75 C211.50,671.75 212.47,668.92 213.00,667.75 C213.53,666.58 214.50,664.83 215.00,664.00 C215.50,663.17 216.18,661.77 216.75,661.50 C217.32,661.23 218.68,662.33 219.25,662.00 C219.82,661.67 220.50,659.90 221.00,659.00 C221.50,658.10 222.47,656.08 223.00,655.25 C223.53,654.42 224.60,653.75 225.00,652.75 C225.40,651.75 225.67,647.98 226.00,647.75 C226.33,647.52 227.07,650.10 227.50,651.00 C227.93,651.90 228.68,653.83 229.25,654.50 C229.82,655.17 231.08,655.40 231.75,656.00 C232.42,656.60 233.58,658.20 234.25,659.00 C234.92,659.80 236.08,661.17 236.75,662.00 C237.42,662.83 238.75,664.48 239.25,665.25 C239.75,666.02 240.17,666.92 240.50,667.75 C240.83,668.58 241.42,670.50 241.75,671.50 C242.08,672.50 242.57,674.48 243.00,675.25 C243.43,676.02 244.40,676.65 245.00,677.25 C245.60,677.85 246.83,679.25 247.50,679.75 C248.17,680.25 249.27,681.03 250.00,681.00 C250.73,680.97 252.20,679.83 253.00,679.50 C253.80,679.17 255.27,678.73 256.00,678.50 C256.73,678.27 257.97,678.18 258.50,677.75 C259.03,677.32 259.67,676.08 260.00,675.25 C260.33,674.42 260.67,672.40 261.00,671.50 C261.33,670.60 262.07,668.67 262.50,668.50 C262.93,668.33 263.68,669.58 264.25,670.25 C264.82,670.92 266.08,672.73 266.75,673.50 C267.42,674.27 268.58,675.60 269.25,676.00 C269.92,676.40 271.08,676.50 271.75,676.50 C272.42,676.50 273.75,677.33 274.25,676.00 C274.75,674.67 275.17,668.27 275.50,666.50 C275.83,664.73 276.25,663.08 276.75,662.75 C277.25,662.42 278.58,663.57 279.25,664.00 C279.92,664.43 281.18,665.50 281.75,666.00 C282.32,666.50 282.93,667.28 283.50,667.75 C284.07,668.22 285.40,669.17 286.00,669.50 C286.60,669.83 287.40,670.48 288.00,670.25 C288.60,670.02 290.00,668.58 290.50,667.75 C291.00,666.92 291.35,665.33 291.75,664.00 C292.15,662.67 293.13,658.95 293.50,657.75 C293.87,656.55 294.03,655.03 294.50,655.00 C294.97,654.97 296.40,656.80 297.00,657.50 C297.60,658.20 298.40,659.45 299.00,660.25 C299.60,661.05 300.90,662.67 301.50,663.50 C302.10,664.33 303.10,665.93 303.50,666.50 C303.90,667.07 304.10,667.08 304.50,667.75 C304.90,668.42 305.90,670.60 306.50,671.50 C307.10,672.40 308.33,674.00 309.00,674.50 C309.67,675.00 310.83,675.32 311.50,675.25 C312.17,675.18 313.33,674.33 314.00,674.00 C314.67,673.67 315.83,673.25 316.50,672.75 C317.17,672.25 318.33,670.68 319.00,670.25 C319.67,669.82 320.83,669.67 321.50,669.50 C322.17,669.33 323.33,669.13 324.00,669.00 C324.67,668.87 325.83,668.67 326.50,668.50 C327.17,668.33 328.50,668.35 329.00,667.75 C329.50,667.15 329.92,665.43 330.25,664.00 C330.58,662.57 331.07,658.00 331.50,657.00 C331.93,656.00 333.00,656.17 333.50,656.50 C334.00,656.83 334.85,658.50 335.25,659.50 C335.65,660.50 336.17,663.13 336.50,664.00 C336.83,664.87 337.42,666.60 337.75,666.00 C338.08,665.40 338.67,660.93 339.00,659.50 C339.33,658.07 339.75,655.92 340.25,655.25 C340.75,654.58 342.08,654.83 342.75,654.50 C343.42,654.17 344.68,653.32 345.25,652.75 C345.82,652.18 346.50,650.82 347.00,650.25 C347.50,649.68 348.47,648.93 349.00,648.50 C349.53,648.07 350.33,647.20 351.00,647.00 C351.67,646.80 353.33,646.73 354.00,647.00 C354.67,647.27 355.50,648.40 356.00,649.00 C356.50,649.60 357.28,650.83 357.75,651.50 C358.22,652.17 359.00,653.33 359.50,654.00 C360.00,654.67 360.90,655.77 361.50,656.50 C362.10,657.23 363.33,658.90 364.00,659.50 C364.67,660.10 365.83,660.57 366.50,661.00 C367.17,661.43 368.33,662.35 369.00,662.75 C369.67,663.15 370.90,663.50 371.50,664.00 C372.10,664.50 373.10,666.00 373.50,666.50 C373.90,667.00 374.10,667.35 374.50,667.75 C374.90,668.15 375.90,669.07 376.50,669.50 C377.10,669.93 378.33,670.90 379.00,671.00 C379.67,671.10 380.90,670.52 381.50,670.25 C382.10,669.98 383.10,669.33 383.50,669.00 C383.90,668.67 384.17,669.08 384.50,667.75 C384.83,666.42 385.57,661.17 386.00,659.00 C386.43,656.83 387.28,653.00 387.75,651.50 C388.22,650.00 389.07,648.35 389.50,647.75 C389.93,647.15 390.53,646.77 391.00,647.00 C391.47,647.23 392.47,648.40 393.00,649.50 C393.53,650.60 394.33,653.48 395.00,655.25 C395.67,657.02 397.33,661.65 398.00,662.75 C398.67,663.85 399.47,664.00 400.00,663.50 C400.53,663.00 401.50,660.33 402.00,659.00 C402.50,657.67 403.18,654.50 403.75,653.50 C404.32,652.50 405.58,651.43 406.25,651.50 C406.92,651.57 408.08,653.17 408.75,654.00 C409.42,654.83 410.58,656.82 411.25,657.75 C411.92,658.68 413.08,660.90 413.75,661.00 C414.42,661.10 415.75,658.77 416.25,658.50 C416.75,658.23 417.00,658.60 417.50,659.00 C418.00,659.40 419.33,660.90 420.00,661.50 C420.67,662.10 421.83,663.00 422.50,663.50 C423.17,664.00 424.40,664.68 425.00,665.25 C425.60,665.82 426.33,667.35 427.00,667.75 C427.67,668.15 429.10,668.18 430.00,668.25 C430.90,668.32 432.92,668.15 433.75,668.25 C434.58,668.35 435.68,669.07 436.25,669.00 C436.82,668.93 437.50,668.15 438.00,667.75 C438.50,667.35 439.40,666.33 440.00,666.00 C440.60,665.67 441.77,665.45 442.50,665.25 C443.23,665.05 444.90,664.83 445.50,664.50 C446.10,664.17 446.67,664.32 447.00,662.75 C447.33,661.18 447.67,654.58 448.00,652.75 C448.33,650.92 449.07,649.43 449.50,649.00 C449.93,648.57 450.68,649.43 451.25,649.50 C451.82,649.57 453.08,649.57 453.75,649.50 C454.42,649.43 455.52,649.07 456.25,649.00 C456.98,648.93 458.81,649.00 459.20,649.00" fill="none" stroke="#f6b12a" stroke-width="1.25" stroke-linejoin="round" clip-path="url(#dh1)"/>
<path d="M44.50,677.25 C44.83,677.48 46.33,678.43 47.00,679.00 C47.67,679.57 48.83,681.10 49.50,681.50 C50.17,681.90 51.33,682.07 52.00,682.00 C52.67,681.93 53.83,681.30 54.50,681.00 C55.17,680.70 56.33,679.85 57.00,679.75 C57.67,679.65 58.90,680.08 59.50,680.25 C60.10,680.42 61.00,681.17 61.50,681.00 C62.00,680.83 62.85,679.50 63.25,679.00 C63.65,678.50 64.17,677.92 64.50,677.25 C64.83,676.58 65.42,674.93 65.75,674.00 C66.08,673.07 66.67,670.32 67.00,670.25 C67.33,670.18 67.92,672.67 68.25,673.50 C68.58,674.33 69.07,675.93 69.50,676.50 C69.93,677.07 71.10,677.92 71.50,677.75 C71.90,677.58 72.17,676.15 72.50,675.25 C72.83,674.35 73.57,671.77 74.00,671.00 C74.43,670.23 75.18,669.83 75.75,669.50 C76.32,669.17 77.58,668.67 78.25,668.50 C78.92,668.33 80.08,668.25 80.75,668.25 C81.42,668.25 82.68,668.53 83.25,668.50 C83.82,668.47 84.50,667.87 85.00,668.00 C85.50,668.13 86.47,669.23 87.00,669.50 C87.53,669.77 88.50,670.23 89.00,670.00 C89.50,669.77 90.35,668.55 90.75,667.75 C91.15,666.95 91.50,665.17 92.00,664.00 C92.50,662.83 93.83,660.27 94.50,659.00 C95.17,657.73 96.50,655.33 97.00,654.50 C97.50,653.67 97.85,652.75 98.25,652.75 C98.65,652.75 99.43,653.83 100.00,654.50 C100.57,655.17 101.83,656.88 102.50,657.75 C103.17,658.62 104.33,660.33 105.00,661.00 C105.67,661.67 106.90,662.28 107.50,662.75 C108.10,663.22 108.97,663.83 109.50,664.50 C110.03,665.17 111.07,667.15 111.50,667.75 C111.93,668.35 112.35,669.10 112.75,669.00 C113.15,668.90 113.93,667.50 114.50,667.00 C115.07,666.50 116.17,665.65 117.00,665.25 C117.83,664.85 119.75,664.10 120.75,664.00 C121.75,663.90 123.67,664.67 124.50,664.50 C125.33,664.33 126.33,663.55 127.00,662.75 C127.67,661.95 128.77,659.50 129.50,658.50 C130.23,657.50 131.77,655.35 132.50,655.25 C133.23,655.15 134.23,656.92 135.00,657.75 C135.77,658.58 137.48,660.50 138.25,661.50 C139.02,662.50 140.25,664.42 140.75,665.25 C141.25,666.08 141.67,666.98 142.00,667.75 C142.33,668.52 142.75,670.33 143.25,671.00 C143.75,671.67 145.08,672.62 145.75,672.75 C146.42,672.88 147.58,672.00 148.25,672.00 C148.92,672.00 150.08,672.88 150.75,672.75 C151.42,672.62 152.58,671.43 153.25,671.00 C153.92,670.57 155.18,669.83 155.75,669.50 C156.32,669.17 157.00,668.57 157.50,668.50 C158.00,668.43 158.97,669.20 159.50,669.00 C160.03,668.80 161.00,668.33 161.50,667.00 C162.00,665.67 162.78,660.57 163.25,659.00 C163.72,657.43 164.50,654.92 165.00,655.25 C165.50,655.58 166.40,660.33 167.00,661.50 C167.60,662.67 168.87,663.17 169.50,664.00 C170.13,664.83 171.22,666.58 171.75,667.75 C172.28,668.92 173.00,671.48 173.50,672.75 C174.00,674.02 174.90,676.42 175.50,677.25 C176.10,678.08 177.17,678.67 178.00,679.00 C178.83,679.33 180.75,679.58 181.75,679.75 C182.75,679.92 184.50,680.18 185.50,680.25 C186.50,680.32 188.25,680.42 189.25,680.25 C190.25,680.08 192.33,679.40 193.00,679.00 C193.67,678.60 193.98,678.25 194.25,677.25 C194.52,676.25 194.77,672.77 195.00,671.50 C195.23,670.23 195.60,668.58 196.00,667.75 C196.40,666.92 197.40,665.42 198.00,665.25 C198.60,665.08 200.00,666.17 200.50,666.50 C201.00,666.83 201.25,667.25 201.75,667.75 C202.25,668.25 203.58,669.58 204.25,670.25 C204.92,670.92 206.08,672.08 206.75,672.75 C207.42,673.42 208.68,675.25 209.25,675.25 C209.82,675.25 210.50,673.75 211.00,672.75 C211.50,671.75 212.47,668.92 213.00,667.75 C213.53,666.58 214.50,664.83 215.00,664.00 C215.50,663.17 216.18,661.77 216.75,661.50 C217.32,661.23 218.68,662.33 219.25,662.00 C219.82,661.67 220.50,659.90 221.00,659.00 C221.50,658.10 222.47,656.08 223.00,655.25 C223.53,654.42 224.60,653.75 225.00,652.75 C225.40,651.75 225.67,647.98 226.00,647.75 C226.33,647.52 227.07,650.10 227.50,651.00 C227.93,651.90 228.68,653.83 229.25,654.50 C229.82,655.17 231.08,655.40 231.75,656.00 C232.42,656.60 233.58,658.20 234.25,659.00 C234.92,659.80 236.08,661.17 236.75,662.00 C237.42,662.83 238.75,664.48 239.25,665.25 C239.75,666.02 240.17,666.92 240.50,667.75 C240.83,668.58 241.42,670.50 241.75,671.50 C242.08,672.50 242.57,674.48 243.00,675.25 C243.43,676.02 244.40,676.65 245.00,677.25 C245.60,677.85 246.83,679.25 247.50,679.75 C248.17,680.25 249.27,681.03 250.00,681.00 C250.73,680.97 252.20,679.83 253.00,679.50 C253.80,679.17 255.27,678.73 256.00,678.50 C256.73,678.27 257.97,678.18 258.50,677.75 C259.03,677.32 259.67,676.08 260.00,675.25 C260.33,674.42 260.67,672.40 261.00,671.50 C261.33,670.60 262.07,668.67 262.50,668.50 C262.93,668.33 263.68,669.58 264.25,670.25 C264.82,670.92 266.08,672.73 266.75,673.50 C267.42,674.27 268.58,675.60 269.25,676.00 C269.92,676.40 271.08,676.50 271.75,676.50 C272.42,676.50 273.75,677.33 274.25,676.00 C274.75,674.67 275.17,668.27 275.50,666.50 C275.83,664.73 276.25,663.08 276.75,662.75 C277.25,662.42 278.58,663.57 279.25,664.00 C279.92,664.43 281.18,665.50 281.75,666.00 C282.32,666.50 282.93,667.28 283.50,667.75 C284.07,668.22 285.40,669.17 286.00,669.50 C286.60,669.83 287.40,670.48 288.00,670.25 C288.60,670.02 290.00,668.58 290.50,667.75 C291.00,666.92 291.35,665.33 291.75,664.00 C292.15,662.67 293.13,658.95 293.50,657.75 C293.87,656.55 294.03,655.03 294.50,655.00 C294.97,654.97 296.40,656.80 297.00,657.50 C297.60,658.20 298.40,659.45 299.00,660.25 C299.60,661.05 300.90,662.67 301.50,663.50 C302.10,664.33 303.10,665.93 303.50,666.50 C303.90,667.07 304.10,667.08 304.50,667.75 C304.90,668.42 305.90,670.60 306.50,671.50 C307.10,672.40 308.33,674.00 309.00,674.50 C309.67,675.00 310.83,675.32 311.50,675.25 C312.17,675.18 313.33,674.33 314.00,674.00 C314.67,673.67 315.83,673.25 316.50,672.75 C317.17,672.25 318.33,670.68 319.00,670.25 C319.67,669.82 320.83,669.67 321.50,669.50 C322.17,669.33 323.33,669.13 324.00,669.00 C324.67,668.87 325.83,668.67 326.50,668.50 C327.17,668.33 328.50,668.35 329.00,667.75 C329.50,667.15 329.92,665.43 330.25,664.00 C330.58,662.57 331.07,658.00 331.50,657.00 C331.93,656.00 333.00,656.17 333.50,656.50 C334.00,656.83 334.85,658.50 335.25,659.50 C335.65,660.50 336.17,663.13 336.50,664.00 C336.83,664.87 337.42,666.60 337.75,666.00 C338.08,665.40 338.67,660.93 339.00,659.50 C339.33,658.07 339.75,655.92 340.25,655.25 C340.75,654.58 342.08,654.83 342.75,654.50 C343.42,654.17 344.68,653.32 345.25,652.75 C345.82,652.18 346.50,650.82 347.00,650.25 C347.50,649.68 348.47,648.93 349.00,648.50 C349.53,648.07 350.33,647.20 351.00,647.00 C351.67,646.80 353.33,646.73 354.00,647.00 C354.67,647.27 355.50,648.40 356.00,649.00 C356.50,649.60 357.28,650.83 357.75,651.50 C358.22,652.17 359.00,653.33 359.50,654.00 C360.00,654.67 360.90,655.77 361.50,656.50 C362.10,657.23 363.33,658.90 364.00,659.50 C364.67,660.10 365.83,660.57 366.50,661.00 C367.17,661.43 368.33,662.35 369.00,662.75 C369.67,663.15 370.90,663.50 371.50,664.00 C372.10,664.50 373.10,666.00 373.50,666.50 C373.90,667.00 374.10,667.35 374.50,667.75 C374.90,668.15 375.90,669.07 376.50,669.50 C377.10,669.93 378.33,670.90 379.00,671.00 C379.67,671.10 380.90,670.52 381.50,670.25 C382.10,669.98 383.10,669.33 383.50,669.00 C383.90,668.67 384.17,669.08 384.50,667.75 C384.83,666.42 385.57,661.17 386.00,659.00 C386.43,656.83 387.28,653.00 387.75,651.50 C388.22,650.00 389.07,648.35 389.50,647.75 C389.93,647.15 390.53,646.77 391.00,647.00 C391.47,647.23 392.47,648.40 393.00,649.50 C393.53,650.60 394.33,653.48 395.00,655.25 C395.67,657.02 397.33,661.65 398.00,662.75 C398.67,663.85 399.47,664.00 400.00,663.50 C400.53,663.00 401.50,660.33 402.00,659.00 C402.50,657.67 403.18,654.50 403.75,653.50 C404.32,652.50 405.58,651.43 406.25,651.50 C406.92,651.57 408.08,653.17 408.75,654.00 C409.42,654.83 410.58,656.82 411.25,657.75 C411.92,658.68 413.08,660.90 413.75,661.00 C414.42,661.10 415.75,658.77 416.25,658.50 C416.75,658.23 417.00,658.60 417.50,659.00 C418.00,659.40 419.33,660.90 420.00,661.50 C420.67,662.10 421.83,663.00 422.50,663.50 C423.17,664.00 424.40,664.68 425.00,665.25 C425.60,665.82 426.33,667.35 427.00,667.75 C427.67,668.15 429.10,668.18 430.00,668.25 C430.90,668.32 432.92,668.15 433.75,668.25 C434.58,668.35 435.68,669.07 436.25,669.00 C436.82,668.93 437.50,668.15 438.00,667.75 C438.50,667.35 439.40,666.33 440.00,666.00 C440.60,665.67 441.77,665.45 442.50,665.25 C443.23,665.05 444.90,664.83 445.50,664.50 C446.10,664.17 446.67,664.32 447.00,662.75 C447.33,661.18 447.67,654.58 448.00,652.75 C448.33,650.92 449.07,649.43 449.50,649.00 C449.93,648.57 450.68,649.43 451.25,649.50 C451.82,649.57 453.08,649.57 453.75,649.50 C454.42,649.43 455.52,649.07 456.25,649.00 C456.98,648.93 458.81,649.00 459.20,649.00" fill="none" stroke="#3e9f3e" stroke-width="1.25" stroke-linejoin="round" clip-path="url(#dt1)"/>
<path d="M44.50,677.25 C44.83,677.48 46.33,678.43 47.00,679.00 C47.67,679.57 48.83,681.10 49.50,681.50 C50.17,681.90 51.33,682.07 52.00,682.00 C52.67,681.93 53.83,681.30 54.50,681.00 C55.17,680.70 56.33,679.85 57.00,679.75 C57.67,679.65 58.90,680.08 59.50,680.25 C60.10,680.42 61.00,681.17 61.50,681.00 C62.00,680.83 62.85,679.50 63.25,679.00 C63.65,678.50 64.17,677.92 64.50,677.25 C64.83,676.58 65.42,674.93 65.75,674.00 C66.08,673.07 66.67,670.32 67.00,670.25 C67.33,670.18 67.92,672.67 68.25,673.50 C68.58,674.33 69.07,675.93 69.50,676.50 C69.93,677.07 71.10,677.92 71.50,677.75 C71.90,677.58 72.17,676.15 72.50,675.25 C72.83,674.35 73.57,671.77 74.00,671.00 C74.43,670.23 75.18,669.83 75.75,669.50 C76.32,669.17 77.58,668.67 78.25,668.50 C78.92,668.33 80.08,668.25 80.75,668.25 C81.42,668.25 82.68,668.53 83.25,668.50 C83.82,668.47 84.50,667.87 85.00,668.00 C85.50,668.13 86.47,669.23 87.00,669.50 C87.53,669.77 88.50,670.23 89.00,670.00 C89.50,669.77 90.35,668.55 90.75,667.75 C91.15,666.95 91.50,665.17 92.00,664.00 C92.50,662.83 93.83,660.27 94.50,659.00 C95.17,657.73 96.50,655.33 97.00,654.50 C97.50,653.67 97.85,652.75 98.25,652.75 C98.65,652.75 99.43,653.83 100.00,654.50 C100.57,655.17 101.83,656.88 102.50,657.75 C103.17,658.62 104.33,660.33 105.00,661.00 C105.67,661.67 106.90,662.28 107.50,662.75 C108.10,663.22 108.97,663.83 109.50,664.50 C110.03,665.17 111.07,667.15 111.50,667.75 C111.93,668.35 112.35,669.10 112.75,669.00 C113.15,668.90 113.93,667.50 114.50,667.00 C115.07,666.50 116.17,665.65 117.00,665.25 C117.83,664.85 119.75,664.10 120.75,664.00 C121.75,663.90 123.67,664.67 124.50,664.50 C125.33,664.33 126.33,663.55 127.00,662.75 C127.67,661.95 128.77,659.50 129.50,658.50 C130.23,657.50 131.77,655.35 132.50,655.25 C133.23,655.15 134.23,656.92 135.00,657.75 C135.77,658.58 137.48,660.50 138.25,661.50 C139.02,662.50 140.25,664.42 140.75,665.25 C141.25,666.08 141.67,666.98 142.00,667.75 C142.33,668.52 142.75,670.33 143.25,671.00 C143.75,671.67 145.08,672.62 145.75,672.75 C146.42,672.88 147.58,672.00 148.25,672.00 C148.92,672.00 150.08,672.88 150.75,672.75 C151.42,672.62 152.58,671.43 153.25,671.00 C153.92,670.57 155.18,669.83 155.75,669.50 C156.32,669.17 157.00,668.57 157.50,668.50 C158.00,668.43 158.97,669.20 159.50,669.00 C160.03,668.80 161.00,668.33 161.50,667.00 C162.00,665.67 162.78,660.57 163.25,659.00 C163.72,657.43 164.50,654.92 165.00,655.25 C165.50,655.58 166.40,660.33 167.00,661.50 C167.60,662.67 168.87,663.17 169.50,664.00 C170.13,664.83 171.22,666.58 171.75,667.75 C172.28,668.92 173.00,671.48 173.50,672.75 C174.00,674.02 174.90,676.42 175.50,677.25 C176.10,678.08 177.17,678.67 178.00,679.00 C178.83,679.33 180.75,679.58 181.75,679.75 C182.75,679.92 184.50,680.18 185.50,680.25 C186.50,680.32 188.25,680.42 189.25,680.25 C190.25,680.08 192.33,679.40 193.00,679.00 C193.67,678.60 193.98,678.25 194.25,677.25 C194.52,676.25 194.77,672.77 195.00,671.50 C195.23,670.23 195.60,668.58 196.00,667.75 C196.40,666.92 197.40,665.42 198.00,665.25 C198.60,665.08 200.00,666.17 200.50,666.50 C201.00,666.83 201.25,667.25 201.75,667.75 C202.25,668.25 203.58,669.58 204.25,670.25 C204.92,670.92 206.08,672.08 206.75,672.75 C207.42,673.42 208.68,675.25 209.25,675.25 C209.82,675.25 210.50,673.75 211.00,672.75 C211.50,671.75 212.47,668.92 213.00,667.75 C213.53,666.58 214.50,664.83 215.00,664.00 C215.50,663.17 216.18,661.77 216.75,661.50 C217.32,661.23 218.68,662.33 219.25,662.00 C219.82,661.67 220.50,659.90 221.00,659.00 C221.50,658.10 222.47,656.08 223.00,655.25 C223.53,654.42 224.60,653.75 225.00,652.75 C225.40,651.75 225.67,647.98 226.00,647.75 C226.33,647.52 227.07,650.10 227.50,651.00 C227.93,651.90 228.68,653.83 229.25,654.50 C229.82,655.17 231.08,655.40 231.75,656.00 C232.42,656.60 233.58,658.20 234.25,659.00 C234.92,659.80 236.08,661.17 236.75,662.00 C237.42,662.83 238.75,664.48 239.25,665.25 C239.75,666.02 240.17,666.92 240.50,667.75 C240.83,668.58 241.42,670.50 241.75,671.50 C242.08,672.50 242.57,674.48 243.00,675.25 C243.43,676.02 244.40,676.65 245.00,677.25 C245.60,677.85 246.83,679.25 247.50,679.75 C248.17,680.25 249.27,681.03 250.00,681.00 C250.73,680.97 252.20,679.83 253.00,679.50 C253.80,679.17 255.27,678.73 256.00,678.50 C256.73,678.27 257.97,678.18 258.50,677.75 C259.03,677.32 259.67,676.08 260.00,675.25 C260.33,674.42 260.67,672.40 261.00,671.50 C261.33,670.60 262.07,668.67 262.50,668.50 C262.93,668.33 263.68,669.58 264.25,670.25 C264.82,670.92 266.08,672.73 266.75,673.50 C267.42,674.27 268.58,675.60 269.25,676.00 C269.92,676.40 271.08,676.50 271.75,676.50 C272.42,676.50 273.75,677.33 274.25,676.00 C274.75,674.67 275.17,668.27 275.50,666.50 C275.83,664.73 276.25,663.08 276.75,662.75 C277.25,662.42 278.58,663.57 279.25,664.00 C279.92,664.43 281.18,665.50 281.75,666.00 C282.32,666.50 282.93,667.28 283.50,667.75 C284.07,668.22 285.40,669.17 286.00,669.50 C286.60,669.83 287.40,670.48 288.00,670.25 C288.60,670.02 290.00,668.58 290.50,667.75 C291.00,666.92 291.35,665.33 291.75,664.00 C292.15,662.67 293.13,658.95 293.50,657.75 C293.87,656.55 294.03,655.03 294.50,655.00 C294.97,654.97 296.40,656.80 297.00,657.50 C297.60,658.20 298.40,659.45 299.00,660.25 C299.60,661.05 300.90,662.67 301.50,663.50 C302.10,664.33 303.10,665.93 303.50,666.50 C303.90,667.07 304.10,667.08 304.50,667.75 C304.90,668.42 305.90,670.60 306.50,671.50 C307.10,672.40 308.33,674.00 309.00,674.50 C309.67,675.00 310.83,675.32 311.50,675.25 C312.17,675.18 313.33,674.33 314.00,674.00 C314.67,673.67 315.83,673.25 316.50,672.75 C317.17,672.25 318.33,670.68 319.00,670.25 C319.67,669.82 320.83,669.67 321.50,669.50 C322.17,669.33 323.33,669.13 324.00,669.00 C324.67,668.87 325.83,668.67 326.50,668.50 C327.17,668.33 328.50,668.35 329.00,667.75 C329.50,667.15 329.92,665.43 330.25,664.00 C330.58,662.57 331.07,658.00 331.50,657.00 C331.93,656.00 333.00,656.17 333.50,656.50 C334.00,656.83 334.85,658.50 335.25,659.50 C335.65,660.50 336.17,663.13 336.50,664.00 C336.83,664.87 337.42,666.60 337.75,666.00 C338.08,665.40 338.67,660.93 339.00,659.50 C339.33,658.07 339.75,655.92 340.25,655.25 C340.75,654.58 342.08,654.83 342.75,654.50 C343.42,654.17 344.68,653.32 345.25,652.75 C345.82,652.18 346.50,650.82 347.00,650.25 C347.50,649.68 348.47,648.93 349.00,648.50 C349.53,648.07 350.33,647.20 351.00,647.00 C351.67,646.80 353.33,646.73 354.00,647.00 C354.67,647.27 355.50,648.40 356.00,649.00 C356.50,649.60 357.28,650.83 357.75,651.50 C358.22,652.17 359.00,653.33 359.50,654.00 C360.00,654.67 360.90,655.77 361.50,656.50 C362.10,657.23 363.33,658.90 364.00,659.50 C364.67,660.10 365.83,660.57 366.50,661.00 C367.17,661.43 368.33,662.35 369.00,662.75 C369.67,663.15 370.90,663.50 371.50,664.00 C372.10,664.50 373.10,666.00 373.50,666.50 C373.90,667.00 374.10,667.35 374.50,667.75 C374.90,668.15 375.90,669.07 376.50,669.50 C377.10,669.93 378.33,670.90 379.00,671.00 C379.67,671.10 380.90,670.52 381.50,670.25 C382.10,669.98 383.10,669.33 383.50,669.00 C383.90,668.67 384.17,669.08 384.50,667.75 C384.83,666.42 385.57,661.17 386.00,659.00 C386.43,656.83 387.28,653.00 387.75,651.50 C388.22,650.00 389.07,648.35 389.50,647.75 C389.93,647.15 390.53,646.77 391.00,647.00 C391.47,647.23 392.47,648.40 393.00,649.50 C393.53,650.60 394.33,653.48 395.00,655.25 C395.67,657.02 397.33,661.65 398.00,662.75 C398.67,663.85 399.47,664.00 400.00,663.50 C400.53,663.00 401.50,660.33 402.00,659.00 C402.50,657.67 403.18,654.50 403.75,653.50 C404.32,652.50 405.58,651.43 406.25,651.50 C406.92,651.57 408.08,653.17 408.75,654.00 C409.42,654.83 410.58,656.82 411.25,657.75 C411.92,658.68 413.08,660.90 413.75,661.00 C414.42,661.10 415.75,658.77 416.25,658.50 C416.75,658.23 417.00,658.60 417.50,659.00 C418.00,659.40 419.33,660.90 420.00,661.50 C420.67,662.10 421.83,663.00 422.50,663.50 C423.17,664.00 424.40,664.68 425.00,665.25 C425.60,665.82 426.33,667.35 427.00,667.75 C427.67,668.15 429.10,668.18 430.00,668.25 C430.90,668.32 432.92,668.15 433.75,668.25 C434.58,668.35 435.68,669.07 436.25,669.00 C436.82,668.93 437.50,668.15 438.00,667.75 C438.50,667.35 439.40,666.33 440.00,666.00 C440.60,665.67 441.77,665.45 442.50,665.25 C443.23,665.05 444.90,664.83 445.50,664.50 C446.10,664.17 446.67,664.32 447.00,662.75 C447.33,661.18 447.67,654.58 448.00,652.75 C448.33,650.92 449.07,649.43 449.50,649.00 C449.93,648.57 450.68,649.43 451.25,649.50 C451.82,649.57 453.08,649.57 453.75,649.50 C454.42,649.43 455.52,649.07 456.25,649.00 C456.98,648.93 458.81,649.00 459.20,649.00" fill="none" stroke="#e2402c" stroke-width="1.25" stroke-linejoin="round" clip-path="url(#dl1)"/>
<text transform="translate(46.5,655.4) scale(0.92,1)" font-family="DejaVu Sans, sans-serif" font-size="8" fill="#58585a" stroke="#58585a" stroke-width="0.25">15</text>
<text transform="translate(110.79999999999998,655.4) scale(0.92,1)" font-family="DejaVu Sans, sans-serif" font-size="8" fill="#58585a" stroke="#58585a" stroke-width="0.25">16</text>
<text transform="translate(173.7,655.4) scale(0.92,1)" font-family="DejaVu Sans, sans-serif" font-size="8" fill="#58585a" stroke="#58585a" stroke-width="0.25">17</text>
<text transform="translate(236.6,655.4) scale(0.92,1)" font-family="DejaVu Sans, sans-serif" font-size="8" fill="#58585a" stroke="#58585a" stroke-width="0.25">18</text>
<text transform="translate(299.5,655.4) scale(0.92,1)" font-family="DejaVu Sans, sans-serif" font-size="8" fill="#58585a" stroke="#58585a" stroke-width="0.25">19</text>
<text transform="translate(362.40000000000003,655.4) scale(0.92,1)" font-family="DejaVu Sans, sans-serif" font-size="8" fill="#58585a" stroke="#58585a" stroke-width="0.25">20</text>
<text transform="translate(425.3,655.4) scale(0.92,1)" font-family="DejaVu Sans, sans-serif" font-size="8" fill="#58585a" stroke="#58585a" stroke-width="0.25">21</text>
<text transform="translate(41.9,669.6999999999999) scale(0.85,1)" font-family="DejaVu Sans, sans-serif" font-size="6.4" font-weight="bold" stroke="#231f20" stroke-width="0.22" fill="#231f20" text-anchor="end">180</text>
<text transform="translate(41.9,679.9) scale(0.85,1)" font-family="DejaVu Sans, sans-serif" font-size="6.4" font-weight="bold" stroke="#231f20" stroke-width="0.22" fill="#231f20" text-anchor="end">70</text>
<text transform="translate(25.3,671.3) rotate(-90)" x="-9.25" font-family="DejaVu Sans, sans-serif" font-size="6.6" font-weight="bold" fill="#231f20" stroke="#231f20" stroke-width="0.15" textLength="18.5" lengthAdjust="spacingAndGlyphs">mg/dL</text>
<text transform="translate(78.25,641.5) scale(0.91,1)" font-family="DejaVu Sans, sans-serif" font-size="6.6" font-weight="bold" stroke="#231f20" stroke-width="0.22" fill="#231f20" text-anchor="middle">12pm</text>
<text transform="translate(141.14999999999998,641.5) scale(0.91,1)" font-family="DejaVu Sans, sans-serif" font-size="6.6" font-weight="bold" stroke="#231f20" stroke-width="0.22" fill="#231f20" text-anchor="middle">12pm</text>
<text transform="translate(204.05,641.5) scale(0.91,1)" font-family="DejaVu Sans, sans-serif" font-size="6.6" font-weight="bold" stroke="#231f20" stroke-width="0.22" fill="#231f20" text-anchor="middle">12pm</text>
<text transform="translate(266.95,641.5) scale(0.91,1)" font-family="DejaVu Sans, sans-serif" font-size="6.6" font-weight="bold" stroke="#231f20" stroke-width="0.22" fill="#231f20" text-anchor="middle">12pm</text>
<text transform="translate(329.85,641.5) scale(0.91,1)" font-family="DejaVu Sans, sans-serif" font-size="6.6" font-weight="bold" stroke="#231f20" stroke-width="0.22" fill="#231f20" text-anchor="middle">12pm</text>
<text transform="translate(392.75,641.5) scale(0.91,1)" font-family="DejaVu Sans, sans-serif" font-size="6.6" font-weight="bold" stroke="#231f20" stroke-width="0.22" fill="#231f20" text-anchor="middle">12pm</text>
<text transform="translate(455.65,641.5) scale(0.91,1)" font-family="DejaVu Sans, sans-serif" font-size="6.6" font-weight="bold" stroke="#231f20" stroke-width="0.22" fill="#231f20" text-anchor="middle">12pm</text>
</svg></body></html>
